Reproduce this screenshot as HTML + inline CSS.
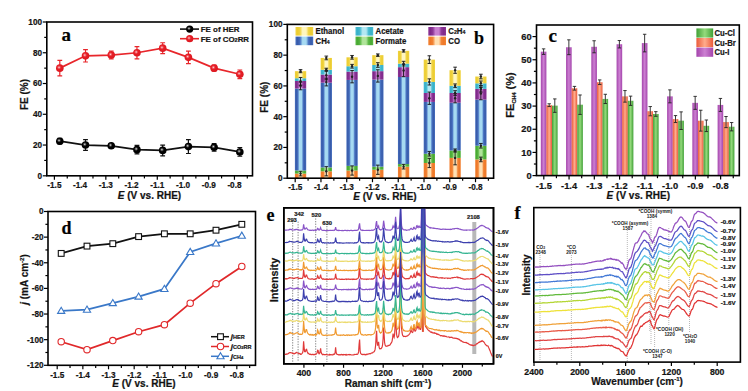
<!DOCTYPE html><html><head><meta charset="utf-8"><style>html,body{margin:0;padding:0;background:#fff;}svg{display:block;}</style></head><body><svg width="748" height="391" viewBox="0 0 748 391">
<rect width="748" height="391" fill="#fff"/>
<style>text{stroke:#222;stroke-width:0.22px;}</style>
<rect x="46.8" y="22" width="205.7" height="153.8" fill="none" stroke="#000" stroke-width="1.6"/>
<line x1="42.8" y1="175.8" x2="46.8" y2="175.8" stroke="#000" stroke-width="1.2"/>
<line x1="42.8" y1="145.04" x2="46.8" y2="145.04" stroke="#000" stroke-width="1.2"/>
<line x1="42.8" y1="114.28" x2="46.8" y2="114.28" stroke="#000" stroke-width="1.2"/>
<line x1="42.8" y1="83.52" x2="46.8" y2="83.52" stroke="#000" stroke-width="1.2"/>
<line x1="42.8" y1="52.76" x2="46.8" y2="52.76" stroke="#000" stroke-width="1.2"/>
<line x1="42.8" y1="22" x2="46.8" y2="22" stroke="#000" stroke-width="1.2"/>
<line x1="44.2" y1="160.42" x2="46.8" y2="160.42" stroke="#000" stroke-width="1.2"/>
<line x1="44.2" y1="129.66" x2="46.8" y2="129.66" stroke="#000" stroke-width="1.2"/>
<line x1="44.2" y1="98.9" x2="46.8" y2="98.9" stroke="#000" stroke-width="1.2"/>
<line x1="44.2" y1="68.14" x2="46.8" y2="68.14" stroke="#000" stroke-width="1.2"/>
<line x1="44.2" y1="37.38" x2="46.8" y2="37.38" stroke="#000" stroke-width="1.2"/>
<text x="42" y="178.7" font-family="Liberation Sans" font-weight="bold" font-size="8.2" text-anchor="end" fill="#111">0</text>
<text x="42" y="147.94" font-family="Liberation Sans" font-weight="bold" font-size="8.2" text-anchor="end" fill="#111">20</text>
<text x="42" y="117.18" font-family="Liberation Sans" font-weight="bold" font-size="8.2" text-anchor="end" fill="#111">40</text>
<text x="42" y="86.42" font-family="Liberation Sans" font-weight="bold" font-size="8.2" text-anchor="end" fill="#111">60</text>
<text x="42" y="55.66" font-family="Liberation Sans" font-weight="bold" font-size="8.2" text-anchor="end" fill="#111">80</text>
<text x="42" y="24.9" font-family="Liberation Sans" font-weight="bold" font-size="8.2" text-anchor="end" fill="#111">100</text>
<line x1="54.4" y1="175.8" x2="54.4" y2="179.8" stroke="#000" stroke-width="1.2"/>
<line x1="80.12" y1="175.8" x2="80.12" y2="179.8" stroke="#000" stroke-width="1.2"/>
<line x1="105.84" y1="175.8" x2="105.84" y2="179.8" stroke="#000" stroke-width="1.2"/>
<line x1="131.56" y1="175.8" x2="131.56" y2="179.8" stroke="#000" stroke-width="1.2"/>
<line x1="157.28" y1="175.8" x2="157.28" y2="179.8" stroke="#000" stroke-width="1.2"/>
<line x1="183" y1="175.8" x2="183" y2="179.8" stroke="#000" stroke-width="1.2"/>
<line x1="208.72" y1="175.8" x2="208.72" y2="179.8" stroke="#000" stroke-width="1.2"/>
<line x1="234.44" y1="175.8" x2="234.44" y2="179.8" stroke="#000" stroke-width="1.2"/>
<line x1="67.26" y1="175.8" x2="67.26" y2="178.4" stroke="#000" stroke-width="1.2"/>
<line x1="92.98" y1="175.8" x2="92.98" y2="178.4" stroke="#000" stroke-width="1.2"/>
<line x1="118.7" y1="175.8" x2="118.7" y2="178.4" stroke="#000" stroke-width="1.2"/>
<line x1="144.42" y1="175.8" x2="144.42" y2="178.4" stroke="#000" stroke-width="1.2"/>
<line x1="170.14" y1="175.8" x2="170.14" y2="178.4" stroke="#000" stroke-width="1.2"/>
<line x1="195.86" y1="175.8" x2="195.86" y2="178.4" stroke="#000" stroke-width="1.2"/>
<line x1="221.58" y1="175.8" x2="221.58" y2="178.4" stroke="#000" stroke-width="1.2"/>
<line x1="247.3" y1="175.8" x2="247.3" y2="178.4" stroke="#000" stroke-width="1.2"/>
<text x="54.4" y="188.2" font-family="Liberation Sans" font-weight="bold" font-size="8.2" text-anchor="middle" fill="#111">-1.5</text>
<text x="80.12" y="188.2" font-family="Liberation Sans" font-weight="bold" font-size="8.2" text-anchor="middle" fill="#111">-1.4</text>
<text x="105.84" y="188.2" font-family="Liberation Sans" font-weight="bold" font-size="8.2" text-anchor="middle" fill="#111">-1.3</text>
<text x="131.56" y="188.2" font-family="Liberation Sans" font-weight="bold" font-size="8.2" text-anchor="middle" fill="#111">-1.2</text>
<text x="157.28" y="188.2" font-family="Liberation Sans" font-weight="bold" font-size="8.2" text-anchor="middle" fill="#111">-1.1</text>
<text x="183" y="188.2" font-family="Liberation Sans" font-weight="bold" font-size="8.2" text-anchor="middle" fill="#111">-1.0</text>
<text x="208.72" y="188.2" font-family="Liberation Sans" font-weight="bold" font-size="8.2" text-anchor="middle" fill="#111">-0.9</text>
<text x="234.44" y="188.2" font-family="Liberation Sans" font-weight="bold" font-size="8.2" text-anchor="middle" fill="#111">-0.8</text>
<text transform="translate(27.5,94.5) rotate(-90)" font-family="Liberation Sans" font-weight="bold" font-size="10" text-anchor="middle" fill="#111">FE (%)</text>
<text x="149.5" y="199.3" font-family="Liberation Sans" font-weight="bold" font-size="10" text-anchor="middle" fill="#111"><tspan font-style="italic">E</tspan> (V vs. RHE)</text>
<text x="61.5" y="40.9" font-family="Liberation Serif" font-weight="bold" font-size="19" fill="#000">a</text>
<defs><radialGradient id="gb" cx="0.4" cy="0.4" r="0.6"><stop offset="0" stop-color="#eee"/><stop offset="0.22" stop-color="#555"/><stop offset="0.45" stop-color="#000"/><stop offset="1" stop-color="#000"/></radialGradient><radialGradient id="gr" cx="0.4" cy="0.4" r="0.6"><stop offset="0" stop-color="#ffdede"/><stop offset="0.22" stop-color="#f06068"/><stop offset="0.45" stop-color="#e61e26"/><stop offset="1" stop-color="#dc1820"/></radialGradient></defs>
<polyline points="59.8,141.19 85.52,145.04 111.24,145.81 136.96,149.65 162.68,150.42 188.4,146.58 214.12,147.35 239.84,151.96" fill="none" stroke="#111" stroke-width="1.7"/>
<polyline points="59.8,68.14 85.52,55.84 111.24,55.07 136.96,52.76 162.68,48.15 188.4,57.37 214.12,68.14 239.84,74.29" fill="none" stroke="#e8262b" stroke-width="1.7"/>
<path d="M59.8 138.43V143.96M57.4 138.43H62.2M57.4 143.96H62.2" stroke="#111" stroke-width="1.2" fill="none"/>
<circle cx="59.8" cy="141.19" r="3.8" fill="url(#gb)"/>
<path d="M85.52 139.66V150.42M83.12 139.66H87.92M83.12 150.42H87.92" stroke="#111" stroke-width="1.2" fill="none"/>
<circle cx="85.52" cy="145.04" r="3.8" fill="url(#gb)"/>
<path d="M111.24 143.5V148.12M108.84 143.5H113.64M108.84 148.12H113.64" stroke="#111" stroke-width="1.2" fill="none"/>
<circle cx="111.24" cy="145.81" r="3.8" fill="url(#gb)"/>
<path d="M136.96 145.35V153.96M134.56 145.35H139.36M134.56 153.96H139.36" stroke="#111" stroke-width="1.2" fill="none"/>
<circle cx="136.96" cy="149.65" r="3.8" fill="url(#gb)"/>
<path d="M162.68 145.04V155.81M160.28 145.04H165.08M160.28 155.81H165.08" stroke="#111" stroke-width="1.2" fill="none"/>
<circle cx="162.68" cy="150.42" r="3.8" fill="url(#gb)"/>
<path d="M188.4 139.66V153.5M186 139.66H190.8M186 153.5H190.8" stroke="#111" stroke-width="1.2" fill="none"/>
<circle cx="188.4" cy="146.58" r="3.8" fill="url(#gb)"/>
<path d="M214.12 143.5V151.19M211.72 143.5H216.52M211.72 151.19H216.52" stroke="#111" stroke-width="1.2" fill="none"/>
<circle cx="214.12" cy="147.35" r="3.8" fill="url(#gb)"/>
<path d="M239.84 147.65V156.27M237.44 147.65H242.24M237.44 156.27H242.24" stroke="#111" stroke-width="1.2" fill="none"/>
<circle cx="239.84" cy="151.96" r="3.8" fill="url(#gb)"/>
<path d="M59.8 60.45V75.83M57.4 60.45H62.2M57.4 75.83H62.2" stroke="#e8262b" stroke-width="1.2" fill="none"/>
<circle cx="59.8" cy="68.14" r="3.8" fill="url(#gr)"/>
<path d="M85.52 49.68V61.99M83.12 49.68H87.92M83.12 61.99H87.92" stroke="#e8262b" stroke-width="1.2" fill="none"/>
<circle cx="85.52" cy="55.84" r="3.8" fill="url(#gr)"/>
<path d="M111.24 51.22V58.91M108.84 51.22H113.64M108.84 58.91H113.64" stroke="#e8262b" stroke-width="1.2" fill="none"/>
<circle cx="111.24" cy="55.07" r="3.8" fill="url(#gr)"/>
<path d="M136.96 46.61V58.91M134.56 46.61H139.36M134.56 58.91H139.36" stroke="#e8262b" stroke-width="1.2" fill="none"/>
<circle cx="136.96" cy="52.76" r="3.8" fill="url(#gr)"/>
<path d="M162.68 42.76V53.53M160.28 42.76H165.08M160.28 53.53H165.08" stroke="#e8262b" stroke-width="1.2" fill="none"/>
<circle cx="162.68" cy="48.15" r="3.8" fill="url(#gr)"/>
<path d="M188.4 51.22V63.53M186 51.22H190.8M186 63.53H190.8" stroke="#e8262b" stroke-width="1.2" fill="none"/>
<circle cx="188.4" cy="57.37" r="3.8" fill="url(#gr)"/>
<path d="M214.12 65.06V71.22M211.72 65.06H216.52M211.72 71.22H216.52" stroke="#e8262b" stroke-width="1.2" fill="none"/>
<circle cx="214.12" cy="68.14" r="3.8" fill="url(#gr)"/>
<path d="M239.84 69.99V78.6M237.44 69.99H242.24M237.44 78.6H242.24" stroke="#e8262b" stroke-width="1.2" fill="none"/>
<circle cx="239.84" cy="74.29" r="3.8" fill="url(#gr)"/>
<line x1="180" y1="29.1" x2="199" y2="29.1" stroke="#111" stroke-width="1.6"/>
<circle cx="189.7" cy="29.1" r="3.6" fill="url(#gb)"/>
<text x="200.8" y="31.9" font-family="Liberation Sans" font-weight="bold" font-size="7.9" fill="#111">FE of HER</text>
<line x1="180" y1="38.7" x2="199" y2="38.7" stroke="#e8262b" stroke-width="1.6"/>
<circle cx="189.7" cy="38.7" r="3.6" fill="url(#gr)"/>
<text x="200.8" y="41.5" font-family="Liberation Sans" font-weight="bold" font-size="7.9" fill="#111">FE of CO<tspan font-size="5.5">2</tspan>RR</text>
<defs><linearGradient id="gEt" x1="0" x2="1" y1="0" y2="0"><stop offset="0" stop-color="#f0d444"/><stop offset="0.12" stop-color="#eccc30"/><stop offset="0.26" stop-color="#f0d444"/><stop offset="0.4" stop-color="#fff6c0"/><stop offset="0.6" stop-color="#fff6c0"/><stop offset="0.74" stop-color="#f0d444"/><stop offset="0.88" stop-color="#eccc30"/><stop offset="1" stop-color="#f0d444"/></linearGradient></defs>
<defs><linearGradient id="gAc" x1="0" x2="1" y1="0" y2="0"><stop offset="0" stop-color="#48bcd2"/><stop offset="0.12" stop-color="#38b0c8"/><stop offset="0.26" stop-color="#48bcd2"/><stop offset="0.4" stop-color="#b4e8f2"/><stop offset="0.6" stop-color="#b4e8f2"/><stop offset="0.74" stop-color="#48bcd2"/><stop offset="0.88" stop-color="#38b0c8"/><stop offset="1" stop-color="#48bcd2"/></linearGradient></defs>
<defs><linearGradient id="gC2" x1="0" x2="1" y1="0" y2="0"><stop offset="0" stop-color="#8e3898"/><stop offset="0.12" stop-color="#7e2888"/><stop offset="0.26" stop-color="#8e3898"/><stop offset="0.4" stop-color="#c87ed0"/><stop offset="0.6" stop-color="#c87ed0"/><stop offset="0.74" stop-color="#8e3898"/><stop offset="0.88" stop-color="#7e2888"/><stop offset="1" stop-color="#8e3898"/></linearGradient></defs>
<defs><linearGradient id="gCH" x1="0" x2="1" y1="0" y2="0"><stop offset="0" stop-color="#4670c0"/><stop offset="0.12" stop-color="#385aa8"/><stop offset="0.26" stop-color="#4670c0"/><stop offset="0.4" stop-color="#a6daf2"/><stop offset="0.6" stop-color="#a6daf2"/><stop offset="0.74" stop-color="#4670c0"/><stop offset="0.88" stop-color="#385aa8"/><stop offset="1" stop-color="#4670c0"/></linearGradient></defs>
<defs><linearGradient id="gFo" x1="0" x2="1" y1="0" y2="0"><stop offset="0" stop-color="#5ab844"/><stop offset="0.12" stop-color="#48a832"/><stop offset="0.26" stop-color="#5ab844"/><stop offset="0.4" stop-color="#b0e49a"/><stop offset="0.6" stop-color="#b0e49a"/><stop offset="0.74" stop-color="#5ab844"/><stop offset="0.88" stop-color="#48a832"/><stop offset="1" stop-color="#5ab844"/></linearGradient></defs>
<defs><linearGradient id="gCO" x1="0" x2="1" y1="0" y2="0"><stop offset="0" stop-color="#f28436"/><stop offset="0.12" stop-color="#ee7828"/><stop offset="0.26" stop-color="#f28436"/><stop offset="0.4" stop-color="#ffe0b4"/><stop offset="0.6" stop-color="#ffe0b4"/><stop offset="0.74" stop-color="#f28436"/><stop offset="0.88" stop-color="#ee7828"/><stop offset="1" stop-color="#f28436"/></linearGradient></defs>
<rect x="294.9" y="173.59" width="11.3" height="4.61" fill="url(#gCO)"/>
<rect x="294.9" y="170.51" width="11.3" height="3.08" fill="url(#gFo)"/>
<rect x="294.9" y="88.53" width="11.3" height="81.98" fill="url(#gCH)"/>
<rect x="294.9" y="81" width="11.3" height="7.54" fill="url(#gC2)"/>
<rect x="294.9" y="78.23" width="11.3" height="2.77" fill="url(#gAc)"/>
<rect x="294.9" y="71.16" width="11.3" height="7.07" fill="url(#gEt)"/>
<rect x="320.66" y="171.28" width="11.3" height="6.92" fill="url(#gCO)"/>
<rect x="320.66" y="167.43" width="11.3" height="3.84" fill="url(#gFo)"/>
<rect x="320.66" y="82.69" width="11.3" height="84.74" fill="url(#gCH)"/>
<rect x="320.66" y="74.54" width="11.3" height="8.15" fill="url(#gC2)"/>
<rect x="320.66" y="69.77" width="11.3" height="4.77" fill="url(#gAc)"/>
<rect x="320.66" y="57.93" width="11.3" height="11.84" fill="url(#gEt)"/>
<rect x="346.42" y="170.51" width="11.3" height="7.69" fill="url(#gCO)"/>
<rect x="346.42" y="165.9" width="11.3" height="4.61" fill="url(#gFo)"/>
<rect x="346.42" y="79.92" width="11.3" height="85.97" fill="url(#gCH)"/>
<rect x="346.42" y="71.62" width="11.3" height="8.31" fill="url(#gC2)"/>
<rect x="346.42" y="66.23" width="11.3" height="5.38" fill="url(#gAc)"/>
<rect x="346.42" y="57.31" width="11.3" height="8.92" fill="url(#gEt)"/>
<rect x="372.18" y="169.74" width="11.3" height="8.46" fill="url(#gCO)"/>
<rect x="372.18" y="166.66" width="11.3" height="3.08" fill="url(#gFo)"/>
<rect x="372.18" y="79.61" width="11.3" height="87.05" fill="url(#gCH)"/>
<rect x="372.18" y="71.16" width="11.3" height="8.46" fill="url(#gC2)"/>
<rect x="372.18" y="65" width="11.3" height="6.15" fill="url(#gAc)"/>
<rect x="372.18" y="55.16" width="11.3" height="9.84" fill="url(#gEt)"/>
<rect x="397.94" y="166.66" width="11.3" height="11.53" fill="url(#gCO)"/>
<rect x="397.94" y="164.05" width="11.3" height="2.61" fill="url(#gFo)"/>
<rect x="397.94" y="77" width="11.3" height="87.05" fill="url(#gCH)"/>
<rect x="397.94" y="67.16" width="11.3" height="9.84" fill="url(#gC2)"/>
<rect x="397.94" y="63.62" width="11.3" height="3.54" fill="url(#gAc)"/>
<rect x="397.94" y="50.85" width="11.3" height="12.77" fill="url(#gEt)"/>
<rect x="423.7" y="162.97" width="11.3" height="15.23" fill="url(#gCO)"/>
<rect x="423.7" y="153.75" width="11.3" height="9.23" fill="url(#gFo)"/>
<rect x="423.7" y="101.92" width="11.3" height="51.83" fill="url(#gCH)"/>
<rect x="423.7" y="92.99" width="11.3" height="8.92" fill="url(#gC2)"/>
<rect x="423.7" y="81.92" width="11.3" height="11.07" fill="url(#gAc)"/>
<rect x="423.7" y="59.62" width="11.3" height="22.3" fill="url(#gEt)"/>
<rect x="449.46" y="157.9" width="11.3" height="20.3" fill="url(#gCO)"/>
<rect x="449.46" y="150.52" width="11.3" height="7.38" fill="url(#gFo)"/>
<rect x="449.46" y="102.68" width="11.3" height="47.83" fill="url(#gCH)"/>
<rect x="449.46" y="92.99" width="11.3" height="9.69" fill="url(#gC2)"/>
<rect x="449.46" y="85.77" width="11.3" height="7.23" fill="url(#gAc)"/>
<rect x="449.46" y="70.23" width="11.3" height="15.53" fill="url(#gEt)"/>
<rect x="475.22" y="159.44" width="11.3" height="18.76" fill="url(#gCO)"/>
<rect x="475.22" y="145.75" width="11.3" height="13.69" fill="url(#gFo)"/>
<rect x="475.22" y="99.61" width="11.3" height="46.14" fill="url(#gCH)"/>
<rect x="475.22" y="88.84" width="11.3" height="10.77" fill="url(#gC2)"/>
<rect x="475.22" y="83.31" width="11.3" height="5.54" fill="url(#gAc)"/>
<rect x="475.22" y="76.54" width="11.3" height="6.77" fill="url(#gEt)"/>
<path d="M300.55 171.28V175.89M298.75 171.28H302.35M298.75 175.89H302.35" stroke="#111" stroke-width="0.9" fill="none"/>
<circle cx="300.55" cy="173.59" r="1.2" fill="#222"/>
<path d="M300.55 82.08V89.77M298.75 82.08H302.35M298.75 89.77H302.35" stroke="#111" stroke-width="0.9" fill="none"/>
<circle cx="300.55" cy="85.92" r="1.2" fill="#222"/>
<path d="M300.55 77.46V85.15M298.75 77.46H302.35M298.75 85.15H302.35" stroke="#111" stroke-width="0.9" fill="none"/>
<circle cx="300.55" cy="81.31" r="1.2" fill="#222"/>
<path d="M300.55 69.62V72.69M298.75 69.62H302.35M298.75 72.69H302.35" stroke="#111" stroke-width="0.9" fill="none"/>
<circle cx="300.55" cy="71.16" r="1.2" fill="#222"/>
<path d="M326.31 166.66V175.89M324.51 166.66H328.11M324.51 175.89H328.11" stroke="#111" stroke-width="0.9" fill="none"/>
<circle cx="326.31" cy="171.28" r="1.2" fill="#222"/>
<path d="M326.31 78.23V85.92M324.51 78.23H328.11M324.51 85.92H328.11" stroke="#111" stroke-width="0.9" fill="none"/>
<circle cx="326.31" cy="82.08" r="1.2" fill="#222"/>
<path d="M326.31 70.54V79.77M324.51 70.54H328.11M324.51 79.77H328.11" stroke="#111" stroke-width="0.9" fill="none"/>
<circle cx="326.31" cy="75.15" r="1.2" fill="#222"/>
<path d="M326.31 68.23V71.31M324.51 68.23H328.11M324.51 71.31H328.11" stroke="#111" stroke-width="0.9" fill="none"/>
<circle cx="326.31" cy="69.77" r="1.2" fill="#222"/>
<path d="M326.31 56.08V59.77M324.51 56.08H328.11M324.51 59.77H328.11" stroke="#111" stroke-width="0.9" fill="none"/>
<circle cx="326.31" cy="57.93" r="1.2" fill="#222"/>
<path d="M352.07 165.9V175.12M350.27 165.9H353.87M350.27 175.12H353.87" stroke="#111" stroke-width="0.9" fill="none"/>
<circle cx="352.07" cy="170.51" r="1.2" fill="#222"/>
<path d="M352.07 70.54V82.84M350.27 70.54H353.87M350.27 82.84H353.87" stroke="#111" stroke-width="0.9" fill="none"/>
<circle cx="352.07" cy="76.69" r="1.2" fill="#222"/>
<path d="M352.07 64.39V68.08M350.27 64.39H353.87M350.27 68.08H353.87" stroke="#111" stroke-width="0.9" fill="none"/>
<circle cx="352.07" cy="66.23" r="1.2" fill="#222"/>
<path d="M352.07 55.47V59.16M350.27 55.47H353.87M350.27 59.16H353.87" stroke="#111" stroke-width="0.9" fill="none"/>
<circle cx="352.07" cy="57.31" r="1.2" fill="#222"/>
<path d="M377.83 165.13V174.35M376.03 165.13H379.63M376.03 174.35H379.63" stroke="#111" stroke-width="0.9" fill="none"/>
<circle cx="377.83" cy="169.74" r="1.2" fill="#222"/>
<path d="M377.83 69.77V82.08M376.03 69.77H379.63M376.03 82.08H379.63" stroke="#111" stroke-width="0.9" fill="none"/>
<circle cx="377.83" cy="75.92" r="1.2" fill="#222"/>
<path d="M377.83 62.7V67.31M376.03 62.7H379.63M376.03 67.31H379.63" stroke="#111" stroke-width="0.9" fill="none"/>
<circle cx="377.83" cy="65" r="1.2" fill="#222"/>
<path d="M377.83 53.93V56.39M376.03 53.93H379.63M376.03 56.39H379.63" stroke="#111" stroke-width="0.9" fill="none"/>
<circle cx="377.83" cy="55.16" r="1.2" fill="#222"/>
<path d="M403.59 164.36V168.97M401.79 164.36H405.39M401.79 168.97H405.39" stroke="#111" stroke-width="0.9" fill="none"/>
<circle cx="403.59" cy="166.66" r="1.2" fill="#222"/>
<path d="M403.59 64.39V76.69M401.79 64.39H405.39M401.79 76.69H405.39" stroke="#111" stroke-width="0.9" fill="none"/>
<circle cx="403.59" cy="70.54" r="1.2" fill="#222"/>
<path d="M403.59 61.31V65.93M401.79 61.31H405.39M401.79 65.93H405.39" stroke="#111" stroke-width="0.9" fill="none"/>
<circle cx="403.59" cy="63.62" r="1.2" fill="#222"/>
<path d="M403.59 49.62V52.08M401.79 49.62H405.39M401.79 52.08H405.39" stroke="#111" stroke-width="0.9" fill="none"/>
<circle cx="403.59" cy="50.85" r="1.2" fill="#222"/>
<path d="M429.35 158.36V167.59M427.55 158.36H431.15M427.55 167.59H431.15" stroke="#111" stroke-width="0.9" fill="none"/>
<circle cx="429.35" cy="162.97" r="1.2" fill="#222"/>
<path d="M429.35 151.44V156.05M427.55 151.44H431.15M427.55 156.05H431.15" stroke="#111" stroke-width="0.9" fill="none"/>
<circle cx="429.35" cy="153.75" r="1.2" fill="#222"/>
<path d="M429.35 92.07V104.38M427.55 92.07H431.15M427.55 104.38H431.15" stroke="#111" stroke-width="0.9" fill="none"/>
<circle cx="429.35" cy="98.22" r="1.2" fill="#222"/>
<path d="M429.35 78.85V85M427.55 78.85H431.15M427.55 85H431.15" stroke="#111" stroke-width="0.9" fill="none"/>
<circle cx="429.35" cy="81.92" r="1.2" fill="#222"/>
<path d="M429.35 55.78V63.47M427.55 55.78H431.15M427.55 63.47H431.15" stroke="#111" stroke-width="0.9" fill="none"/>
<circle cx="429.35" cy="59.62" r="1.2" fill="#222"/>
<path d="M455.11 150.98V164.82M453.31 150.98H456.91M453.31 164.82H456.91" stroke="#111" stroke-width="0.9" fill="none"/>
<circle cx="455.11" cy="157.9" r="1.2" fill="#222"/>
<path d="M455.11 148.98V152.05M453.31 148.98H456.91M453.31 152.05H456.91" stroke="#111" stroke-width="0.9" fill="none"/>
<circle cx="455.11" cy="150.52" r="1.2" fill="#222"/>
<path d="M455.11 93.61V102.84M453.31 93.61H456.91M453.31 102.84H456.91" stroke="#111" stroke-width="0.9" fill="none"/>
<circle cx="455.11" cy="98.22" r="1.2" fill="#222"/>
<path d="M455.11 90.69V95.3M453.31 90.69H456.91M453.31 95.3H456.91" stroke="#111" stroke-width="0.9" fill="none"/>
<circle cx="455.11" cy="92.99" r="1.2" fill="#222"/>
<path d="M455.11 83.92V87.61M453.31 83.92H456.91M453.31 87.61H456.91" stroke="#111" stroke-width="0.9" fill="none"/>
<circle cx="455.11" cy="85.77" r="1.2" fill="#222"/>
<path d="M455.11 67.16V73.31M453.31 67.16H456.91M453.31 73.31H456.91" stroke="#111" stroke-width="0.9" fill="none"/>
<circle cx="455.11" cy="70.23" r="1.2" fill="#222"/>
<path d="M480.87 157.13V161.74M479.07 157.13H482.67M479.07 161.74H482.67" stroke="#111" stroke-width="0.9" fill="none"/>
<circle cx="480.87" cy="159.44" r="1.2" fill="#222"/>
<path d="M480.87 143.44V148.06M479.07 143.44H482.67M479.07 148.06H482.67" stroke="#111" stroke-width="0.9" fill="none"/>
<circle cx="480.87" cy="145.75" r="1.2" fill="#222"/>
<path d="M480.87 87.46V99.76M479.07 87.46H482.67M479.07 99.76H482.67" stroke="#111" stroke-width="0.9" fill="none"/>
<circle cx="480.87" cy="93.61" r="1.2" fill="#222"/>
<path d="M480.87 85.92V92.07M479.07 85.92H482.67M479.07 92.07H482.67" stroke="#111" stroke-width="0.9" fill="none"/>
<circle cx="480.87" cy="89" r="1.2" fill="#222"/>
<path d="M480.87 81V85.61M479.07 81H482.67M479.07 85.61H482.67" stroke="#111" stroke-width="0.9" fill="none"/>
<circle cx="480.87" cy="83.31" r="1.2" fill="#222"/>
<path d="M480.87 74.23V78.85M479.07 74.23H482.67M479.07 78.85H482.67" stroke="#111" stroke-width="0.9" fill="none"/>
<circle cx="480.87" cy="76.54" r="1.2" fill="#222"/>
<rect x="287.3" y="24.4" width="206.3" height="153.8" fill="none" stroke="#000" stroke-width="1.6"/>
<line x1="283.3" y1="178.2" x2="287.3" y2="178.2" stroke="#000" stroke-width="1.2"/>
<line x1="283.3" y1="147.44" x2="287.3" y2="147.44" stroke="#000" stroke-width="1.2"/>
<line x1="283.3" y1="116.68" x2="287.3" y2="116.68" stroke="#000" stroke-width="1.2"/>
<line x1="283.3" y1="85.92" x2="287.3" y2="85.92" stroke="#000" stroke-width="1.2"/>
<line x1="283.3" y1="55.16" x2="287.3" y2="55.16" stroke="#000" stroke-width="1.2"/>
<line x1="283.3" y1="24.4" x2="287.3" y2="24.4" stroke="#000" stroke-width="1.2"/>
<line x1="284.7" y1="162.82" x2="287.3" y2="162.82" stroke="#000" stroke-width="1.2"/>
<line x1="284.7" y1="132.06" x2="287.3" y2="132.06" stroke="#000" stroke-width="1.2"/>
<line x1="284.7" y1="101.3" x2="287.3" y2="101.3" stroke="#000" stroke-width="1.2"/>
<line x1="284.7" y1="70.54" x2="287.3" y2="70.54" stroke="#000" stroke-width="1.2"/>
<line x1="284.7" y1="39.78" x2="287.3" y2="39.78" stroke="#000" stroke-width="1.2"/>
<text x="282.5" y="181.1" font-family="Liberation Sans" font-weight="bold" font-size="8.2" text-anchor="end" fill="#111">0</text>
<text x="282.5" y="150.34" font-family="Liberation Sans" font-weight="bold" font-size="8.2" text-anchor="end" fill="#111">20</text>
<text x="282.5" y="119.58" font-family="Liberation Sans" font-weight="bold" font-size="8.2" text-anchor="end" fill="#111">40</text>
<text x="282.5" y="88.82" font-family="Liberation Sans" font-weight="bold" font-size="8.2" text-anchor="end" fill="#111">60</text>
<text x="282.5" y="58.06" font-family="Liberation Sans" font-weight="bold" font-size="8.2" text-anchor="end" fill="#111">80</text>
<text x="282.5" y="27.3" font-family="Liberation Sans" font-weight="bold" font-size="8.2" text-anchor="end" fill="#111">100</text>
<line x1="295.2" y1="178.2" x2="295.2" y2="182.2" stroke="#000" stroke-width="1.2"/>
<line x1="320.96" y1="178.2" x2="320.96" y2="182.2" stroke="#000" stroke-width="1.2"/>
<line x1="346.72" y1="178.2" x2="346.72" y2="182.2" stroke="#000" stroke-width="1.2"/>
<line x1="372.48" y1="178.2" x2="372.48" y2="182.2" stroke="#000" stroke-width="1.2"/>
<line x1="398.24" y1="178.2" x2="398.24" y2="182.2" stroke="#000" stroke-width="1.2"/>
<line x1="424" y1="178.2" x2="424" y2="182.2" stroke="#000" stroke-width="1.2"/>
<line x1="449.76" y1="178.2" x2="449.76" y2="182.2" stroke="#000" stroke-width="1.2"/>
<line x1="475.52" y1="178.2" x2="475.52" y2="182.2" stroke="#000" stroke-width="1.2"/>
<line x1="308.08" y1="178.2" x2="308.08" y2="180.8" stroke="#000" stroke-width="1.2"/>
<line x1="333.84" y1="178.2" x2="333.84" y2="180.8" stroke="#000" stroke-width="1.2"/>
<line x1="359.6" y1="178.2" x2="359.6" y2="180.8" stroke="#000" stroke-width="1.2"/>
<line x1="385.36" y1="178.2" x2="385.36" y2="180.8" stroke="#000" stroke-width="1.2"/>
<line x1="411.12" y1="178.2" x2="411.12" y2="180.8" stroke="#000" stroke-width="1.2"/>
<line x1="436.88" y1="178.2" x2="436.88" y2="180.8" stroke="#000" stroke-width="1.2"/>
<line x1="462.64" y1="178.2" x2="462.64" y2="180.8" stroke="#000" stroke-width="1.2"/>
<line x1="488.4" y1="178.2" x2="488.4" y2="180.8" stroke="#000" stroke-width="1.2"/>
<text x="295.2" y="190" font-family="Liberation Sans" font-weight="bold" font-size="8.2" text-anchor="middle" fill="#111">-1.5</text>
<text x="320.96" y="190" font-family="Liberation Sans" font-weight="bold" font-size="8.2" text-anchor="middle" fill="#111">-1.4</text>
<text x="346.72" y="190" font-family="Liberation Sans" font-weight="bold" font-size="8.2" text-anchor="middle" fill="#111">-1.3</text>
<text x="372.48" y="190" font-family="Liberation Sans" font-weight="bold" font-size="8.2" text-anchor="middle" fill="#111">-1.2</text>
<text x="398.24" y="190" font-family="Liberation Sans" font-weight="bold" font-size="8.2" text-anchor="middle" fill="#111">-1.1</text>
<text x="424" y="190" font-family="Liberation Sans" font-weight="bold" font-size="8.2" text-anchor="middle" fill="#111">-1.0</text>
<text x="449.76" y="190" font-family="Liberation Sans" font-weight="bold" font-size="8.2" text-anchor="middle" fill="#111">-0.9</text>
<text x="475.52" y="190" font-family="Liberation Sans" font-weight="bold" font-size="8.2" text-anchor="middle" fill="#111">-0.8</text>
<text transform="translate(268,97.2) rotate(-90)" font-family="Liberation Sans" font-weight="bold" font-size="10" text-anchor="middle" fill="#111">FE (%)</text>
<text x="385" y="199.6" font-family="Liberation Sans" font-weight="bold" font-size="10" text-anchor="middle" fill="#111"><tspan font-style="italic">E</tspan> (V vs. RHE)</text>
<text x="474" y="44.2" font-family="Liberation Serif" font-weight="bold" font-size="18" fill="#000">b</text>
<rect x="295.5" y="27" width="17.7" height="8.6" fill="url(#gEt)"/>
<text transform="translate(315.5,34.2) scale(0.94,1)" font-family="Liberation Sans" font-weight="bold" font-size="8.3" fill="#111">Ethanol</text>
<rect x="295.5" y="36.6" width="17.7" height="8.6" fill="url(#gCH)"/>
<text transform="translate(315.5,43.8) scale(0.94,1)" font-family="Liberation Sans" font-weight="bold" font-size="8.3" fill="#111">CH<tspan font-size="5.5">4</tspan></text>
<rect x="355.5" y="27" width="17.7" height="8.6" fill="url(#gAc)"/>
<text transform="translate(375.5,34.2) scale(0.94,1)" font-family="Liberation Sans" font-weight="bold" font-size="8.3" fill="#111">Acetate</text>
<rect x="355.5" y="36.6" width="17.7" height="8.6" fill="url(#gFo)"/>
<text transform="translate(375.5,43.8) scale(0.94,1)" font-family="Liberation Sans" font-weight="bold" font-size="8.3" fill="#111">Formate</text>
<rect x="428.3" y="27" width="17.7" height="8.6" fill="url(#gC2)"/>
<text transform="translate(448.3,34.2) scale(0.94,1)" font-family="Liberation Sans" font-weight="bold" font-size="8.3" fill="#111">C<tspan font-size="5.5">2</tspan>H<tspan font-size="5.5">4</tspan></text>
<rect x="428.3" y="36.6" width="17.7" height="8.6" fill="url(#gCO)"/>
<text transform="translate(448.3,43.8) scale(0.94,1)" font-family="Liberation Sans" font-weight="bold" font-size="8.3" fill="#111">CO</text>
<defs><linearGradient id="gI" x1="0" x2="1" y1="0" y2="0"><stop offset="0" stop-color="#a444ac"/><stop offset="0.5" stop-color="#cc80d2"/><stop offset="1" stop-color="#a444ac"/></linearGradient></defs>
<defs><linearGradient id="gBr" x1="0" x2="1" y1="0" y2="0"><stop offset="0" stop-color="#ea5a3a"/><stop offset="0.5" stop-color="#ffac8c"/><stop offset="1" stop-color="#ea5a3a"/></linearGradient></defs>
<defs><linearGradient id="gCl" x1="0" x2="1" y1="0" y2="0"><stop offset="0" stop-color="#40a036"/><stop offset="0.5" stop-color="#94da7c"/><stop offset="1" stop-color="#40a036"/></linearGradient></defs>
<rect x="540.8" y="51.64" width="5.6" height="123.96" fill="url(#gI)"/>
<rect x="546.4" y="105.17" width="5.6" height="70.43" fill="url(#gBr)"/>
<rect x="552" y="105.63" width="5.6" height="69.97" fill="url(#gCl)"/>
<rect x="566.06" y="47.24" width="5.6" height="128.36" fill="url(#gI)"/>
<rect x="571.66" y="88.25" width="5.6" height="87.35" fill="url(#gBr)"/>
<rect x="577.26" y="104.7" width="5.6" height="70.9" fill="url(#gCl)"/>
<rect x="591.32" y="46.78" width="5.6" height="128.82" fill="url(#gI)"/>
<rect x="596.92" y="82.23" width="5.6" height="93.37" fill="url(#gBr)"/>
<rect x="602.52" y="98.91" width="5.6" height="76.69" fill="url(#gCl)"/>
<rect x="616.58" y="44.23" width="5.6" height="131.37" fill="url(#gI)"/>
<rect x="622.18" y="96.36" width="5.6" height="79.24" fill="url(#gBr)"/>
<rect x="627.78" y="100.76" width="5.6" height="74.84" fill="url(#gCl)"/>
<rect x="641.84" y="43.07" width="5.6" height="132.53" fill="url(#gI)"/>
<rect x="647.44" y="111.19" width="5.6" height="64.41" fill="url(#gBr)"/>
<rect x="653.04" y="113.97" width="5.6" height="61.63" fill="url(#gCl)"/>
<rect x="667.1" y="96.36" width="5.6" height="79.24" fill="url(#gI)"/>
<rect x="672.7" y="119.07" width="5.6" height="56.53" fill="url(#gBr)"/>
<rect x="678.3" y="120.69" width="5.6" height="54.91" fill="url(#gCl)"/>
<rect x="692.36" y="102.85" width="5.6" height="72.75" fill="url(#gI)"/>
<rect x="697.96" y="120.69" width="5.6" height="54.91" fill="url(#gBr)"/>
<rect x="703.56" y="125.79" width="5.6" height="49.81" fill="url(#gCl)"/>
<rect x="717.62" y="104.93" width="5.6" height="70.67" fill="url(#gI)"/>
<rect x="723.22" y="122.08" width="5.6" height="53.52" fill="url(#gBr)"/>
<rect x="728.82" y="126.71" width="5.6" height="48.89" fill="url(#gCl)"/>
<path d="M543.6 48.86V54.42M541.9 48.86H545.3M541.9 54.42H545.3" stroke="#222" stroke-width="0.9" fill="none"/>
<path d="M549.2 103.78V106.56M547.5 103.78H550.9M547.5 106.56H550.9" stroke="#222" stroke-width="0.9" fill="none"/>
<path d="M554.8 98.91V112.35M553.1 98.91H556.5M553.1 112.35H556.5" stroke="#222" stroke-width="0.9" fill="none"/>
<path d="M568.86 39.83V54.66M567.16 39.83H570.56M567.16 54.66H570.56" stroke="#222" stroke-width="0.9" fill="none"/>
<path d="M574.46 86.4V90.11M572.76 86.4H576.16M572.76 90.11H576.16" stroke="#222" stroke-width="0.9" fill="none"/>
<path d="M580.06 94.97V114.43M578.36 94.97H581.76M578.36 114.43H581.76" stroke="#222" stroke-width="0.9" fill="none"/>
<path d="M594.12 40.76V52.8M592.42 40.76H595.82M592.42 52.8H595.82" stroke="#222" stroke-width="0.9" fill="none"/>
<path d="M599.72 79.91V84.54M598.02 79.91H601.42M598.02 84.54H601.42" stroke="#222" stroke-width="0.9" fill="none"/>
<path d="M605.32 94.28V103.54M603.62 94.28H607.02M603.62 103.54H607.02" stroke="#222" stroke-width="0.9" fill="none"/>
<path d="M619.38 40.52V47.94M617.68 40.52H621.08M617.68 47.94H621.08" stroke="#222" stroke-width="0.9" fill="none"/>
<path d="M624.98 90.57V102.15M623.28 90.57H626.68M623.28 102.15H626.68" stroke="#222" stroke-width="0.9" fill="none"/>
<path d="M630.58 96.13V105.4M628.88 96.13H632.28M628.88 105.4H632.28" stroke="#222" stroke-width="0.9" fill="none"/>
<path d="M644.64 34.27V51.88M642.94 34.27H646.34M642.94 51.88H646.34" stroke="#222" stroke-width="0.9" fill="none"/>
<path d="M650.24 106.56V115.82M648.54 106.56H651.94M648.54 115.82H651.94" stroke="#222" stroke-width="0.9" fill="none"/>
<path d="M655.84 111.65V116.29M654.14 111.65H657.54M654.14 116.29H657.54" stroke="#222" stroke-width="0.9" fill="none"/>
<path d="M669.9 89.87V102.85M668.2 89.87H671.6M668.2 102.85H671.6" stroke="#222" stroke-width="0.9" fill="none"/>
<path d="M675.5 115.59V122.54M673.8 115.59H677.2M673.8 122.54H677.2" stroke="#222" stroke-width="0.9" fill="none"/>
<path d="M681.1 111.88V129.49M679.4 111.88H682.8M679.4 129.49H682.8" stroke="#222" stroke-width="0.9" fill="none"/>
<path d="M695.16 96.36V109.34M693.46 96.36H696.86M693.46 109.34H696.86" stroke="#222" stroke-width="0.9" fill="none"/>
<path d="M700.76 110.26V131.12M699.06 110.26H702.46M699.06 131.12H702.46" stroke="#222" stroke-width="0.9" fill="none"/>
<path d="M706.36 119.99V131.58M704.66 119.99H708.06M704.66 131.58H708.06" stroke="#222" stroke-width="0.9" fill="none"/>
<path d="M720.42 98.45V111.42M718.72 98.45H722.12M718.72 111.42H722.12" stroke="#222" stroke-width="0.9" fill="none"/>
<path d="M726.02 116.52V127.64M724.32 116.52H727.72M724.32 127.64H727.72" stroke="#222" stroke-width="0.9" fill="none"/>
<path d="M731.62 122.54V130.88M729.92 122.54H733.32M729.92 130.88H733.32" stroke="#222" stroke-width="0.9" fill="none"/>
<rect x="536.5" y="25" width="202.8" height="150.6" fill="none" stroke="#000" stroke-width="1.6"/>
<line x1="532.5" y1="175.6" x2="536.5" y2="175.6" stroke="#000" stroke-width="1.2"/>
<line x1="532.5" y1="152.43" x2="536.5" y2="152.43" stroke="#000" stroke-width="1.2"/>
<line x1="532.5" y1="129.26" x2="536.5" y2="129.26" stroke="#000" stroke-width="1.2"/>
<line x1="532.5" y1="106.09" x2="536.5" y2="106.09" stroke="#000" stroke-width="1.2"/>
<line x1="532.5" y1="82.92" x2="536.5" y2="82.92" stroke="#000" stroke-width="1.2"/>
<line x1="532.5" y1="59.75" x2="536.5" y2="59.75" stroke="#000" stroke-width="1.2"/>
<line x1="532.5" y1="36.58" x2="536.5" y2="36.58" stroke="#000" stroke-width="1.2"/>
<line x1="533.9" y1="164.02" x2="536.5" y2="164.02" stroke="#000" stroke-width="1.2"/>
<line x1="533.9" y1="140.85" x2="536.5" y2="140.85" stroke="#000" stroke-width="1.2"/>
<line x1="533.9" y1="117.68" x2="536.5" y2="117.68" stroke="#000" stroke-width="1.2"/>
<line x1="533.9" y1="94.51" x2="536.5" y2="94.51" stroke="#000" stroke-width="1.2"/>
<line x1="533.9" y1="71.34" x2="536.5" y2="71.34" stroke="#000" stroke-width="1.2"/>
<line x1="533.9" y1="48.17" x2="536.5" y2="48.17" stroke="#000" stroke-width="1.2"/>
<text x="531.6" y="178.8" font-family="Liberation Sans" font-weight="bold" font-size="9.3" text-anchor="end" fill="#111">0</text>
<text x="531.6" y="155.63" font-family="Liberation Sans" font-weight="bold" font-size="9.3" text-anchor="end" fill="#111">10</text>
<text x="531.6" y="132.46" font-family="Liberation Sans" font-weight="bold" font-size="9.3" text-anchor="end" fill="#111">20</text>
<text x="531.6" y="109.29" font-family="Liberation Sans" font-weight="bold" font-size="9.3" text-anchor="end" fill="#111">30</text>
<text x="531.6" y="86.12" font-family="Liberation Sans" font-weight="bold" font-size="9.3" text-anchor="end" fill="#111">40</text>
<text x="531.6" y="62.95" font-family="Liberation Sans" font-weight="bold" font-size="9.3" text-anchor="end" fill="#111">50</text>
<text x="531.6" y="39.78" font-family="Liberation Sans" font-weight="bold" font-size="9.3" text-anchor="end" fill="#111">60</text>
<line x1="543.8" y1="175.6" x2="543.8" y2="179.6" stroke="#000" stroke-width="1.2"/>
<line x1="569.06" y1="175.6" x2="569.06" y2="179.6" stroke="#000" stroke-width="1.2"/>
<line x1="594.32" y1="175.6" x2="594.32" y2="179.6" stroke="#000" stroke-width="1.2"/>
<line x1="619.58" y1="175.6" x2="619.58" y2="179.6" stroke="#000" stroke-width="1.2"/>
<line x1="644.84" y1="175.6" x2="644.84" y2="179.6" stroke="#000" stroke-width="1.2"/>
<line x1="670.1" y1="175.6" x2="670.1" y2="179.6" stroke="#000" stroke-width="1.2"/>
<line x1="695.36" y1="175.6" x2="695.36" y2="179.6" stroke="#000" stroke-width="1.2"/>
<line x1="720.62" y1="175.6" x2="720.62" y2="179.6" stroke="#000" stroke-width="1.2"/>
<line x1="556.43" y1="175.6" x2="556.43" y2="178.2" stroke="#000" stroke-width="1.2"/>
<line x1="581.69" y1="175.6" x2="581.69" y2="178.2" stroke="#000" stroke-width="1.2"/>
<line x1="606.95" y1="175.6" x2="606.95" y2="178.2" stroke="#000" stroke-width="1.2"/>
<line x1="632.21" y1="175.6" x2="632.21" y2="178.2" stroke="#000" stroke-width="1.2"/>
<line x1="657.47" y1="175.6" x2="657.47" y2="178.2" stroke="#000" stroke-width="1.2"/>
<line x1="682.73" y1="175.6" x2="682.73" y2="178.2" stroke="#000" stroke-width="1.2"/>
<line x1="707.99" y1="175.6" x2="707.99" y2="178.2" stroke="#000" stroke-width="1.2"/>
<line x1="733.25" y1="175.6" x2="733.25" y2="178.2" stroke="#000" stroke-width="1.2"/>
<text x="543.8" y="188.6" font-family="Liberation Sans" font-weight="bold" font-size="9.3" text-anchor="middle" fill="#111">-1.5</text>
<text x="569.06" y="188.6" font-family="Liberation Sans" font-weight="bold" font-size="9.3" text-anchor="middle" fill="#111">-1.4</text>
<text x="594.32" y="188.6" font-family="Liberation Sans" font-weight="bold" font-size="9.3" text-anchor="middle" fill="#111">-1.3</text>
<text x="619.58" y="188.6" font-family="Liberation Sans" font-weight="bold" font-size="9.3" text-anchor="middle" fill="#111">-1.2</text>
<text x="644.84" y="188.6" font-family="Liberation Sans" font-weight="bold" font-size="9.3" text-anchor="middle" fill="#111">-1.1</text>
<text x="670.1" y="188.6" font-family="Liberation Sans" font-weight="bold" font-size="9.3" text-anchor="middle" fill="#111">-1.0</text>
<text x="695.36" y="188.6" font-family="Liberation Sans" font-weight="bold" font-size="9.3" text-anchor="middle" fill="#111">-0.9</text>
<text x="720.62" y="188.6" font-family="Liberation Sans" font-weight="bold" font-size="9.3" text-anchor="middle" fill="#111">-0.8</text>
<text transform="translate(513.8,95) rotate(-90)" font-family="Liberation Sans" font-weight="bold" font-size="11" text-anchor="middle" fill="#111">FE<tspan font-size="5.5" dy="2">CH4</tspan><tspan dy="-2"> (%)</tspan></text>
<text x="638.3" y="198.5" font-family="Liberation Sans" font-weight="bold" font-size="10" text-anchor="middle" fill="#111"><tspan font-style="italic">E</tspan> (V vs. RHE)</text>
<text x="548.5" y="42.2" font-family="Liberation Serif" font-weight="bold" font-size="19" fill="#000">c</text>
<rect x="696.4" y="28.4" width="16.8" height="9.2" fill="url(#gCl)"/>
<text transform="translate(714.4,36) scale(0.93,1)" font-family="Liberation Sans" font-weight="bold" font-size="8.3" fill="#111">Cu-Cl</text>
<rect x="696.4" y="38" width="16.8" height="9.2" fill="url(#gBr)"/>
<text transform="translate(714.4,45.6) scale(0.93,1)" font-family="Liberation Sans" font-weight="bold" font-size="8.3" fill="#111">Cu-Br</text>
<rect x="696.4" y="47.6" width="16.8" height="9.2" fill="url(#gI)"/>
<text transform="translate(714.4,55.2) scale(0.93,1)" font-family="Liberation Sans" font-weight="bold" font-size="8.3" fill="#111">Cu-I</text>
<rect x="48" y="211.5" width="207.5" height="153.8" fill="none" stroke="#000" stroke-width="1.6"/>
<line x1="44" y1="211.5" x2="48" y2="211.5" stroke="#000" stroke-width="1.2"/>
<line x1="44" y1="237.13" x2="48" y2="237.13" stroke="#000" stroke-width="1.2"/>
<line x1="44" y1="262.77" x2="48" y2="262.77" stroke="#000" stroke-width="1.2"/>
<line x1="44" y1="288.4" x2="48" y2="288.4" stroke="#000" stroke-width="1.2"/>
<line x1="44" y1="314.03" x2="48" y2="314.03" stroke="#000" stroke-width="1.2"/>
<line x1="44" y1="339.67" x2="48" y2="339.67" stroke="#000" stroke-width="1.2"/>
<line x1="44" y1="365.3" x2="48" y2="365.3" stroke="#000" stroke-width="1.2"/>
<line x1="45.4" y1="224.32" x2="48" y2="224.32" stroke="#000" stroke-width="1.2"/>
<line x1="45.4" y1="249.95" x2="48" y2="249.95" stroke="#000" stroke-width="1.2"/>
<line x1="45.4" y1="275.58" x2="48" y2="275.58" stroke="#000" stroke-width="1.2"/>
<line x1="45.4" y1="301.22" x2="48" y2="301.22" stroke="#000" stroke-width="1.2"/>
<line x1="45.4" y1="326.85" x2="48" y2="326.85" stroke="#000" stroke-width="1.2"/>
<line x1="45.4" y1="352.48" x2="48" y2="352.48" stroke="#000" stroke-width="1.2"/>
<text x="43.5" y="214.4" font-family="Liberation Sans" font-weight="bold" font-size="8.2" text-anchor="end" fill="#111">0</text>
<text x="43.5" y="240.03" font-family="Liberation Sans" font-weight="bold" font-size="8.2" text-anchor="end" fill="#111">-20</text>
<text x="43.5" y="265.67" font-family="Liberation Sans" font-weight="bold" font-size="8.2" text-anchor="end" fill="#111">-40</text>
<text x="43.5" y="291.3" font-family="Liberation Sans" font-weight="bold" font-size="8.2" text-anchor="end" fill="#111">-60</text>
<text x="43.5" y="316.93" font-family="Liberation Sans" font-weight="bold" font-size="8.2" text-anchor="end" fill="#111">-80</text>
<text x="43.5" y="342.57" font-family="Liberation Sans" font-weight="bold" font-size="8.2" text-anchor="end" fill="#111">-100</text>
<text x="43.5" y="368.2" font-family="Liberation Sans" font-weight="bold" font-size="8.2" text-anchor="end" fill="#111">-120</text>
<line x1="57.2" y1="365.3" x2="57.2" y2="369.3" stroke="#000" stroke-width="1.2"/>
<line x1="82.86" y1="365.3" x2="82.86" y2="369.3" stroke="#000" stroke-width="1.2"/>
<line x1="108.52" y1="365.3" x2="108.52" y2="369.3" stroke="#000" stroke-width="1.2"/>
<line x1="134.18" y1="365.3" x2="134.18" y2="369.3" stroke="#000" stroke-width="1.2"/>
<line x1="159.84" y1="365.3" x2="159.84" y2="369.3" stroke="#000" stroke-width="1.2"/>
<line x1="185.5" y1="365.3" x2="185.5" y2="369.3" stroke="#000" stroke-width="1.2"/>
<line x1="211.16" y1="365.3" x2="211.16" y2="369.3" stroke="#000" stroke-width="1.2"/>
<line x1="236.82" y1="365.3" x2="236.82" y2="369.3" stroke="#000" stroke-width="1.2"/>
<line x1="70.03" y1="365.3" x2="70.03" y2="367.9" stroke="#000" stroke-width="1.2"/>
<line x1="95.69" y1="365.3" x2="95.69" y2="367.9" stroke="#000" stroke-width="1.2"/>
<line x1="121.35" y1="365.3" x2="121.35" y2="367.9" stroke="#000" stroke-width="1.2"/>
<line x1="147.01" y1="365.3" x2="147.01" y2="367.9" stroke="#000" stroke-width="1.2"/>
<line x1="172.67" y1="365.3" x2="172.67" y2="367.9" stroke="#000" stroke-width="1.2"/>
<line x1="198.33" y1="365.3" x2="198.33" y2="367.9" stroke="#000" stroke-width="1.2"/>
<line x1="223.99" y1="365.3" x2="223.99" y2="367.9" stroke="#000" stroke-width="1.2"/>
<line x1="249.65" y1="365.3" x2="249.65" y2="367.9" stroke="#000" stroke-width="1.2"/>
<text x="57.2" y="377.5" font-family="Liberation Sans" font-weight="bold" font-size="8.2" text-anchor="middle" fill="#111">-1.5</text>
<text x="82.86" y="377.5" font-family="Liberation Sans" font-weight="bold" font-size="8.2" text-anchor="middle" fill="#111">-1.4</text>
<text x="108.52" y="377.5" font-family="Liberation Sans" font-weight="bold" font-size="8.2" text-anchor="middle" fill="#111">-1.3</text>
<text x="134.18" y="377.5" font-family="Liberation Sans" font-weight="bold" font-size="8.2" text-anchor="middle" fill="#111">-1.2</text>
<text x="159.84" y="377.5" font-family="Liberation Sans" font-weight="bold" font-size="8.2" text-anchor="middle" fill="#111">-1.1</text>
<text x="185.5" y="377.5" font-family="Liberation Sans" font-weight="bold" font-size="8.2" text-anchor="middle" fill="#111">-1.0</text>
<text x="211.16" y="377.5" font-family="Liberation Sans" font-weight="bold" font-size="8.2" text-anchor="middle" fill="#111">-0.9</text>
<text x="236.82" y="377.5" font-family="Liberation Sans" font-weight="bold" font-size="8.2" text-anchor="middle" fill="#111">-0.8</text>
<text transform="translate(27.5,279.5) rotate(-90)" font-family="Liberation Sans" font-weight="bold" font-size="10" text-anchor="middle" fill="#111"><tspan font-style="italic">j</tspan> (mA cm<tspan font-size="6" dy="-4">-2</tspan><tspan dy="4">)</tspan></text>
<text x="144" y="387.3" font-family="Liberation Sans" font-weight="bold" font-size="10" text-anchor="middle" fill="#111"><tspan font-style="italic">E</tspan> (V vs. RHE)</text>
<text x="61.5" y="233.7" font-family="Liberation Serif" font-weight="bold" font-size="18" fill="#000">d</text>
<polyline points="61.2,253.41 87,246.11 112.8,243.67 138.6,236.62 164.4,233.8 190.2,233.8 216,230.21 241.8,224.32" fill="none" stroke="#111" stroke-width="1.75"/>
<polyline points="61.2,341.72 87,349.66 112.8,340.56 138.6,331.72 164.4,324.67 190.2,303.14 216,283.66 241.8,266.48" fill="none" stroke="#e0282a" stroke-width="1.75"/>
<polyline points="61.2,310.83 87,309.68 112.8,303.14 138.6,296.6 164.4,288.91 190.2,252 216,243.41 241.8,235.72" fill="none" stroke="#3a78c8" stroke-width="1.75"/>
<rect x="58.3" y="250.51" width="5.8" height="5.8" fill="#fff" stroke="#111" stroke-width="1.1"/>
<circle cx="61.2" cy="341.72" r="3.2" fill="#fff" stroke="#e0282a" stroke-width="1.1"/>
<path d="M61.2 307.23L64.8 313.35L57.6 313.35Z" fill="#fff" stroke="#3a78c8" stroke-width="1.1"/>
<rect x="84.1" y="243.21" width="5.8" height="5.8" fill="#fff" stroke="#111" stroke-width="1.1"/>
<circle cx="87" cy="349.66" r="3.2" fill="#fff" stroke="#e0282a" stroke-width="1.1"/>
<path d="M87 306.08L90.6 312.2L83.4 312.2Z" fill="#fff" stroke="#3a78c8" stroke-width="1.1"/>
<rect x="109.9" y="240.77" width="5.8" height="5.8" fill="#fff" stroke="#111" stroke-width="1.1"/>
<circle cx="112.8" cy="340.56" r="3.2" fill="#fff" stroke="#e0282a" stroke-width="1.1"/>
<path d="M112.8 299.54L116.4 305.66L109.2 305.66Z" fill="#fff" stroke="#3a78c8" stroke-width="1.1"/>
<rect x="135.7" y="233.72" width="5.8" height="5.8" fill="#fff" stroke="#111" stroke-width="1.1"/>
<circle cx="138.6" cy="331.72" r="3.2" fill="#fff" stroke="#e0282a" stroke-width="1.1"/>
<path d="M138.6 293L142.2 299.12L135 299.12Z" fill="#fff" stroke="#3a78c8" stroke-width="1.1"/>
<rect x="161.5" y="230.9" width="5.8" height="5.8" fill="#fff" stroke="#111" stroke-width="1.1"/>
<circle cx="164.4" cy="324.67" r="3.2" fill="#fff" stroke="#e0282a" stroke-width="1.1"/>
<path d="M164.4 285.31L168 291.43L160.8 291.43Z" fill="#fff" stroke="#3a78c8" stroke-width="1.1"/>
<rect x="187.3" y="230.9" width="5.8" height="5.8" fill="#fff" stroke="#111" stroke-width="1.1"/>
<circle cx="190.2" cy="303.14" r="3.2" fill="#fff" stroke="#e0282a" stroke-width="1.1"/>
<path d="M190.2 248.4L193.8 254.52L186.6 254.52Z" fill="#fff" stroke="#3a78c8" stroke-width="1.1"/>
<rect x="213.1" y="227.31" width="5.8" height="5.8" fill="#fff" stroke="#111" stroke-width="1.1"/>
<circle cx="216" cy="283.66" r="3.2" fill="#fff" stroke="#e0282a" stroke-width="1.1"/>
<path d="M216 239.81L219.6 245.93L212.4 245.93Z" fill="#fff" stroke="#3a78c8" stroke-width="1.1"/>
<rect x="238.9" y="221.42" width="5.8" height="5.8" fill="#fff" stroke="#111" stroke-width="1.1"/>
<circle cx="241.8" cy="266.48" r="3.2" fill="#fff" stroke="#e0282a" stroke-width="1.1"/>
<path d="M241.8 232.12L245.4 238.24L238.2 238.24Z" fill="#fff" stroke="#3a78c8" stroke-width="1.1"/>
<line x1="211" y1="336.7" x2="229" y2="336.7" stroke="#111" stroke-width="1.5"/>
<rect x="217.6" y="333.8" width="5.8" height="5.8" fill="#fff" stroke="#111" stroke-width="1.1"/>
<text x="230.8" y="339.2" font-family="Liberation Sans" font-weight="bold" font-size="8" fill="#111"><tspan font-style="italic">j</tspan><tspan font-size="5.5">HER</tspan></text>
<line x1="211" y1="346.5" x2="229" y2="346.5" stroke="#e0282a" stroke-width="1.5"/>
<circle cx="220.5" cy="346.5" r="3.2" fill="#fff" stroke="#e0282a" stroke-width="1.1"/>
<text x="230.8" y="349" font-family="Liberation Sans" font-weight="bold" font-size="8" fill="#111"><tspan font-style="italic">j</tspan><tspan font-size="5.5">CO<tspan font-size="4">2</tspan>RR</tspan></text>
<line x1="211" y1="356.3" x2="229" y2="356.3" stroke="#3a78c8" stroke-width="1.5"/>
<path d="M220.5 352.7L224.1 358.82L216.9 358.82Z" fill="#fff" stroke="#3a78c8" stroke-width="1.1"/>
<text x="230.8" y="358.8" font-family="Liberation Sans" font-weight="bold" font-size="8" fill="#111"><tspan font-style="italic">j</tspan><tspan font-size="5.5">CH<tspan font-size="4">4</tspan></tspan></text>
<rect x="283.8" y="207.8" width="209.7" height="156" fill="none" stroke="#000" stroke-width="1.6"/>
<line x1="303.92" y1="363.8" x2="303.92" y2="367.8" stroke="#000" stroke-width="1.2"/>
<line x1="343.56" y1="363.8" x2="343.56" y2="367.8" stroke="#000" stroke-width="1.2"/>
<line x1="383.2" y1="363.8" x2="383.2" y2="367.8" stroke="#000" stroke-width="1.2"/>
<line x1="422.84" y1="363.8" x2="422.84" y2="367.8" stroke="#000" stroke-width="1.2"/>
<line x1="462.48" y1="363.8" x2="462.48" y2="367.8" stroke="#000" stroke-width="1.2"/>
<line x1="323.74" y1="363.8" x2="323.74" y2="366.4" stroke="#000" stroke-width="1.2"/>
<line x1="363.38" y1="363.8" x2="363.38" y2="366.4" stroke="#000" stroke-width="1.2"/>
<line x1="403.02" y1="363.8" x2="403.02" y2="366.4" stroke="#000" stroke-width="1.2"/>
<line x1="442.66" y1="363.8" x2="442.66" y2="366.4" stroke="#000" stroke-width="1.2"/>
<line x1="482.3" y1="363.8" x2="482.3" y2="366.4" stroke="#000" stroke-width="1.2"/>
<text x="303.92" y="376" font-family="Liberation Sans" font-weight="bold" font-size="8.7" text-anchor="middle" fill="#111">400</text>
<text x="343.56" y="376" font-family="Liberation Sans" font-weight="bold" font-size="8.7" text-anchor="middle" fill="#111">800</text>
<text x="383.2" y="376" font-family="Liberation Sans" font-weight="bold" font-size="8.7" text-anchor="middle" fill="#111">1200</text>
<text x="422.84" y="376" font-family="Liberation Sans" font-weight="bold" font-size="8.7" text-anchor="middle" fill="#111">1600</text>
<text x="462.48" y="376" font-family="Liberation Sans" font-weight="bold" font-size="8.7" text-anchor="middle" fill="#111">2000</text>
<text transform="translate(277.8,280) rotate(-90)" font-family="Liberation Sans" font-weight="bold" font-size="10.8" text-anchor="middle" fill="#111">Intensity</text>
<text x="388" y="387" font-family="Liberation Sans" font-weight="bold" font-size="10" text-anchor="middle" fill="#111">Raman shift (cm<tspan font-size="6" dy="-4">-1</tspan><tspan dy="4">)</tspan></text>
<text x="266.5" y="220.5" font-family="Liberation Serif" font-weight="bold" font-size="18" fill="#000">e</text>
<rect x="472.3" y="222" width="4" height="132" fill="#b8b8b8"/>
<line x1="292.7" y1="222.6" x2="292.7" y2="362" stroke="#777" stroke-width="0.9" stroke-dasharray="1.3,1.3"/>
<line x1="298.1" y1="221.6" x2="298.1" y2="362" stroke="#777" stroke-width="0.9" stroke-dasharray="1.3,1.3"/>
<line x1="315.7" y1="218.4" x2="315.7" y2="362" stroke="#777" stroke-width="0.9" stroke-dasharray="1.3,1.3"/>
<line x1="326.9" y1="226" x2="326.9" y2="362" stroke="#777" stroke-width="0.9" stroke-dasharray="1.3,1.3"/>
<text x="292" y="222.2" font-family="Liberation Sans" font-weight="bold" font-size="5.8" text-anchor="middle" fill="#222">293</text>
<text x="299.2" y="216.1" font-family="Liberation Sans" font-weight="bold" font-size="5.8" text-anchor="middle" fill="#222">342</text>
<text x="316.4" y="217.1" font-family="Liberation Sans" font-weight="bold" font-size="5.8" text-anchor="middle" fill="#222">520</text>
<text x="327.2" y="224.6" font-family="Liberation Sans" font-weight="bold" font-size="5.8" text-anchor="middle" fill="#222">630</text>
<text x="473.4" y="219.4" font-family="Liberation Sans" font-weight="bold" font-size="5.8" text-anchor="middle" fill="#222">2108</text>
<defs><clipPath id="ce"><rect x="284.4" y="207.9" width="208.4" height="155"/></clipPath><clipPath id="cf"><rect x="534.5" y="208.3" width="205.2" height="153"/></clipPath></defs>
<path d="M284.1,354.3 284.6,354.6 285.1,354.1 285.6,354.3 286.1,354.3 286.6,354.0 287.1,354.2 287.6,354.0 288.1,353.6 288.6,353.4 289.1,352.8 289.6,352.7 290.1,352.5 290.6,352.6 291.1,352.9 291.6,352.8 292.1,352.9 292.6,353.5 293.1,353.3 293.6,353.7 294.1,353.4 294.6,353.7 295.1,353.3 295.6,353.2 296.1,352.6 296.6,352.4 297.1,352.8 297.6,353.0 298.1,353.1 298.6,353.5 299.1,353.8 299.6,353.5 300.1,353.6 300.6,354.3 301.1,354.3 301.6,353.8 302.1,353.3 302.6,352.7 303.1,350.6 303.6,341.3 304.1,347.3 304.6,351.6 305.1,351.8 305.6,351.4 306.1,349.4 306.6,349.2 307.1,351.4 307.6,352.5 308.1,353.6 308.6,353.5 309.1,353.9 309.6,354.3 310.1,354.3 310.6,354.1 311.1,354.6 311.6,354.7 312.1,354.4 312.6,354.3 313.1,354.8 313.6,354.4 314.1,354.6 314.6,354.4 315.1,354.5 315.6,354.1 316.1,354.2 316.6,353.6 317.1,352.7 317.6,350.3 318.1,350.5 318.6,353.0 319.1,353.8 319.6,353.2 320.1,351.6 320.6,348.4 321.1,352.3 321.6,353.7 322.1,353.9 322.6,354.7 323.1,354.4 323.6,354.3 324.1,354.7 324.6,354.5 325.1,354.6 325.6,354.5 326.1,354.7 326.6,354.4 327.1,354.8 327.6,354.9 328.1,355.0 328.6,354.9 329.1,355.0 329.6,354.4 330.1,354.9 330.6,354.5 331.1,354.5 331.6,354.7 332.1,355.0 332.6,354.8 333.1,354.3 333.6,354.6 334.1,354.2 334.6,354.2 335.1,352.7 335.6,347.3 336.1,352.1 336.6,354.0 337.1,354.2 337.6,354.5 338.1,354.6 338.6,354.8 339.1,354.7 339.6,354.8 340.1,354.7 340.6,354.8 341.1,354.6 341.6,354.4 342.1,354.8 342.6,354.7 343.1,355.0 343.6,354.5 344.1,354.7 344.6,354.7 345.1,354.7 345.6,355.0 346.1,354.5 346.6,355.1 347.1,354.9 347.6,354.7 348.1,354.5 348.6,354.6 349.1,354.5 349.6,354.8 350.1,354.7 350.6,354.7 351.1,354.9 351.6,355.0 352.1,354.8 352.6,355.0 353.1,355.0 353.6,354.9 354.1,354.4 354.6,354.6 355.1,354.4 355.6,354.5 356.1,354.5 356.6,354.2 357.1,354.4 357.6,354.2 358.1,353.5 358.6,351.9 359.1,344.2 359.6,339.5 360.1,350.5 360.6,353.3 361.1,353.9 361.6,354.4 362.1,354.2 362.6,354.6 363.1,354.6 363.6,354.4 364.1,354.4 364.6,354.3 365.1,354.9 365.6,354.5 366.1,354.7 366.6,354.2 367.1,354.5 367.6,354.1 368.1,354.2 368.6,353.9 369.1,353.8 369.6,353.6 370.1,353.5 370.6,353.7 371.1,353.3 371.6,353.0 372.1,352.8 372.6,352.8 373.1,352.3 373.6,351.9 374.1,351.7 374.6,350.9 375.1,349.4 375.6,345.7 376.1,337.1 376.6,330.8 377.1,342.1 377.6,345.7 378.1,343.5 378.6,341.8 379.1,347.2 379.6,348.7 380.1,348.9 380.6,348.7 381.1,348.6 381.6,348.0 382.1,347.0 382.6,344.6 383.1,338.8 383.6,327.5 384.1,334.7 384.6,342.5 385.1,345.1 385.6,345.9 386.1,346.4 386.6,346.2 387.1,346.2 387.6,346.0 388.1,345.5 388.6,345.6 389.1,345.4 389.6,345.2 390.1,344.8 390.6,343.9 391.1,343.1 391.6,342.4 392.1,341.1 392.6,337.9 393.1,333.5 393.6,336.1 394.1,337.4 394.6,334.7 395.1,326.2 395.6,313.1 396.1,326.0 396.6,334.4 397.1,337.0 397.6,337.5 398.1,336.9 398.6,336.3 399.1,333.3 399.6,327.1 400.1,308.5 400.6,288.3 401.1,314.5 401.6,328.4 402.1,333.0 402.6,335.3 403.1,335.8 403.6,336.5 404.1,336.3 404.6,336.3 405.1,336.3 405.6,336.6 406.1,336.5 406.6,336.1 407.1,336.0 407.6,335.9 408.1,335.2 408.6,334.9 409.1,334.4 409.6,333.8 410.1,333.0 410.6,331.1 411.1,329.9 411.6,331.8 412.1,332.3 412.6,332.5 413.1,331.1 413.6,328.4 414.1,326.9 414.6,330.0 415.1,331.1 415.6,330.8 416.1,329.4 416.6,324.8 417.1,323.6 417.6,327.5 418.1,328.4 418.6,325.9 419.1,325.1 419.6,328.1 420.1,329.4 420.6,329.4 421.1,327.3 421.6,308.0 422.1,198.5 422.6,-68.6 423.1,-268.1 423.6,-114.0 424.1,166.4 424.6,298.1 425.1,324.4 425.6,326.7 426.1,327.1 426.6,327.9 427.1,328.5 427.6,329.3 428.1,329.8 428.6,330.4 429.1,330.9 429.6,330.8 430.1,331.6 430.6,332.1 431.1,332.0 431.6,332.5 432.1,332.3 432.6,332.8 433.1,332.8 433.6,332.9 434.1,333.2 434.6,332.8 435.1,333.1 435.6,333.3 436.1,333.3 436.6,334.1 437.1,333.8 437.6,334.4 438.1,334.3 438.6,334.4 439.1,335.0 439.6,335.0 440.1,335.4 440.6,335.8 441.1,335.7 441.6,335.7 442.1,335.9 442.6,335.9 443.1,336.2 443.6,335.9 444.1,335.9 444.6,336.1 445.1,336.5 445.6,336.3 446.1,336.4 446.6,336.8 447.1,337.0 447.6,337.0 448.1,337.0 448.6,336.9 449.1,337.0 449.6,337.6 450.1,337.4 450.6,337.3 451.1,337.1 451.6,337.4 452.1,337.4 452.6,337.9 453.1,338.0 453.6,338.1 454.1,338.4 454.6,338.1 455.1,338.2 455.6,338.3 456.1,338.3 456.6,338.3 457.1,338.8 457.6,338.6 458.1,338.8 458.6,339.3 459.1,339.6 459.6,339.5 460.1,340.4 460.6,340.8 461.1,340.6 461.6,341.0 462.1,341.6 462.6,341.9 463.1,341.9 463.6,342.2 464.1,342.4 464.6,342.5 465.1,342.3 465.6,342.5 466.1,342.8 466.6,342.5 467.1,343.0 467.6,343.4 468.1,343.4 468.6,344.0 469.1,344.3 469.6,344.4 470.1,344.9 470.6,344.9 471.1,345.3 471.6,345.0 472.1,345.3 472.6,345.2 473.1,345.7 473.6,345.7 474.1,345.3 474.6,345.1 475.1,345.1 475.6,345.0 476.1,344.4 476.6,343.7 477.1,343.5 477.6,343.6 478.1,342.9 478.6,342.4 479.1,342.4 479.6,342.2 480.1,341.5 480.6,341.7 481.1,341.2 481.6,341.4 482.1,340.7 482.6,341.2 483.1,341.3 483.6,341.7 484.1,342.3 484.6,343.0 485.1,344.0 485.6,344.7 486.1,344.9 486.6,345.8 487.1,345.9 487.6,345.8 488.1,346.1 488.6,347.4 489.1,348.4 489.6,349.9 490.1,350.7 490.6,352.5 491.1,353.6 491.6,354.8 492.1,355.9 492.6,355.9 493.1,356.5 493.6,356.6 494.1,356.2" fill="none" stroke="#e03a3a" stroke-width="1.2" clip-path="url(#ce)"/>
<path d="M284.1,334.6 284.6,334.9 285.1,334.6 285.6,334.9 286.1,334.6 286.6,334.6 287.1,334.3 287.6,334.4 288.1,334.0 288.6,333.7 289.1,333.6 289.6,332.8 290.1,332.5 290.6,333.0 291.1,332.9 291.6,333.3 292.1,333.6 292.6,333.7 293.1,333.8 293.6,334.1 294.1,334.0 294.6,333.9 295.1,333.4 295.6,333.2 296.1,333.0 296.6,332.9 297.1,332.6 297.6,332.8 298.1,333.1 298.6,333.9 299.1,334.0 299.6,334.3 300.1,334.3 300.6,334.1 301.1,334.3 301.6,334.3 302.1,334.2 302.6,333.5 303.1,330.7 303.6,321.1 304.1,327.1 304.6,332.1 305.1,332.5 305.6,331.6 306.1,329.7 306.6,329.7 307.1,331.5 307.6,333.0 308.1,333.7 308.6,334.2 309.1,334.5 309.6,334.9 310.1,334.4 310.6,334.9 311.1,334.6 311.6,335.0 312.1,335.2 312.6,334.6 313.1,334.9 313.6,335.2 314.1,334.6 314.6,334.6 315.1,335.1 315.6,334.5 316.1,334.9 316.6,334.6 317.1,333.6 317.6,330.0 318.1,331.0 318.6,333.4 319.1,333.8 319.6,333.8 320.1,332.0 320.6,328.6 321.1,332.4 321.6,333.9 322.1,334.8 322.6,335.1 323.1,335.1 323.6,335.3 324.1,335.3 324.6,335.3 325.1,335.3 325.6,335.2 326.1,334.9 326.6,335.0 327.1,335.4 327.6,335.4 328.1,335.2 328.6,335.1 329.1,335.1 329.6,335.1 330.1,335.0 330.6,335.0 331.1,335.3 331.6,335.2 332.1,334.7 332.6,335.0 333.1,334.7 333.6,334.6 334.1,334.5 334.6,334.2 335.1,332.6 335.6,327.5 336.1,332.5 336.6,334.3 337.1,334.9 337.6,335.1 338.1,335.2 338.6,335.2 339.1,335.4 339.6,335.3 340.1,335.0 340.6,335.4 341.1,335.0 341.6,335.0 342.1,335.3 342.6,335.1 343.1,335.1 343.6,334.8 344.1,335.1 344.6,335.4 345.1,335.4 345.6,335.3 346.1,335.4 346.6,334.9 347.1,334.9 347.6,335.4 348.1,335.0 348.6,334.9 349.1,335.3 349.6,335.1 350.1,335.3 350.6,335.2 351.1,334.9 351.6,335.3 352.1,335.1 352.6,335.0 353.1,334.8 353.6,334.8 354.1,334.8 354.6,335.1 355.1,335.1 355.6,334.7 356.1,334.7 356.6,334.6 357.1,334.6 357.6,334.1 358.1,334.0 358.6,332.1 359.1,323.7 359.6,319.3 360.1,330.7 360.6,333.4 361.1,334.2 361.6,334.7 362.1,334.5 362.6,334.8 363.1,335.2 363.6,335.1 364.1,335.0 364.6,334.8 365.1,334.9 365.6,334.7 366.1,335.1 366.6,335.3 367.1,335.0 367.6,334.7 368.1,334.9 368.6,334.7 369.1,334.6 369.6,334.6 370.1,334.8 370.6,335.0 371.1,334.6 371.6,334.8 372.1,334.5 372.6,334.5 373.1,334.3 373.6,333.9 374.1,333.4 374.6,332.5 375.1,331.2 375.6,327.9 376.1,319.0 376.6,312.9 377.1,324.4 377.6,328.4 378.1,326.8 378.6,324.9 379.1,330.1 379.6,331.9 380.1,332.5 380.6,333.1 381.1,332.5 381.6,332.4 382.1,331.6 382.6,329.5 383.1,323.9 383.6,312.2 384.1,319.2 384.6,327.8 385.1,330.8 385.6,331.9 386.1,332.7 386.6,333.0 387.1,333.1 387.6,333.0 388.1,332.6 388.6,333.1 389.1,332.9 389.6,332.4 390.1,332.7 390.6,332.2 391.1,331.6 391.6,331.0 392.1,329.8 392.6,326.7 393.1,322.7 393.6,325.3 394.1,326.4 394.6,324.5 395.1,315.7 395.6,302.3 396.1,316.5 396.6,325.3 397.1,327.9 397.6,329.1 398.1,328.4 398.6,328.1 399.1,325.3 399.6,319.0 400.1,300.2 400.6,278.6 401.1,306.4 401.6,320.8 402.1,326.2 402.6,328.8 403.1,329.3 403.6,330.5 404.1,330.4 404.6,330.6 405.1,331.1 405.6,331.2 406.1,331.2 406.6,331.0 407.1,331.0 407.6,331.3 408.1,331.2 408.6,331.1 409.1,330.9 409.6,330.4 410.1,329.2 410.6,327.6 411.1,326.5 411.6,328.4 412.1,328.9 412.6,329.6 413.1,328.3 413.6,325.5 414.1,324.1 414.6,327.9 415.1,328.8 415.6,328.1 416.1,326.9 416.6,322.3 417.1,321.1 417.6,325.4 418.1,325.8 418.6,323.4 419.1,322.9 419.6,326.2 420.1,327.6 420.6,327.4 421.1,325.9 421.6,306.2 422.1,196.9 422.6,-70.5 423.1,-269.7 423.6,-115.5 424.1,164.7 424.6,296.5 425.1,322.5 425.6,325.4 426.1,325.6 426.6,326.4 427.1,327.0 427.6,327.0 428.1,327.6 428.6,328.0 429.1,328.2 429.6,328.6 430.1,328.5 430.6,328.5 431.1,328.7 431.6,328.8 432.1,329.0 432.6,328.9 433.1,329.3 433.6,329.5 434.1,329.6 434.6,329.8 435.1,329.7 435.6,329.9 436.1,329.9 436.6,329.6 437.1,330.0 437.6,330.1 438.1,330.4 438.6,330.0 439.1,330.5 439.6,330.1 440.1,330.7 440.6,330.9 441.1,330.4 441.6,330.7 442.1,330.5 442.6,330.6 443.1,330.6 443.6,330.9 444.1,330.7 444.6,331.0 445.1,330.6 445.6,330.6 446.1,330.8 446.6,331.2 447.1,331.2 447.6,331.1 448.1,331.3 448.6,330.8 449.1,330.9 449.6,331.2 450.1,331.3 450.6,331.1 451.1,330.8 451.6,331.1 452.1,330.8 452.6,330.9 453.1,331.1 453.6,330.9 454.1,330.8 454.6,330.6 455.1,330.7 455.6,330.8 456.1,330.8 456.6,330.3 457.1,330.4 457.6,330.7 458.1,330.6 458.6,331.0 459.1,331.2 459.6,331.5 460.1,331.4 460.6,332.0 461.1,331.6 461.6,332.3 462.1,332.0 462.6,332.4 463.1,332.4 463.6,332.8 464.1,332.8 464.6,332.5 465.1,332.7 465.6,332.7 466.1,332.8 466.6,332.7 467.1,332.5 467.6,332.5 468.1,332.6 468.6,332.8 469.1,332.9 469.6,332.7 470.1,332.8 470.6,333.1 471.1,333.0 471.6,333.4 472.1,333.0 472.6,333.1 473.1,333.3 473.6,332.8 474.1,332.8 474.6,332.8 475.1,332.4 475.6,332.3 476.1,332.0 476.6,332.0 477.1,331.2 477.6,330.9 478.1,330.6 478.6,330.2 479.1,329.7 479.6,329.4 480.1,329.1 480.6,328.7 481.1,328.9 481.6,328.4 482.1,328.9 482.6,328.4 483.1,328.7 483.6,329.1 484.1,329.6 484.6,330.1 485.1,330.4 485.6,330.7 486.1,331.4 486.6,331.2 487.1,331.2 487.6,331.5 488.1,331.7 488.6,332.6 489.1,333.2 489.6,334.2 490.1,334.4 490.6,335.2 491.1,336.4 491.6,337.2 492.1,337.5 492.6,337.7 493.1,338.2 493.6,338.2 494.1,337.8" fill="none" stroke="#f09a30" stroke-width="1.2" clip-path="url(#ce)"/>
<path d="M284.1,322.2 284.6,322.1 285.1,322.0 285.6,322.2 286.1,321.9 286.6,321.5 287.1,321.6 287.6,321.5 288.1,321.2 288.6,321.2 289.1,321.0 289.6,320.5 290.1,320.7 290.6,320.3 291.1,320.5 291.6,320.9 292.1,321.1 292.6,321.5 293.1,321.5 293.6,321.2 294.1,321.2 294.6,321.2 295.1,321.4 295.6,320.9 296.1,320.5 296.6,320.4 297.1,320.5 297.6,320.8 298.1,321.0 298.6,321.4 299.1,321.7 299.6,321.2 300.1,321.7 300.6,321.7 301.1,321.7 301.6,321.3 302.1,321.1 302.6,320.8 303.1,319.0 303.6,312.2 304.1,316.5 304.6,319.7 305.1,320.1 305.6,319.8 306.1,318.3 306.6,318.1 307.1,319.5 307.6,320.4 308.1,321.1 308.6,321.6 309.1,321.8 309.6,321.7 310.1,321.8 310.6,322.1 311.1,322.1 311.6,322.0 312.1,322.1 312.6,322.0 313.1,321.9 313.6,322.2 314.1,322.1 314.6,322.3 315.1,321.9 315.6,321.9 316.1,321.8 316.6,321.8 317.1,321.2 317.6,318.8 318.1,319.5 318.6,320.9 319.1,321.4 319.6,320.9 320.1,319.5 320.6,317.4 321.1,320.4 321.6,321.3 322.1,321.9 322.6,321.8 323.1,322.1 323.6,322.3 324.1,321.9 324.6,322.0 325.1,322.0 325.6,322.1 326.1,321.9 326.6,322.0 327.1,322.5 327.6,322.5 328.1,322.5 328.6,322.1 329.1,322.2 329.6,322.1 330.1,322.5 330.6,322.4 331.1,322.0 331.6,322.1 332.1,322.4 332.6,322.4 333.1,322.0 333.6,321.9 334.1,322.2 334.6,321.4 335.1,320.7 335.6,316.7 336.1,320.1 336.6,321.4 337.1,321.7 337.6,322.4 338.1,322.3 338.6,322.4 339.1,322.5 339.6,322.1 340.1,322.4 340.6,322.3 341.1,322.1 341.6,322.1 342.1,322.2 342.6,322.1 343.1,322.2 343.6,322.4 344.1,322.4 344.6,322.0 345.1,322.4 345.6,322.0 346.1,322.5 346.6,322.4 347.1,322.1 347.6,322.4 348.1,321.9 348.6,322.2 349.1,322.0 349.6,322.1 350.1,322.0 350.6,322.5 351.1,322.3 351.6,322.4 352.1,322.3 352.6,322.5 353.1,322.4 353.6,322.2 354.1,321.9 354.6,322.1 355.1,322.1 355.6,321.9 356.1,322.0 356.6,322.0 357.1,321.9 357.6,321.7 358.1,321.5 358.6,320.1 359.1,313.8 359.6,310.7 360.1,318.9 360.6,321.3 361.1,321.6 361.6,321.6 362.1,322.3 362.6,321.8 363.1,322.2 363.6,322.1 364.1,322.1 364.6,322.1 365.1,322.3 365.6,321.9 366.1,322.3 366.6,322.5 367.1,322.4 367.6,321.8 368.1,322.3 368.6,322.2 369.1,322.1 369.6,322.1 370.1,322.2 370.6,321.9 371.1,322.0 371.6,322.2 372.1,321.8 372.6,321.7 373.1,321.6 373.6,321.4 374.1,321.6 374.6,321.1 375.1,319.6 375.6,317.6 376.1,310.3 376.6,306.1 377.1,314.5 377.6,317.5 378.1,316.6 378.6,315.0 379.1,319.3 379.6,320.3 380.1,320.7 380.6,321.4 381.1,321.1 381.6,320.9 382.1,320.4 382.6,318.4 383.1,314.5 383.6,306.0 384.1,311.3 384.6,317.6 385.1,320.1 385.6,320.7 386.1,321.0 386.6,321.2 387.1,321.2 387.6,321.6 388.1,321.5 388.6,321.4 389.1,321.5 389.6,321.1 390.1,321.4 390.6,321.2 391.1,321.0 391.6,320.2 392.1,319.3 392.6,317.0 393.1,314.1 393.6,316.2 394.1,317.2 394.6,315.9 395.1,309.6 395.6,299.9 396.1,309.7 396.6,316.6 397.1,318.4 397.6,319.3 398.1,319.4 398.6,318.3 399.1,316.5 399.6,312.0 400.1,298.2 400.6,282.8 401.1,302.8 401.6,313.5 402.1,317.3 402.6,319.0 403.1,320.0 403.6,320.2 404.1,320.5 404.6,320.8 405.1,321.2 405.6,321.4 406.1,321.1 406.6,321.1 407.1,321.0 407.6,321.0 408.1,321.3 408.6,321.4 409.1,320.9 409.6,320.7 410.1,319.9 410.6,318.9 411.1,318.1 411.6,319.3 412.1,320.4 412.6,320.4 413.1,319.5 413.6,317.3 414.1,316.3 414.6,319.1 415.1,319.4 415.6,319.7 416.1,318.1 416.6,315.1 417.1,313.9 417.6,317.1 418.1,317.9 418.6,315.9 419.1,315.2 419.6,317.5 420.1,318.1 420.6,318.6 421.1,316.4 421.6,297.3 422.1,187.9 422.6,-79.9 423.1,-279.3 423.6,-125.0 424.1,155.3 424.6,287.4 425.1,313.3 425.6,315.7 426.1,316.5 426.6,317.0 427.1,317.2 427.6,317.4 428.1,318.2 428.6,318.5 429.1,318.4 429.6,318.8 430.1,319.0 430.6,319.1 431.1,318.9 431.6,319.2 432.1,319.5 432.6,319.5 433.1,319.3 433.6,319.4 434.1,319.6 434.6,319.8 435.1,319.5 435.6,320.0 436.1,319.9 436.6,320.1 437.1,320.2 437.6,320.3 438.1,320.4 438.6,320.1 439.1,320.6 439.6,320.4 440.1,320.7 440.6,320.8 441.1,320.6 441.6,320.7 442.1,320.4 442.6,320.7 443.1,320.4 443.6,320.3 444.1,320.6 444.6,320.7 445.1,320.5 445.6,320.5 446.1,320.4 446.6,320.9 447.1,320.9 447.6,320.8 448.1,320.8 448.6,321.0 449.1,321.1 449.6,320.9 450.1,320.6 450.6,320.9 451.1,320.9 451.6,320.4 452.1,320.9 452.6,320.6 453.1,320.6 453.6,320.4 454.1,319.9 454.6,320.2 455.1,320.1 455.6,320.1 456.1,320.0 456.6,320.2 457.1,320.0 457.6,319.8 458.1,319.9 458.6,320.3 459.1,320.6 459.6,320.8 460.1,320.7 460.6,321.0 461.1,320.9 461.6,321.3 462.1,321.4 462.6,321.6 463.1,321.6 463.6,321.6 464.1,321.5 464.6,321.4 465.1,321.7 465.6,321.4 466.1,321.8 466.6,321.5 467.1,321.6 467.6,321.4 468.1,321.6 468.6,321.4 469.1,321.4 469.6,321.8 470.1,321.5 470.6,321.4 471.1,321.5 471.6,321.6 472.1,321.8 472.6,321.4 473.1,321.7 473.6,321.4 474.1,321.8 474.6,321.2 475.1,321.0 475.6,320.6 476.1,320.6 476.6,320.3 477.1,320.0 477.6,319.4 478.1,319.1 478.6,318.4 479.1,318.5 479.6,318.0 480.1,317.8 480.6,317.7 481.1,317.5 481.6,317.0 482.1,317.2 482.6,317.3 483.1,317.2 483.6,317.6 484.1,318.0 484.6,318.0 485.1,318.7 485.6,318.9 486.1,319.0 486.6,319.5 487.1,319.7 487.6,319.9 488.1,320.1 488.6,320.4 489.1,321.5 489.6,321.8 490.1,322.7 490.6,323.6 491.1,324.6 491.6,325.6 492.1,326.1 492.6,325.9 493.1,326.6 493.6,326.5 494.1,326.2" fill="none" stroke="#ecdb70" stroke-width="1.2" clip-path="url(#ce)"/>
<path d="M284.1,315.1 284.6,314.7 285.1,314.6 285.6,314.8 286.1,314.8 286.6,314.8 287.1,314.8 287.6,314.6 288.1,314.4 288.6,313.9 289.1,314.0 289.6,313.8 290.1,313.3 290.6,313.3 291.1,313.9 291.6,314.0 292.1,313.7 292.6,314.2 293.1,314.2 293.6,314.2 294.1,314.2 294.6,314.5 295.1,314.0 295.6,313.8 296.1,313.8 296.6,313.7 297.1,313.5 297.6,313.4 298.1,313.7 298.6,314.3 299.1,314.1 299.6,314.4 300.1,314.2 300.6,314.2 301.1,314.5 301.6,314.2 302.1,314.1 302.6,314.1 303.1,312.4 303.6,305.9 304.1,310.2 304.6,313.0 305.1,313.1 305.6,312.7 306.1,311.4 306.6,311.6 307.1,312.6 307.6,313.6 308.1,314.5 308.6,314.3 309.1,314.5 309.6,314.5 310.1,315.0 310.6,314.8 311.1,315.1 311.6,314.8 312.1,314.8 312.6,314.7 313.1,315.1 313.6,315.1 314.1,315.2 314.6,314.7 315.1,314.8 315.6,315.1 316.1,314.6 316.6,314.6 317.1,314.0 317.6,311.7 318.1,312.3 318.6,314.0 319.1,314.4 319.6,314.1 320.1,312.9 320.6,310.8 321.1,313.4 321.6,314.3 322.1,314.4 322.6,314.8 323.1,315.0 323.6,315.2 324.1,314.7 324.6,315.1 325.1,315.1 325.6,314.9 326.1,314.8 326.6,315.3 327.1,315.3 327.6,315.2 328.1,314.7 328.6,315.0 329.1,315.3 329.6,314.9 330.1,315.0 330.6,315.3 331.1,315.3 331.6,315.1 332.1,314.7 332.6,315.0 333.1,314.7 333.6,315.0 334.1,314.9 334.6,314.8 335.1,313.4 335.6,310.2 336.1,312.9 336.6,314.4 337.1,315.1 337.6,314.8 338.1,315.0 338.6,314.9 339.1,315.0 339.6,315.3 340.1,315.0 340.6,315.0 341.1,315.3 341.6,314.8 342.1,314.9 342.6,315.2 343.1,315.3 343.6,315.1 344.1,315.0 344.6,315.0 345.1,315.3 345.6,315.0 346.1,315.0 346.6,315.2 347.1,315.1 347.6,315.0 348.1,314.9 348.6,315.3 349.1,315.3 349.6,314.9 350.1,314.8 350.6,315.0 351.1,314.8 351.6,315.1 352.1,315.2 352.6,314.9 353.1,315.2 353.6,314.8 354.1,314.9 354.6,315.3 355.1,315.1 355.6,314.8 356.1,315.2 356.6,315.0 357.1,315.0 357.6,314.5 358.1,313.9 358.6,312.8 359.1,307.5 359.6,304.9 360.1,312.1 360.6,313.7 361.1,314.3 361.6,314.9 362.1,314.9 362.6,314.6 363.1,314.8 363.6,315.0 364.1,315.1 364.6,315.2 365.1,314.8 365.6,314.9 366.1,315.2 366.6,315.2 367.1,314.7 367.6,314.7 368.1,315.2 368.6,315.1 369.1,314.7 369.6,314.9 370.1,314.7 370.6,314.9 371.1,314.9 371.6,314.5 372.1,314.9 372.6,314.4 373.1,314.4 373.6,314.6 374.1,313.9 374.6,313.5 375.1,313.1 375.6,310.7 376.1,304.7 376.6,301.1 377.1,308.2 377.6,310.7 378.1,309.6 378.6,308.6 379.1,312.4 379.6,313.4 380.1,313.7 380.6,314.1 381.1,313.8 381.6,313.8 382.1,313.0 382.6,312.0 383.1,308.2 383.6,300.7 384.1,305.7 384.6,311.0 385.1,312.7 385.6,313.6 386.1,313.7 386.6,314.0 387.1,314.5 387.6,314.4 388.1,314.4 388.6,314.7 389.1,314.1 389.6,314.2 390.1,314.3 390.6,314.0 391.1,313.8 391.6,313.3 392.1,312.3 392.6,310.5 393.1,307.9 393.6,309.6 394.1,310.8 394.6,309.6 395.1,303.4 395.6,295.0 396.1,304.4 396.6,309.9 397.1,311.8 397.6,312.5 398.1,312.1 398.6,311.6 399.1,310.1 399.6,305.7 400.1,293.5 400.6,280.1 401.1,297.7 401.6,307.5 402.1,310.9 402.6,312.4 403.1,313.1 403.6,313.6 404.1,314.0 404.6,313.6 405.1,314.0 405.6,314.2 406.1,314.1 406.6,313.9 407.1,314.4 407.6,313.9 408.1,314.2 408.6,314.3 409.1,313.6 409.6,313.7 410.1,312.8 410.6,312.1 411.1,311.6 411.6,312.3 412.1,313.3 412.6,312.9 413.1,312.6 413.6,310.4 414.1,309.9 414.6,311.9 415.1,312.8 415.6,312.6 416.1,311.5 416.6,308.6 417.1,307.5 417.6,310.6 418.1,310.9 418.6,309.3 419.1,308.9 419.6,310.8 420.1,311.3 420.6,310.9 421.1,309.2 421.6,290.1 422.1,180.5 422.6,-87.1 423.1,-286.7 423.6,-132.1 424.1,148.5 424.6,279.9 425.1,306.0 425.6,308.8 426.1,309.3 426.6,309.4 427.1,310.2 427.6,310.6 428.1,310.9 428.6,311.2 429.1,311.4 429.6,311.8 430.1,312.0 430.6,311.8 431.1,312.3 431.6,311.9 432.1,311.9 432.6,312.5 433.1,312.2 433.6,312.2 434.1,312.6 434.6,312.2 435.1,312.6 435.6,312.9 436.1,312.9 436.6,312.9 437.1,313.0 437.6,312.8 438.1,312.9 438.6,312.9 439.1,313.1 439.6,313.3 440.1,313.5 440.6,313.1 441.1,313.5 441.6,313.1 442.1,313.7 442.6,313.6 443.1,313.2 443.6,313.3 444.1,313.7 444.6,313.3 445.1,313.3 445.6,313.4 446.1,313.4 446.6,313.7 447.1,313.6 447.6,313.4 448.1,313.5 448.6,313.9 449.1,313.9 449.6,313.8 450.1,313.9 450.6,313.7 451.1,313.8 451.6,313.3 452.1,313.5 452.6,313.0 453.1,313.0 453.6,313.2 454.1,313.2 454.6,312.7 455.1,312.9 455.6,312.7 456.1,312.6 456.6,312.7 457.1,312.7 457.6,312.7 458.1,312.9 458.6,313.2 459.1,313.0 459.6,313.2 460.1,313.7 460.6,313.7 461.1,314.0 461.6,314.0 462.1,314.2 462.6,314.4 463.1,314.6 463.6,314.3 464.1,314.6 464.6,314.8 465.1,314.5 465.6,314.2 466.1,314.5 466.6,314.2 467.1,314.4 467.6,314.3 468.1,314.6 468.6,314.7 469.1,314.3 469.6,314.6 470.1,314.3 470.6,314.7 471.1,314.2 471.6,314.4 472.1,314.1 472.6,314.2 473.1,314.2 473.6,314.1 474.1,314.5 474.6,314.0 475.1,314.0 475.6,313.3 476.1,313.1 476.6,313.0 477.1,312.5 477.6,312.4 478.1,312.0 478.6,311.6 479.1,311.3 479.6,310.7 480.1,310.3 480.6,310.2 481.1,310.4 481.6,309.8 482.1,310.0 482.6,310.0 483.1,310.2 483.6,310.5 484.1,310.4 484.6,311.0 485.1,311.2 485.6,312.1 486.1,311.9 486.6,312.2 487.1,312.2 487.6,312.4 488.1,312.5 488.6,313.2 489.1,313.4 489.6,313.8 490.1,314.8 490.6,315.4 491.1,315.7 491.6,316.1 492.1,316.6 492.6,317.2 493.1,317.4 493.6,317.1 494.1,317.1" fill="none" stroke="#36b592" stroke-width="1.2" clip-path="url(#ce)"/>
<path d="M284.1,289.3 284.6,289.1 285.1,289.6 285.6,289.0 286.1,289.0 286.6,289.4 287.1,288.9 287.6,288.7 288.1,288.9 288.6,288.3 289.1,288.4 289.6,288.1 290.1,287.9 290.6,287.9 291.1,288.0 291.6,288.4 292.1,288.5 292.6,288.8 293.1,288.9 293.6,288.8 294.1,289.0 294.6,288.8 295.1,288.4 295.6,288.6 296.1,288.3 296.6,288.3 297.1,287.9 297.6,288.4 298.1,288.6 298.6,288.5 299.1,288.8 299.6,288.9 300.1,288.9 300.6,289.0 301.1,289.0 301.6,289.1 302.1,289.0 302.6,288.5 303.1,286.9 303.6,280.5 304.1,284.2 304.6,287.5 305.1,287.9 305.6,287.2 306.1,286.1 306.6,285.6 307.1,286.9 307.6,288.0 308.1,288.4 308.6,288.9 309.1,289.1 309.6,289.3 310.1,289.2 310.6,289.5 311.1,289.4 311.6,289.5 312.1,289.3 312.6,289.2 313.1,289.3 313.6,289.6 314.1,289.4 314.6,289.3 315.1,289.4 315.6,289.6 316.1,289.5 316.6,289.0 317.1,288.3 317.6,286.3 318.1,286.7 318.6,288.4 319.1,288.6 319.6,288.7 320.1,287.1 320.6,284.9 321.1,287.9 321.6,288.9 322.1,289.3 322.6,289.2 323.1,289.3 323.6,289.7 324.1,289.3 324.6,289.6 325.1,289.3 325.6,289.6 326.1,289.7 326.6,289.6 327.1,289.6 327.6,289.6 328.1,289.5 328.6,289.7 329.1,289.7 329.6,289.8 330.1,289.3 330.6,289.5 331.1,289.6 331.6,289.7 332.1,289.5 332.6,289.8 333.1,289.6 333.6,289.3 334.1,289.3 334.6,288.9 335.1,287.8 335.6,284.5 336.1,287.5 336.6,288.8 337.1,289.1 337.6,289.4 338.1,289.3 338.6,289.7 339.1,289.7 339.6,289.5 340.1,289.5 340.6,289.5 341.1,289.6 341.6,289.8 342.1,289.6 342.6,289.7 343.1,289.5 343.6,289.7 344.1,289.4 344.6,289.5 345.1,289.6 345.6,289.5 346.1,289.3 346.6,289.6 347.1,289.8 347.6,289.4 348.1,289.7 348.6,289.3 349.1,289.6 349.6,289.6 350.1,289.4 350.6,289.8 351.1,289.3 351.6,289.7 352.1,289.4 352.6,289.3 353.1,289.3 353.6,289.6 354.1,289.2 354.6,289.5 355.1,289.6 355.6,289.5 356.1,289.6 356.6,289.3 357.1,289.3 357.6,289.0 358.1,288.4 358.6,287.4 359.1,282.3 359.6,278.9 360.1,286.9 360.6,288.4 361.1,288.9 361.6,289.2 362.1,289.2 362.6,289.6 363.1,289.5 363.6,289.6 364.1,289.6 364.6,289.7 365.1,289.6 365.6,289.3 366.1,289.2 366.6,289.4 367.1,289.3 367.6,289.7 368.1,289.5 368.6,289.3 369.1,289.2 369.6,289.7 370.1,289.1 370.6,289.1 371.1,289.6 371.6,289.4 372.1,289.0 372.6,289.3 373.1,289.3 373.6,288.9 374.1,288.6 374.6,288.1 375.1,287.5 375.6,285.2 376.1,279.2 376.6,274.9 377.1,282.5 377.6,285.2 378.1,284.4 378.6,283.4 379.1,286.7 379.6,288.1 380.1,288.3 380.6,288.5 381.1,288.8 381.6,288.5 382.1,287.6 382.6,286.6 383.1,282.7 383.6,274.9 384.1,280.1 384.6,285.7 385.1,287.5 385.6,288.5 386.1,288.7 386.6,288.9 387.1,289.2 387.6,289.3 388.1,288.9 388.6,289.0 389.1,289.0 389.6,289.0 390.1,288.7 390.6,288.8 391.1,288.7 391.6,288.1 392.1,287.3 392.6,285.1 393.1,282.6 393.6,284.3 394.1,285.6 394.6,283.8 395.1,277.8 395.6,269.3 396.1,278.5 396.6,284.2 397.1,286.4 397.6,287.0 398.1,286.8 398.6,286.5 399.1,284.8 399.6,280.4 400.1,268.2 400.6,253.7 401.1,271.9 401.6,282.0 402.1,285.5 402.6,287.2 403.1,287.9 403.6,288.5 404.1,288.7 404.6,288.9 405.1,288.9 405.6,288.9 406.1,288.8 406.6,289.3 407.1,289.2 407.6,289.0 408.1,288.8 408.6,288.9 409.1,288.8 409.6,288.3 410.1,288.1 410.6,287.0 411.1,286.2 411.6,287.3 412.1,288.2 412.6,287.9 413.1,287.4 413.6,285.3 414.1,284.8 414.6,287.2 415.1,287.8 415.6,287.6 416.1,286.5 416.6,283.2 417.1,282.5 417.6,285.1 418.1,286.0 418.6,283.8 419.1,283.8 419.6,285.4 420.1,286.4 420.6,286.1 421.1,284.6 421.6,265.0 422.1,155.5 422.6,-112.0 423.1,-311.4 423.6,-156.8 424.1,123.4 424.6,254.8 425.1,281.0 425.6,283.7 426.1,284.3 426.6,284.6 427.1,284.9 427.6,285.4 428.1,285.7 428.6,286.3 429.1,286.4 429.6,286.7 430.1,286.9 430.6,286.6 431.1,286.8 431.6,287.2 432.1,286.9 432.6,287.4 433.1,287.1 433.6,287.3 434.1,287.4 434.6,287.2 435.1,287.3 435.6,287.4 436.1,287.5 436.6,287.6 437.1,287.6 437.6,287.7 438.1,288.0 438.6,287.9 439.1,288.1 439.6,288.3 440.1,288.4 440.6,288.0 441.1,288.3 441.6,288.3 442.1,288.5 442.6,288.3 443.1,288.1 443.6,288.2 444.1,288.3 444.6,288.3 445.1,288.7 445.6,288.7 446.1,288.6 446.6,288.4 447.1,288.3 447.6,288.3 448.1,288.4 448.6,288.4 449.1,288.7 449.6,288.8 450.1,288.4 450.6,288.6 451.1,288.4 451.6,288.1 452.1,288.5 452.6,288.0 453.1,288.1 453.6,287.9 454.1,287.9 454.6,287.6 455.1,287.6 455.6,287.4 456.1,287.5 456.6,287.4 457.1,287.4 457.6,287.7 458.1,287.7 458.6,287.8 459.1,288.2 459.6,288.4 460.1,288.4 460.6,288.5 461.1,288.9 461.6,288.7 462.1,289.0 462.6,289.0 463.1,288.9 463.6,289.0 464.1,289.3 464.6,289.3 465.1,289.5 465.6,289.5 466.1,289.2 466.6,289.5 467.1,289.1 467.6,289.4 468.1,289.4 468.6,289.1 469.1,289.4 469.6,289.0 470.1,289.4 470.6,289.1 471.1,289.1 471.6,289.2 472.1,289.2 472.6,288.9 473.1,289.2 473.6,289.2 474.1,289.0 474.6,288.8 475.1,288.6 475.6,288.3 476.1,288.0 476.6,287.8 477.1,287.3 477.6,286.9 478.1,286.4 478.6,286.3 479.1,286.1 479.6,285.6 480.1,285.1 480.6,285.0 481.1,284.9 481.6,284.6 482.1,284.8 482.6,284.7 483.1,284.5 483.6,285.0 484.1,285.3 484.6,285.9 485.1,286.3 485.6,286.2 486.1,287.0 486.6,286.8 487.1,287.3 487.6,287.1 488.1,287.3 488.6,287.8 489.1,288.1 489.6,288.3 490.1,289.1 490.6,289.5 491.1,290.4 491.6,290.3 492.1,290.9 492.6,291.1 493.1,291.2 493.6,291.3 494.1,291.3" fill="none" stroke="#8a55c8" stroke-width="1.2" clip-path="url(#ce)"/>
<path d="M284.1,278.9 284.6,279.1 285.1,278.8 285.6,278.7 286.1,279.0 286.6,278.7 287.1,278.8 287.6,278.7 288.1,278.5 288.6,278.1 289.1,278.1 289.6,277.7 290.1,277.7 290.6,277.8 291.1,277.8 291.6,278.0 292.1,278.2 292.6,278.1 293.1,278.2 293.6,278.6 294.1,278.2 294.6,278.3 295.1,278.0 295.6,277.9 296.1,277.9 296.6,277.8 297.1,277.5 297.6,277.5 298.1,278.0 298.6,278.5 299.1,278.3 299.6,278.4 300.1,278.4 300.6,278.4 301.1,278.4 301.6,278.5 302.1,278.5 302.6,277.9 303.1,276.3 303.6,269.6 304.1,273.8 304.6,276.8 305.1,277.3 305.6,276.6 306.1,275.2 306.6,275.2 307.1,276.5 307.6,277.6 308.1,278.5 308.6,278.7 309.1,278.9 309.6,279.0 310.1,279.2 310.6,279.2 311.1,279.1 311.6,278.9 312.1,278.9 312.6,278.9 313.1,279.1 313.6,279.4 314.1,279.3 314.6,279.3 315.1,278.9 315.6,279.1 316.1,278.8 316.6,278.7 317.1,278.0 317.6,275.7 318.1,276.4 318.6,278.3 319.1,278.4 319.6,278.3 320.1,276.6 320.6,274.6 321.1,277.4 321.6,278.2 322.1,278.9 322.6,279.2 323.1,278.9 323.6,278.9 324.1,279.2 324.6,279.4 325.1,279.0 325.6,279.3 326.1,279.3 326.6,279.5 327.1,279.0 327.6,279.4 328.1,279.4 328.6,279.3 329.1,279.1 329.6,279.0 330.1,279.4 330.6,279.2 331.1,279.3 331.6,279.0 332.1,279.2 332.6,279.1 333.1,279.0 333.6,279.1 334.1,279.0 334.6,278.9 335.1,277.7 335.6,273.7 336.1,277.1 336.6,278.6 337.1,279.2 337.6,279.0 338.1,279.0 338.6,279.0 339.1,279.1 339.6,279.1 340.1,279.3 340.6,279.3 341.1,279.4 341.6,279.2 342.1,279.3 342.6,279.1 343.1,279.4 343.6,279.4 344.1,279.5 344.6,279.4 345.1,279.1 345.6,279.1 346.1,279.0 346.6,279.5 347.1,279.2 347.6,279.2 348.1,279.3 348.6,279.0 349.1,279.2 349.6,279.3 350.1,279.1 350.6,279.3 351.1,279.3 351.6,279.2 352.1,279.2 352.6,279.5 353.1,279.0 353.6,279.3 354.1,279.2 354.6,279.4 355.1,279.1 355.6,279.4 356.1,279.3 356.6,279.2 357.1,278.7 357.6,278.6 358.1,278.2 358.6,277.2 359.1,271.4 359.6,268.0 360.1,276.1 360.6,278.1 361.1,278.9 361.6,278.9 362.1,278.8 362.6,278.9 363.1,279.0 363.6,279.2 364.1,279.1 364.6,279.1 365.1,279.2 365.6,279.0 366.1,279.1 366.6,279.4 367.1,279.0 367.6,279.1 368.1,279.4 368.6,279.1 369.1,278.9 369.6,279.0 370.1,279.0 370.6,279.1 371.1,279.1 371.6,278.7 372.1,279.1 372.6,278.9 373.1,279.0 373.6,278.6 374.1,278.3 374.6,277.8 375.1,276.7 375.6,274.8 376.1,268.4 376.6,264.3 377.1,272.2 377.6,274.7 378.1,273.8 378.6,272.6 379.1,276.2 379.6,277.8 380.1,278.1 380.6,278.3 381.1,278.3 381.6,278.0 382.1,277.2 382.6,276.2 383.1,272.3 383.6,263.8 384.1,269.0 384.6,275.0 385.1,277.1 385.6,277.9 386.1,278.4 386.6,278.5 387.1,278.7 387.6,278.7 388.1,278.8 388.6,278.7 389.1,279.0 389.6,278.4 390.1,278.8 390.6,278.5 391.1,278.3 391.6,278.0 392.1,276.6 392.6,274.7 393.1,272.0 393.6,273.8 394.1,275.0 394.6,273.3 395.1,266.9 395.6,257.9 396.1,268.0 396.6,273.8 397.1,275.9 397.6,276.4 398.1,276.7 398.6,276.1 399.1,274.3 399.6,269.4 400.1,256.9 400.6,242.1 401.1,261.0 401.6,271.6 402.1,275.2 402.6,276.4 403.1,277.6 403.6,277.8 404.1,278.0 404.6,278.4 405.1,278.6 405.6,278.8 406.1,278.8 406.6,278.7 407.1,278.7 407.6,278.7 408.1,278.8 408.6,278.4 409.1,278.5 409.6,278.2 410.1,277.6 410.6,276.1 411.1,275.7 411.6,276.8 412.1,277.5 412.6,277.7 413.1,277.0 413.6,275.3 414.1,274.2 414.6,276.5 415.1,277.3 415.6,277.3 416.1,275.8 416.6,272.8 417.1,271.9 417.6,275.1 418.1,275.2 418.6,273.3 419.1,273.3 419.6,275.3 420.1,276.0 420.6,276.0 421.1,274.0 421.6,254.7 422.1,145.1 422.6,-122.3 423.1,-321.7 423.6,-167.5 424.1,113.2 424.6,244.6 425.1,270.7 425.6,273.5 426.1,273.9 426.6,274.3 427.1,274.9 427.6,275.4 428.1,275.5 428.6,275.6 429.1,276.0 429.6,276.0 430.1,276.4 430.6,276.8 431.1,276.9 431.6,276.8 432.1,276.7 432.6,276.8 433.1,276.7 433.6,277.0 434.1,276.9 434.6,277.1 435.1,277.4 435.6,277.2 436.1,277.4 436.6,277.2 437.1,277.3 437.6,277.7 438.1,277.8 438.6,277.8 439.1,278.0 439.6,278.0 440.1,277.6 440.6,277.7 441.1,278.0 441.6,277.8 442.1,278.2 442.6,277.7 443.1,278.0 443.6,278.0 444.1,278.2 444.6,278.3 445.1,278.1 445.6,278.0 446.1,278.0 446.6,278.0 447.1,278.0 447.6,278.4 448.1,278.1 448.6,278.4 449.1,278.1 449.6,278.2 450.1,278.5 450.6,278.2 451.1,278.0 451.6,277.9 452.1,277.7 452.6,277.9 453.1,277.7 453.6,277.6 454.1,277.5 454.6,277.3 455.1,277.5 455.6,277.5 456.1,277.2 456.6,277.1 457.1,277.0 457.6,277.6 458.1,277.2 458.6,277.7 459.1,277.8 459.6,277.7 460.1,277.7 460.6,278.3 461.1,278.4 461.6,278.3 462.1,278.4 462.6,278.8 463.1,279.0 463.6,278.8 464.1,279.1 464.6,279.0 465.1,279.2 465.6,279.1 466.1,279.0 466.6,278.9 467.1,278.8 467.6,278.9 468.1,279.0 468.6,278.9 469.1,279.0 469.6,279.0 470.1,279.0 470.6,278.6 471.1,278.7 471.6,278.6 472.1,278.7 472.6,278.9 473.1,278.7 473.6,278.7 474.1,278.5 474.6,278.5 475.1,278.2 475.6,278.2 476.1,277.5 476.6,277.3 477.1,277.0 477.6,276.8 478.1,276.2 478.6,276.0 479.1,275.7 479.6,275.1 480.1,274.8 480.6,274.5 481.1,274.2 481.6,274.4 482.1,274.2 482.6,274.5 483.1,274.4 483.6,274.5 484.1,275.1 484.6,275.7 485.1,275.7 485.6,276.2 486.1,276.6 486.6,276.5 487.1,276.8 487.6,276.8 488.1,277.0 488.6,277.5 489.1,277.9 489.6,278.6 490.1,279.3 490.6,279.8 491.1,280.2 491.6,281.0 492.1,281.4 492.6,281.6 493.1,281.7 493.6,281.8 494.1,281.6" fill="none" stroke="#e03a3a" stroke-width="1.2" clip-path="url(#ce)"/>
<path d="M284.1,270.1 284.6,270.1 285.1,270.1 285.6,270.3 286.1,270.2 286.6,270.0 287.1,269.8 287.6,270.1 288.1,269.9 288.6,269.3 289.1,269.5 289.6,269.0 290.1,269.1 290.6,268.9 291.1,269.0 291.6,269.3 292.1,269.5 292.6,269.7 293.1,269.6 293.6,269.7 294.1,269.8 294.6,269.7 295.1,269.5 295.6,269.5 296.1,269.4 296.6,269.0 297.1,269.3 297.6,269.1 298.1,269.2 298.6,269.4 299.1,269.8 299.6,269.9 300.1,269.7 300.6,270.0 301.1,269.7 301.6,270.0 302.1,269.6 302.6,269.5 303.1,267.8 303.6,261.8 304.1,265.6 304.6,268.3 305.1,268.5 305.6,267.9 306.1,267.2 306.6,267.0 307.1,268.4 307.6,269.2 308.1,269.8 308.6,270.1 309.1,270.0 309.6,270.3 310.1,270.4 310.6,270.5 311.1,270.1 311.6,270.4 312.1,270.5 312.6,270.3 313.1,270.2 313.6,270.3 314.1,270.3 314.6,270.3 315.1,270.2 315.6,270.3 316.1,270.0 316.6,269.9 317.1,269.2 317.6,267.2 318.1,267.8 318.6,269.4 319.1,269.7 319.6,269.4 320.1,268.3 320.6,266.4 321.1,268.5 321.6,269.9 322.1,270.1 322.6,270.3 323.1,270.5 323.6,270.3 324.1,270.3 324.6,270.2 325.1,270.4 325.6,270.5 326.1,270.4 326.6,270.2 327.1,270.4 327.6,270.3 328.1,270.7 328.6,270.3 329.1,270.6 329.6,270.6 330.1,270.5 330.6,270.6 331.1,270.6 331.6,270.6 332.1,270.5 332.6,270.5 333.1,270.2 333.6,270.5 334.1,270.4 334.6,270.2 335.1,269.0 335.6,265.8 336.1,268.7 336.6,270.0 337.1,270.3 337.6,270.3 338.1,270.6 338.6,270.2 339.1,270.4 339.6,270.5 340.1,270.4 340.6,270.2 341.1,270.5 341.6,270.5 342.1,270.6 342.6,270.5 343.1,270.3 343.6,270.4 344.1,270.6 344.6,270.3 345.1,270.6 345.6,270.5 346.1,270.3 346.6,270.3 347.1,270.5 347.6,270.7 348.1,270.4 348.6,270.5 349.1,270.7 349.6,270.5 350.1,270.3 350.6,270.7 351.1,270.6 351.6,270.6 352.1,270.3 352.6,270.5 353.1,270.3 353.6,270.3 354.1,270.6 354.6,270.4 355.1,270.6 355.6,270.2 356.1,270.3 356.6,270.3 357.1,270.0 357.6,269.8 358.1,269.8 358.6,268.6 359.1,263.5 359.6,260.6 360.1,267.8 360.6,269.4 361.1,269.7 361.6,270.0 362.1,270.0 362.6,270.2 363.1,270.5 363.6,270.3 364.1,270.5 364.6,270.3 365.1,270.6 365.6,270.2 366.1,270.5 366.6,270.2 367.1,270.5 367.6,270.5 368.1,270.5 368.6,270.2 369.1,270.2 369.6,270.2 370.1,270.3 370.6,270.5 371.1,270.4 371.6,270.5 372.1,270.0 372.6,270.3 373.1,269.9 373.6,270.1 374.1,269.8 374.6,269.2 375.1,268.6 375.6,266.6 376.1,260.4 376.6,257.1 377.1,264.3 377.6,266.5 378.1,265.2 378.6,264.5 379.1,268.2 379.6,269.1 380.1,269.4 380.6,269.7 381.1,269.6 381.6,269.2 382.1,268.7 382.6,267.4 383.1,263.8 383.6,256.8 384.1,261.2 384.6,266.9 385.1,268.5 385.6,269.2 386.1,269.4 386.6,269.8 387.1,269.9 387.6,269.8 388.1,270.0 388.6,270.2 389.1,270.0 389.6,270.0 390.1,269.8 390.6,269.6 391.1,269.7 391.6,269.2 392.1,268.1 392.6,266.2 393.1,263.7 393.6,265.6 394.1,266.3 394.6,265.0 395.1,259.5 395.6,251.6 396.1,260.2 396.6,265.9 397.1,267.7 397.6,268.3 398.1,268.2 398.6,267.4 399.1,265.7 399.6,261.9 400.1,250.1 400.6,237.0 401.1,254.0 401.6,263.5 402.1,266.7 402.6,267.9 403.1,268.9 403.6,269.2 404.1,269.6 404.6,269.9 405.1,270.0 405.6,270.0 406.1,270.2 406.6,269.8 407.1,270.1 407.6,270.1 408.1,269.8 408.6,270.1 409.1,269.6 409.6,269.5 410.1,269.1 410.6,267.8 411.1,267.1 411.6,268.6 412.1,269.1 412.6,269.2 413.1,268.4 413.6,266.8 414.1,265.8 414.6,268.0 415.1,268.4 415.6,268.7 416.1,267.6 416.6,264.8 417.1,264.0 417.6,266.7 418.1,266.8 418.6,265.1 419.1,264.7 419.6,266.8 420.1,267.1 420.6,266.9 421.1,265.5 421.6,246.1 422.1,136.7 422.6,-131.2 423.1,-330.6 423.6,-176.1 424.1,104.2 424.6,236.1 425.1,262.0 425.6,264.4 426.1,265.1 426.6,265.5 427.1,265.7 427.6,266.5 428.1,266.7 428.6,266.9 429.1,267.1 429.6,267.3 430.1,267.4 430.6,267.7 431.1,268.0 431.6,268.0 432.1,267.9 432.6,268.3 433.1,268.3 433.6,268.4 434.1,268.1 434.6,268.5 435.1,268.6 435.6,268.4 436.1,268.4 436.6,268.6 437.1,268.5 437.6,268.6 438.1,268.9 438.6,269.1 439.1,268.8 439.6,268.9 440.1,268.8 440.6,269.0 441.1,269.4 441.6,269.3 442.1,269.3 442.6,269.1 443.1,269.3 443.6,269.4 444.1,269.4 444.6,269.4 445.1,269.3 445.6,269.2 446.1,269.2 446.6,269.6 447.1,269.4 447.6,269.2 448.1,269.5 448.6,269.6 449.1,269.4 449.6,269.3 450.1,269.7 450.6,269.6 451.1,269.4 451.6,269.3 452.1,269.4 452.6,269.3 453.1,269.0 453.6,268.6 454.1,268.7 454.6,268.8 455.1,268.3 455.6,268.6 456.1,268.7 456.6,268.7 457.1,268.7 457.6,268.3 458.1,268.6 458.6,268.5 459.1,268.9 459.6,269.3 460.1,269.3 460.6,269.4 461.1,269.7 461.6,269.9 462.1,269.7 462.6,269.8 463.1,269.8 463.6,270.3 464.1,270.1 464.6,270.3 465.1,270.0 465.6,270.0 466.1,270.4 466.6,270.3 467.1,270.0 467.6,269.9 468.1,269.9 468.6,270.3 469.1,270.0 469.6,269.9 470.1,270.0 470.6,270.0 471.1,269.9 471.6,270.2 472.1,270.0 472.6,269.8 473.1,270.0 473.6,270.0 474.1,270.0 474.6,269.5 475.1,269.4 475.6,269.0 476.1,268.7 476.6,268.5 477.1,268.0 477.6,267.7 478.1,267.4 478.6,267.2 479.1,266.7 479.6,266.3 480.1,266.3 480.6,265.8 481.1,265.7 481.6,265.6 482.1,265.5 482.6,265.3 483.1,265.9 483.6,266.1 484.1,266.2 484.6,266.8 485.1,266.8 485.6,267.1 486.1,267.7 486.6,267.9 487.1,267.9 487.6,267.9 488.1,268.2 488.6,268.6 489.1,269.4 489.6,270.0 490.1,270.6 490.6,271.3 491.1,272.1 491.6,272.7 492.1,273.0 492.6,273.3 493.1,273.5 493.6,273.6 494.1,273.6" fill="none" stroke="#f09a30" stroke-width="1.2" clip-path="url(#ce)"/>
<path d="M284.1,260.9 284.6,261.1 285.1,261.0 285.6,260.9 286.1,261.1 286.6,261.1 287.1,260.8 287.6,261.0 288.1,260.7 288.6,260.3 289.1,260.2 289.6,260.4 290.1,260.3 290.6,260.2 291.1,260.0 291.6,260.6 292.1,260.6 292.6,260.8 293.1,260.8 293.6,260.7 294.1,260.8 294.6,260.7 295.1,260.4 295.6,260.3 296.1,260.3 296.6,260.0 297.1,260.1 297.6,260.1 298.1,260.5 298.6,260.6 299.1,260.6 299.6,260.6 300.1,260.8 300.6,260.9 301.1,261.0 301.6,260.9 302.1,260.8 302.6,260.1 303.1,259.0 303.6,254.2 304.1,257.4 304.6,259.5 305.1,259.9 305.6,259.4 306.1,258.7 306.6,258.5 307.1,259.5 307.6,260.4 308.1,260.4 308.6,261.0 309.1,260.8 309.6,260.9 310.1,261.3 310.6,261.1 311.1,260.9 311.6,260.9 312.1,261.1 312.6,261.0 313.1,261.1 313.6,261.3 314.1,261.1 314.6,261.1 315.1,261.2 315.6,261.0 316.1,261.1 316.6,260.7 317.1,260.6 317.6,258.9 318.1,259.5 318.6,260.4 319.1,260.5 319.6,260.5 320.1,259.5 320.6,257.8 321.1,260.0 321.6,260.8 322.1,260.9 322.6,261.0 323.1,261.2 323.6,261.2 324.1,261.3 324.6,261.2 325.1,261.1 325.6,261.3 326.1,261.2 326.6,261.1 327.1,261.2 327.6,261.0 328.1,261.3 328.6,261.1 329.1,261.4 329.6,261.3 330.1,261.1 330.6,261.5 331.1,261.2 331.6,261.1 332.1,261.0 332.6,261.1 333.1,261.3 333.6,261.2 334.1,261.0 334.6,261.1 335.1,260.3 335.6,257.2 336.1,259.8 336.6,261.0 337.1,261.1 337.6,261.2 338.1,261.0 338.6,261.3 339.1,261.1 339.6,261.1 340.1,261.3 340.6,261.4 341.1,261.2 341.6,261.3 342.1,261.2 342.6,261.3 343.1,261.1 343.6,261.3 344.1,261.4 344.6,261.1 345.1,261.1 345.6,261.2 346.1,261.2 346.6,261.1 347.1,261.1 347.6,261.5 348.1,261.3 348.6,261.5 349.1,261.3 349.6,261.4 350.1,261.3 350.6,261.2 351.1,261.1 351.6,261.4 352.1,261.5 352.6,261.0 353.1,261.1 353.6,261.2 354.1,261.4 354.6,261.4 355.1,261.0 355.6,261.2 356.1,261.0 356.6,261.0 357.1,260.9 357.6,260.7 358.1,260.7 358.6,259.8 359.1,255.6 359.6,253.2 360.1,259.0 360.6,260.3 361.1,260.8 361.6,261.0 362.1,261.2 362.6,261.0 363.1,261.1 363.6,261.2 364.1,261.1 364.6,261.0 365.1,261.0 365.6,261.4 366.1,261.3 366.6,261.1 367.1,261.1 367.6,261.3 368.1,261.0 368.6,261.2 369.1,261.0 369.6,261.4 370.1,261.3 370.6,261.4 371.1,261.0 371.6,261.1 372.1,260.8 372.6,260.9 373.1,261.0 373.6,260.9 374.1,260.7 374.6,260.4 375.1,259.8 375.6,257.9 376.1,253.4 376.6,250.5 377.1,256.0 377.6,258.3 378.1,257.3 378.6,256.6 379.1,259.3 379.6,260.1 380.1,260.6 380.6,260.6 381.1,260.7 381.6,260.2 382.1,260.0 382.6,258.7 383.1,256.1 383.6,250.2 384.1,254.0 384.6,258.1 385.1,259.6 385.6,260.2 386.1,260.8 386.6,260.9 387.1,260.7 387.6,260.9 388.1,260.7 388.6,260.8 389.1,260.7 389.6,260.7 390.1,260.6 390.6,260.6 391.1,260.3 391.6,260.2 392.1,259.6 392.6,258.1 393.1,256.1 393.6,257.1 394.1,258.0 394.6,257.2 395.1,252.8 395.6,246.1 396.1,253.0 396.6,257.5 397.1,259.1 397.6,259.4 398.1,259.1 398.6,258.7 399.1,257.4 399.6,254.5 400.1,244.9 400.6,234.6 401.1,248.2 401.6,255.4 402.1,258.4 402.6,259.5 403.1,260.1 403.6,260.1 404.1,260.4 404.6,260.6 405.1,260.6 405.6,260.8 406.1,260.6 406.6,260.7 407.1,261.0 407.6,261.0 408.1,260.8 408.6,260.8 409.1,260.5 409.6,260.4 410.1,259.9 410.6,259.0 411.1,258.8 411.6,259.5 412.1,259.8 412.6,260.0 413.1,259.5 413.6,258.3 414.1,257.7 414.6,259.2 415.1,259.7 415.6,259.5 416.1,258.8 416.6,256.4 417.1,255.9 417.6,258.1 418.1,258.3 418.6,256.8 419.1,256.5 419.6,258.0 420.1,258.2 420.6,258.1 421.1,256.2 421.6,236.7 422.1,127.1 422.6,-140.2 423.1,-339.5 423.6,-185.2 424.1,94.8 424.6,226.6 425.1,252.5 425.6,255.4 426.1,255.9 426.6,256.5 427.1,256.7 427.6,257.2 428.1,257.5 428.6,258.0 429.1,258.3 429.6,258.3 430.1,258.2 430.6,258.5 431.1,258.7 431.6,259.0 432.1,258.9 432.6,259.0 433.1,258.9 433.6,259.1 434.1,258.9 434.6,259.2 435.1,259.1 435.6,259.5 436.1,259.5 436.6,259.3 437.1,259.3 437.6,259.6 438.1,259.7 438.6,259.5 439.1,259.7 439.6,260.0 440.1,259.6 440.6,259.9 441.1,260.0 441.6,260.0 442.1,260.1 442.6,260.0 443.1,260.1 443.6,260.1 444.1,259.9 444.6,260.2 445.1,259.9 445.6,260.0 446.1,259.9 446.6,260.3 447.1,260.0 447.6,260.1 448.1,260.4 448.6,260.0 449.1,260.2 449.6,260.4 450.1,260.4 450.6,260.0 451.1,260.0 451.6,260.2 452.1,259.8 452.6,260.1 453.1,259.7 453.6,259.6 454.1,259.4 454.6,259.3 455.1,259.3 455.6,259.2 456.1,259.3 456.6,259.1 457.1,259.3 457.6,259.2 458.1,259.3 458.6,259.6 459.1,259.5 459.6,259.7 460.1,260.2 460.6,260.1 461.1,260.3 461.6,260.4 462.1,260.8 462.6,260.6 463.1,260.9 463.6,260.8 464.1,261.1 464.6,261.2 465.1,261.0 465.6,260.9 466.1,260.8 466.6,260.9 467.1,260.8 467.6,261.1 468.1,261.1 468.6,260.9 469.1,260.8 469.6,260.7 470.1,261.0 470.6,260.8 471.1,260.9 471.6,260.8 472.1,261.0 472.6,260.9 473.1,260.7 473.6,260.8 474.1,260.4 474.6,260.5 475.1,260.3 475.6,260.2 476.1,259.7 476.6,259.4 477.1,259.1 477.6,258.4 478.1,258.3 478.6,257.8 479.1,257.5 479.6,257.1 480.1,257.1 480.6,256.5 481.1,256.5 481.6,256.5 482.1,256.3 482.6,256.5 483.1,256.5 483.6,256.9 484.1,257.3 484.6,257.4 485.1,257.6 485.6,258.0 486.1,258.2 486.6,258.5 487.1,258.7 487.6,258.8 488.1,258.9 488.6,259.7 489.1,260.0 489.6,260.6 490.1,261.5 490.6,261.8 491.1,262.5 491.6,263.2 492.1,263.4 492.6,263.8 493.1,263.8 493.6,263.9 494.1,263.7" fill="none" stroke="#ecdb70" stroke-width="1.2" clip-path="url(#ce)"/>
<path d="M284.1,253.6 284.6,253.3 285.1,253.5 285.6,253.2 286.1,253.2 286.6,253.3 287.1,253.1 287.6,253.0 288.1,253.1 288.6,252.7 289.1,252.5 289.6,252.4 290.1,252.1 290.6,252.2 291.1,252.5 291.6,252.7 292.1,252.9 292.6,252.7 293.1,252.8 293.6,252.9 294.1,253.0 294.6,252.9 295.1,252.9 295.6,252.7 296.1,252.7 296.6,252.3 297.1,252.3 297.6,252.4 298.1,252.7 298.6,253.0 299.1,253.0 299.6,253.0 300.1,253.1 300.6,253.0 301.1,253.2 301.6,253.1 302.1,252.8 302.6,252.7 303.1,251.5 303.6,246.2 304.1,249.4 304.6,251.8 305.1,252.0 305.6,251.6 306.1,250.6 306.6,250.4 307.1,251.5 307.6,252.3 308.1,252.9 308.6,252.9 309.1,253.2 309.6,253.2 310.1,253.2 310.6,253.3 311.1,253.5 311.6,253.3 312.1,253.4 312.6,253.3 313.1,253.4 313.6,253.4 314.1,253.2 314.6,253.4 315.1,253.5 315.6,253.2 316.1,253.1 316.6,253.3 317.1,252.8 317.6,250.8 318.1,251.2 318.6,252.7 319.1,253.1 319.6,252.7 320.1,251.6 320.6,250.1 321.1,252.1 321.6,252.9 322.1,253.4 322.6,253.4 323.1,253.6 323.6,253.5 324.1,253.6 324.6,253.7 325.1,253.6 325.6,253.7 326.1,253.7 326.6,253.7 327.1,253.6 327.6,253.6 328.1,253.4 328.6,253.6 329.1,253.7 329.6,253.7 330.1,253.6 330.6,253.4 331.1,253.7 331.6,253.6 332.1,253.4 332.6,253.4 333.1,253.5 333.6,253.3 334.1,253.3 334.6,253.3 335.1,252.5 335.6,249.6 336.1,251.9 336.6,253.1 337.1,253.2 337.6,253.2 338.1,253.3 338.6,253.5 339.1,253.8 339.6,253.6 340.1,253.7 340.6,253.5 341.1,253.5 341.6,253.4 342.1,253.5 342.6,253.4 343.1,253.5 343.6,253.6 344.1,253.4 344.6,253.7 345.1,253.4 345.6,253.5 346.1,253.4 346.6,253.8 347.1,253.7 347.6,253.4 348.1,253.7 348.6,253.6 349.1,253.5 349.6,253.6 350.1,253.4 350.6,253.3 351.1,253.6 351.6,253.7 352.1,253.4 352.6,253.6 353.1,253.6 353.6,253.7 354.1,253.7 354.6,253.5 355.1,253.6 355.6,253.4 356.1,253.3 356.6,253.4 357.1,253.1 357.6,253.4 358.1,252.7 358.6,251.7 359.1,247.4 359.6,245.3 360.1,251.3 360.6,252.6 361.1,253.1 361.6,253.3 362.1,253.5 362.6,253.2 363.1,253.3 363.6,253.4 364.1,253.3 364.6,253.5 365.1,253.7 365.6,253.4 366.1,253.7 366.6,253.4 367.1,253.4 367.6,253.6 368.1,253.6 368.6,253.7 369.1,253.6 369.6,253.2 370.1,253.6 370.6,253.3 371.1,253.6 371.6,253.4 372.1,253.3 372.6,253.3 373.1,253.0 373.6,253.2 374.1,252.9 374.6,252.7 375.1,252.0 375.6,250.0 376.1,245.2 376.6,242.1 377.1,248.0 377.6,250.4 378.1,249.5 378.6,248.4 379.1,251.2 379.6,252.6 380.1,252.7 380.6,252.6 381.1,252.6 381.6,252.4 382.1,252.1 382.6,250.9 383.1,248.3 383.6,241.9 384.1,245.7 384.6,250.4 385.1,251.9 385.6,252.6 386.1,252.9 386.6,252.9 387.1,252.9 387.6,253.3 388.1,253.2 388.6,253.0 389.1,253.0 389.6,253.0 390.1,253.0 390.6,252.8 391.1,252.6 391.6,252.4 392.1,251.8 392.6,250.2 393.1,247.8 393.6,249.2 394.1,250.0 394.6,249.2 395.1,244.3 395.6,237.3 396.1,245.0 396.6,249.7 397.1,251.2 397.6,251.6 398.1,251.4 398.6,250.8 399.1,249.5 399.6,246.2 400.1,236.1 400.6,224.9 401.1,239.7 401.6,247.4 402.1,250.3 402.6,251.7 403.1,252.2 403.6,252.7 404.1,252.8 404.6,252.8 405.1,253.2 405.6,253.1 406.1,253.1 406.6,253.2 407.1,253.3 407.6,253.1 408.1,253.2 408.6,253.2 409.1,253.0 409.6,252.6 410.1,252.4 410.6,251.1 411.1,251.1 411.6,251.8 412.1,252.3 412.6,252.1 413.1,251.7 413.6,250.2 414.1,249.8 414.6,251.5 415.1,251.8 415.6,251.8 416.1,250.9 416.6,248.3 417.1,247.8 417.6,250.1 418.1,250.1 418.6,248.9 419.1,248.4 419.6,250.2 420.1,250.6 420.6,250.3 421.1,248.7 421.6,229.1 422.1,119.5 422.6,-147.6 423.1,-347.4 423.6,-192.9 424.1,87.2 424.6,218.8 425.1,244.8 425.6,247.5 426.1,248.2 426.6,248.5 427.1,249.0 427.6,249.5 428.1,249.9 428.6,250.1 429.1,250.2 429.6,250.7 430.1,250.8 430.6,251.0 431.1,251.1 431.6,251.1 432.1,251.4 432.6,251.2 433.1,251.3 433.6,251.2 434.1,251.5 434.6,251.3 435.1,251.3 435.6,251.7 436.1,251.7 436.6,251.5 437.1,251.8 437.6,251.9 438.1,252.1 438.6,251.8 439.1,252.1 439.6,251.9 440.1,252.1 440.6,252.3 441.1,252.0 441.6,252.1 442.1,252.2 442.6,252.3 443.1,252.2 443.6,252.1 444.1,252.5 444.6,252.5 445.1,252.3 445.6,252.4 446.1,252.2 446.6,252.3 447.1,252.5 447.6,252.7 448.1,252.5 448.6,252.5 449.1,252.5 449.6,252.4 450.1,252.5 450.6,252.3 451.1,252.4 451.6,252.5 452.1,252.1 452.6,252.3 453.1,251.9 453.6,251.8 454.1,252.0 454.6,251.9 455.1,251.6 455.6,251.6 456.1,251.6 456.6,251.5 457.1,251.7 457.6,251.8 458.1,251.7 458.6,251.7 459.1,251.8 459.6,252.3 460.1,252.2 460.6,252.5 461.1,252.4 461.6,252.8 462.1,253.1 462.6,253.1 463.1,253.1 463.6,253.4 464.1,253.1 464.6,253.4 465.1,253.2 465.6,253.4 466.1,253.3 466.6,253.2 467.1,253.4 467.6,253.3 468.1,253.1 468.6,253.2 469.1,253.2 469.6,253.1 470.1,253.1 470.6,253.0 471.1,253.1 471.6,252.9 472.1,252.9 472.6,252.9 473.1,252.9 473.6,253.0 474.1,252.9 474.6,252.8 475.1,252.7 475.6,252.1 476.1,252.0 476.6,251.7 477.1,251.3 477.6,250.8 478.1,250.4 478.6,250.4 479.1,249.7 479.6,249.3 480.1,249.0 480.6,248.8 481.1,248.8 481.6,248.5 482.1,248.6 482.6,248.5 483.1,248.5 483.6,249.1 484.1,249.5 484.6,249.6 485.1,249.9 485.6,250.3 486.1,250.8 486.6,251.0 487.1,251.3 487.6,251.0 488.1,251.5 488.6,251.9 489.1,252.4 489.6,252.6 490.1,253.4 490.6,253.8 491.1,254.7 491.6,255.0 492.1,255.3 492.6,255.5 493.1,255.8 493.6,255.7 494.1,255.6" fill="none" stroke="#36b592" stroke-width="1.2" clip-path="url(#ce)"/>
<path d="M284.1,230.5 284.6,230.4 285.1,230.2 285.6,230.2 286.1,230.1 286.6,230.2 287.1,230.0 287.6,230.0 288.1,230.1 288.6,229.8 289.1,229.8 289.6,229.3 290.1,229.2 290.6,229.5 291.1,229.6 291.6,229.5 292.1,229.9 292.6,230.0 293.1,230.0 293.6,230.0 294.1,229.9 294.6,229.7 295.1,229.9 295.6,229.5 296.1,229.6 296.6,229.3 297.1,229.3 297.6,229.7 298.1,229.6 298.6,230.0 299.1,230.1 299.6,230.1 300.1,230.0 300.6,230.1 301.1,230.2 301.6,229.9 302.1,229.8 302.6,229.7 303.1,228.6 303.6,224.3 304.1,226.9 304.6,229.1 305.1,229.2 305.6,228.6 306.1,228.0 306.6,227.9 307.1,228.7 307.6,229.5 308.1,229.9 308.6,230.0 309.1,230.2 309.6,230.3 310.1,230.1 310.6,230.4 311.1,230.4 311.6,230.3 312.1,230.2 312.6,230.2 313.1,230.3 313.6,230.5 314.1,230.2 314.6,230.2 315.1,230.3 315.6,230.2 316.1,230.3 316.6,230.1 317.1,229.6 317.6,228.4 318.1,228.6 318.6,229.6 319.1,230.1 319.6,229.7 320.1,228.9 320.6,227.6 321.1,229.4 321.6,229.9 322.1,230.3 322.6,230.4 323.1,230.3 323.6,230.3 324.1,230.3 324.6,230.4 325.1,230.5 325.6,230.6 326.1,230.6 326.6,230.6 327.1,230.4 327.6,230.4 328.1,230.6 328.6,230.5 329.1,230.3 329.6,230.5 330.1,230.4 330.6,230.4 331.1,230.4 331.6,230.5 332.1,230.4 332.6,230.3 333.1,230.5 333.6,230.3 334.1,230.1 334.6,230.3 335.1,229.5 335.6,227.1 336.1,229.4 336.6,230.2 337.1,230.2 337.6,230.5 338.1,230.6 338.6,230.2 339.1,230.5 339.6,230.4 340.1,230.5 340.6,230.5 341.1,230.5 341.6,230.6 342.1,230.4 342.6,230.6 343.1,230.6 343.6,230.6 344.1,230.5 344.6,230.3 345.1,230.4 345.6,230.3 346.1,230.5 346.6,230.6 347.1,230.4 347.6,230.6 348.1,230.3 348.6,230.5 349.1,230.6 349.6,230.6 350.1,230.5 350.6,230.3 351.1,230.3 351.6,230.4 352.1,230.6 352.6,230.6 353.1,230.6 353.6,230.5 354.1,230.4 354.6,230.4 355.1,230.3 355.6,230.3 356.1,230.4 356.6,230.3 357.1,230.3 357.6,230.0 358.1,230.0 358.6,228.8 359.1,225.6 359.6,223.3 360.1,228.6 360.6,229.6 361.1,230.2 361.6,230.1 362.1,230.5 362.6,230.2 363.1,230.3 363.6,230.4 364.1,230.5 364.6,230.5 365.1,230.4 365.6,230.5 366.1,230.5 366.6,230.3 367.1,230.4 367.6,230.5 368.1,230.3 368.6,230.3 369.1,230.5 369.6,230.3 370.1,230.3 370.6,230.5 371.1,230.4 371.6,230.2 372.1,230.2 372.6,230.3 373.1,230.2 373.6,230.1 374.1,229.8 374.6,229.5 375.1,229.2 375.6,227.7 376.1,223.4 376.6,221.0 377.1,226.0 377.6,227.8 378.1,227.0 378.6,226.1 379.1,228.8 379.6,229.4 380.1,229.6 380.6,230.0 381.1,229.7 381.6,229.6 382.1,229.4 382.6,228.2 383.1,225.8 383.6,220.7 384.1,223.8 384.6,227.9 385.1,228.9 385.6,229.5 386.1,230.0 386.6,229.8 387.1,230.0 387.6,229.9 388.1,230.2 388.6,230.0 389.1,230.0 389.6,230.1 390.1,230.2 390.6,230.1 391.1,229.8 391.6,229.5 392.1,229.1 392.6,227.5 393.1,225.9 393.6,226.9 394.1,227.6 394.6,226.8 395.1,222.9 395.6,216.8 396.1,223.0 396.6,227.0 397.1,228.5 397.6,228.7 398.1,228.5 398.6,228.2 399.1,227.1 399.6,224.5 400.1,215.9 400.6,206.6 401.1,218.6 401.6,225.6 402.1,227.9 402.6,228.6 403.1,229.5 403.6,229.7 404.1,229.9 404.6,229.8 405.1,229.9 405.6,229.9 406.1,230.2 406.6,230.3 407.1,230.2 407.6,230.0 408.1,230.0 408.6,229.8 409.1,229.8 409.6,229.9 410.1,229.4 410.6,228.6 411.1,228.3 411.6,228.9 412.1,229.4 412.6,229.3 413.1,229.2 413.6,227.5 414.1,227.3 414.6,228.5 415.1,228.9 415.6,229.1 416.1,228.2 416.6,225.9 417.1,225.6 417.6,227.4 418.1,227.6 418.6,226.3 419.1,226.1 419.6,227.3 420.1,227.5 420.6,227.4 421.1,225.6 421.6,205.9 422.1,96.4 422.6,-170.8 423.1,-370.3 423.6,-216.0 424.1,64.1 424.6,196.0 425.1,221.8 425.6,224.7 426.1,225.1 426.6,225.6 427.1,225.9 427.6,226.4 428.1,226.6 428.6,227.0 429.1,227.3 429.6,227.7 430.1,227.5 430.6,228.0 431.1,227.9 431.6,227.8 432.1,228.0 432.6,228.2 433.1,228.0 433.6,228.3 434.1,228.2 434.6,228.3 435.1,228.3 435.6,228.5 436.1,228.6 436.6,228.7 437.1,228.5 437.6,228.6 438.1,228.9 438.6,228.8 439.1,228.9 439.6,229.1 440.1,229.1 440.6,229.3 441.1,229.3 441.6,229.4 442.1,229.4 442.6,229.2 443.1,229.1 443.6,229.1 444.1,229.4 444.6,229.1 445.1,229.4 445.6,229.2 446.1,229.3 446.6,229.4 447.1,229.3 447.6,229.3 448.1,229.3 448.6,229.4 449.1,229.3 449.6,229.4 450.1,229.5 450.6,229.2 451.1,229.4 451.6,229.4 452.1,229.0 452.6,228.9 453.1,228.9 453.6,228.8 454.1,228.7 454.6,228.8 455.1,228.5 455.6,228.5 456.1,228.3 456.6,228.5 457.1,228.6 457.6,228.4 458.1,228.6 458.6,228.6 459.1,229.1 459.6,229.0 460.1,229.0 460.6,229.5 461.1,229.7 461.6,229.7 462.1,229.8 462.6,229.9 463.1,230.0 463.6,230.2 464.1,230.1 464.6,230.0 465.1,230.2 465.6,230.2 466.1,230.0 466.6,230.3 467.1,230.1 467.6,230.0 468.1,230.0 468.6,230.0 469.1,230.0 469.6,230.1 470.1,229.9 470.6,230.2 471.1,230.0 471.6,230.0 472.1,229.9 472.6,230.1 473.1,230.1 473.6,230.0 474.1,229.8 474.6,229.7 475.1,229.3 475.6,229.2 476.1,229.0 476.6,228.5 477.1,228.3 477.6,228.0 478.1,227.5 478.6,227.3 479.1,226.7 479.6,226.3 480.1,226.1 480.6,225.7 481.1,225.8 481.6,225.4 482.1,225.4 482.6,225.6 483.1,225.7 483.6,226.0 484.1,226.3 484.6,226.6 485.1,227.0 485.6,227.4 486.1,227.6 486.6,227.8 487.1,228.1 487.6,228.0 488.1,228.1 488.6,228.7 489.1,228.8 489.6,229.5 490.1,229.8 490.6,230.3 491.1,230.9 491.6,231.2 492.1,231.3 492.6,231.6 493.1,231.6 493.6,231.7 494.1,231.5" fill="none" stroke="#8a55c8" stroke-width="1.2" clip-path="url(#ce)"/>
<path d="M284.1,301.4 284.6,301.2 285.1,300.9 285.6,301.1 286.1,301.1 286.6,301.1 287.1,301.0 287.6,300.4 288.1,300.3 288.6,300.3 289.1,299.8 289.6,299.4 290.1,299.2 290.6,299.5 291.1,299.7 291.6,300.0 292.1,300.0 292.6,300.0 293.1,300.3 293.6,300.7 294.1,300.5 294.6,300.6 295.1,300.4 295.6,300.0 296.1,299.9 296.6,299.6 297.1,299.6 297.6,299.7 298.1,299.7 298.6,300.4 299.1,300.4 299.6,300.7 300.1,300.9 300.6,300.9 301.1,300.6 301.6,300.5 302.1,300.3 302.6,299.6 303.1,297.6 303.6,289.1 304.1,294.6 304.6,298.5 305.1,298.9 305.6,298.0 306.1,296.3 306.6,296.2 307.1,297.9 307.6,299.5 308.1,300.2 308.6,300.5 309.1,300.9 309.6,300.9 310.1,301.0 310.6,301.2 311.1,301.4 311.6,301.4 312.1,301.3 312.6,301.3 313.1,301.4 313.6,301.4 314.1,301.2 314.6,301.2 315.1,301.1 315.6,301.0 316.1,301.4 316.6,300.9 317.1,299.8 317.6,297.1 318.1,297.8 318.6,300.2 319.1,300.5 319.6,300.0 320.1,298.3 320.6,295.1 321.1,298.7 321.6,300.3 322.1,300.8 322.6,301.0 323.1,301.1 323.6,301.1 324.1,301.5 324.6,301.5 325.1,301.5 325.6,301.3 326.1,301.2 326.6,301.4 327.1,301.5 327.6,301.7 328.1,301.7 328.6,301.8 329.1,301.7 329.6,301.8 330.1,301.6 330.6,301.6 331.1,301.2 331.6,301.7 332.1,301.7 332.6,301.2 333.1,301.2 333.6,301.3 334.1,301.2 334.6,300.9 335.1,299.4 335.6,294.6 336.1,299.1 336.6,300.4 337.1,300.9 337.6,301.1 338.1,301.6 338.6,301.4 339.1,301.7 339.6,301.4 340.1,301.8 340.6,301.5 341.1,301.7 341.6,301.3 342.1,301.3 342.6,301.6 343.1,301.3 343.6,301.4 344.1,301.7 344.6,301.3 345.1,301.3 345.6,301.7 346.1,301.4 346.6,301.6 347.1,301.8 347.6,301.6 348.1,301.7 348.6,301.4 349.1,301.4 349.6,301.7 350.1,301.6 350.6,301.8 351.1,301.6 351.6,301.5 352.1,301.3 352.6,301.2 353.1,301.4 353.6,301.5 354.1,301.3 354.6,301.4 355.1,301.2 355.6,301.5 356.1,301.1 356.6,301.4 357.1,301.2 357.6,301.0 358.1,300.3 358.6,298.5 359.1,291.0 359.6,287.2 360.1,297.5 360.6,300.2 361.1,300.5 361.6,300.9 362.1,300.9 362.6,301.0 363.1,301.3 363.6,301.5 364.1,301.3 364.6,301.4 365.1,301.5 365.6,301.6 366.1,301.2 366.6,301.4 367.1,301.6 367.6,301.6 368.1,301.6 368.6,301.6 369.1,301.2 369.6,301.3 370.1,301.4 370.6,301.4 371.1,301.3 371.6,301.2 372.1,301.0 372.6,301.2 373.1,300.9 373.6,300.4 374.1,300.2 374.6,299.7 375.1,298.5 375.6,295.5 376.1,287.1 376.6,281.7 377.1,292.2 377.6,296.0 378.1,294.3 378.6,292.3 379.1,297.4 379.6,299.6 380.1,299.9 380.6,300.2 381.1,300.0 381.6,299.6 382.1,299.0 382.6,297.0 383.1,292.0 383.6,281.1 384.1,288.2 384.6,295.8 385.1,298.4 385.6,299.6 386.1,300.0 386.6,300.1 387.1,300.4 387.6,300.3 388.1,300.7 388.6,300.4 389.1,300.2 389.6,300.1 390.1,300.1 390.6,300.1 391.1,299.6 391.6,299.1 392.1,298.0 392.6,294.9 393.1,291.6 393.6,294.1 394.1,295.4 394.6,293.0 395.1,285.4 395.6,273.4 396.1,285.8 396.6,293.7 397.1,296.6 397.6,297.4 398.1,297.1 398.6,296.6 399.1,294.4 399.6,288.4 400.1,271.1 400.6,251.9 401.1,276.9 401.6,290.7 402.1,295.1 402.6,297.2 403.1,298.2 403.6,299.3 404.1,299.2 404.6,299.5 405.1,300.0 405.6,300.0 406.1,300.2 406.6,300.1 407.1,299.9 407.6,300.3 408.1,299.9 408.6,299.7 409.1,299.9 409.6,299.5 410.1,298.3 410.6,296.6 411.1,296.2 411.6,297.5 412.1,298.5 412.6,298.9 413.1,297.7 413.6,295.3 414.1,294.2 414.6,296.9 415.1,298.4 415.6,297.7 416.1,296.6 416.6,292.1 417.1,291.1 417.6,295.1 418.1,296.0 418.6,293.4 419.1,293.1 419.6,295.9 420.1,297.1 420.6,296.8 421.1,295.5 421.6,275.8 422.1,166.5 422.6,-101.1 423.1,-300.5 423.6,-145.9 424.1,134.0 424.6,265.8 425.1,291.7 425.6,294.4 426.1,295.1 426.6,295.6 427.1,295.9 427.6,296.3 428.1,296.7 428.6,297.3 429.1,297.5 429.6,297.7 430.1,298.0 430.6,298.1 431.1,298.1 431.6,298.4 432.1,298.4 432.6,298.3 433.1,298.2 433.6,298.5 434.1,298.3 434.6,298.8 435.1,298.8 435.6,298.8 436.1,298.6 436.6,299.0 437.1,298.7 437.6,299.1 438.1,298.9 438.6,299.1 439.1,299.4 439.6,299.0 440.1,299.0 440.6,299.1 441.1,299.5 441.6,299.4 442.1,299.6 442.6,299.3 443.1,299.6 443.6,299.5 444.1,299.5 444.6,299.3 445.1,299.6 445.6,299.7 446.1,299.4 446.6,299.9 447.1,300.0 447.6,299.8 448.1,300.0 448.6,299.5 449.1,299.8 449.6,299.6 450.1,300.0 450.6,299.8 451.1,299.5 451.6,299.9 452.1,299.4 452.6,299.2 453.1,299.2 453.6,299.5 454.1,299.2 454.6,299.1 455.1,299.0 455.6,298.8 456.1,299.0 456.6,299.1 457.1,298.7 457.6,299.0 458.1,299.0 458.6,299.2 459.1,299.3 459.6,299.7 460.1,299.9 460.6,300.1 461.1,300.1 461.6,300.4 462.1,300.1 462.6,300.7 463.1,300.4 463.6,300.6 464.1,300.9 464.6,300.9 465.1,300.6 465.6,300.4 466.1,300.8 466.6,300.9 467.1,300.9 467.6,300.5 468.1,300.9 468.6,301.0 469.1,300.6 469.6,300.6 470.1,300.9 470.6,300.7 471.1,301.0 471.6,300.7 472.1,300.9 472.6,300.6 473.1,300.7 473.6,300.6 474.1,300.3 474.6,300.4 475.1,300.3 475.6,300.1 476.1,299.6 476.6,299.2 477.1,298.7 477.6,298.6 478.1,298.2 478.6,297.8 479.1,297.3 479.6,297.2 480.1,297.0 480.6,296.4 481.1,296.6 481.6,296.4 482.1,296.2 482.6,296.2 483.1,296.5 483.6,296.5 484.1,297.2 484.6,297.4 485.1,297.5 485.6,298.3 486.1,298.7 486.6,298.5 487.1,298.6 487.6,299.1 488.1,299.3 488.6,299.8 489.1,300.1 489.6,301.0 490.1,301.3 490.6,302.3 491.1,302.8 491.6,303.3 492.1,304.1 492.6,304.5 493.1,304.5 493.6,304.4 494.1,304.1" fill="none" stroke="#3d40ae" stroke-width="1.2" clip-path="url(#ce)"/>
<path d="M284.1,242.7 284.6,242.9 285.1,242.5 285.6,242.5 286.1,242.6 286.6,242.4 287.1,242.5 287.6,242.4 288.1,242.2 288.6,241.8 289.1,241.8 289.6,241.2 290.1,241.5 290.6,241.5 291.1,241.6 291.6,241.6 292.1,241.9 292.6,242.0 293.1,242.2 293.6,242.1 294.1,242.2 294.6,242.2 295.1,242.0 295.6,241.9 296.1,241.7 296.6,241.3 297.1,241.3 297.6,241.4 298.1,241.6 298.6,242.0 299.1,242.2 299.6,242.3 300.1,242.4 300.6,242.3 301.1,242.6 301.6,242.3 302.1,242.1 302.6,241.7 303.1,240.2 303.6,233.3 304.1,237.8 304.6,240.6 305.1,241.1 305.6,240.6 306.1,239.3 306.6,239.2 307.1,240.5 307.6,241.4 308.1,241.9 308.6,242.4 309.1,242.4 309.6,242.6 310.1,242.7 310.6,242.6 311.1,242.8 311.6,242.6 312.1,242.7 312.6,242.7 313.1,243.0 313.6,243.0 314.1,243.0 314.6,242.9 315.1,242.6 315.6,242.6 316.1,242.5 316.6,242.6 317.1,241.6 317.6,239.4 318.1,240.0 318.6,241.7 319.1,242.3 319.6,242.0 320.1,240.5 320.6,238.1 321.1,240.8 321.6,242.2 322.1,242.4 322.6,242.9 323.1,242.6 323.6,242.7 324.1,242.9 324.6,243.1 325.1,242.9 325.6,242.8 326.1,243.0 326.6,243.1 327.1,243.0 327.6,242.8 328.1,243.1 328.6,242.7 329.1,243.0 329.6,243.1 330.1,243.1 330.6,242.7 331.1,242.8 331.6,243.0 332.1,243.1 332.6,242.8 333.1,242.7 333.6,243.0 334.1,242.6 334.6,242.2 335.1,241.3 335.6,237.5 336.1,240.8 336.6,242.4 337.1,242.8 337.6,242.7 338.1,242.8 338.6,242.9 339.1,243.0 339.6,242.7 340.1,243.0 340.6,242.9 341.1,242.8 341.6,243.0 342.1,243.1 342.6,243.1 343.1,243.1 343.6,243.1 344.1,243.1 344.6,243.0 345.1,243.0 345.6,243.0 346.1,242.9 346.6,242.9 347.1,242.9 347.6,243.0 348.1,242.9 348.6,242.9 349.1,243.1 349.6,242.9 350.1,243.0 350.6,242.9 351.1,242.8 351.6,243.0 352.1,243.0 352.6,242.9 353.1,243.0 353.6,243.1 354.1,243.1 354.6,242.7 355.1,242.8 355.6,242.9 356.1,242.7 356.6,242.8 357.1,242.5 357.6,242.2 358.1,241.9 358.6,240.7 359.1,234.9 359.6,231.7 360.1,240.1 360.6,241.8 361.1,242.4 361.6,242.7 362.1,242.6 362.6,242.9 363.1,242.7 363.6,242.7 364.1,243.0 364.6,242.8 365.1,243.0 365.6,242.8 366.1,242.8 366.6,242.7 367.1,242.7 367.6,242.9 368.1,242.7 368.6,243.0 369.1,242.7 369.6,242.8 370.1,242.9 370.6,242.9 371.1,242.9 371.6,242.6 372.1,242.8 372.6,242.7 373.1,242.6 373.6,242.5 374.1,242.0 374.6,241.6 375.1,240.6 375.6,238.2 376.1,231.9 376.6,228.1 377.1,235.9 377.6,238.6 378.1,237.3 378.6,236.1 379.1,240.1 379.6,241.5 380.1,241.8 380.6,241.8 381.1,242.0 381.6,241.5 382.1,240.9 382.6,239.7 383.1,235.8 383.6,227.8 384.1,233.0 384.6,238.9 385.1,240.7 385.6,241.5 386.1,241.8 386.6,242.2 387.1,242.1 387.6,242.4 388.1,242.6 388.6,242.6 389.1,242.5 389.6,242.3 390.1,242.1 390.6,242.2 391.1,242.0 391.6,241.4 392.1,240.6 392.6,238.3 393.1,235.7 393.6,237.3 394.1,238.4 394.6,237.0 395.1,230.7 395.6,221.9 396.1,231.7 396.6,237.7 397.1,239.4 397.6,240.3 398.1,240.3 398.6,239.7 399.1,238.0 399.6,233.4 400.1,220.2 400.6,205.4 401.1,224.6 401.6,235.0 402.1,238.9 402.6,240.2 403.1,241.3 403.6,241.6 404.1,242.1 404.6,241.9 405.1,242.4 405.6,242.3 406.1,242.3 406.6,242.4 407.1,242.4 407.6,242.5 408.1,242.3 408.6,242.1 409.1,242.1 409.6,241.7 410.1,241.1 410.6,240.2 411.1,239.4 411.6,240.8 412.1,241.3 412.6,241.4 413.1,240.6 413.6,238.9 414.1,237.7 414.6,240.4 415.1,241.1 415.6,241.0 416.1,239.9 416.6,236.2 417.1,235.4 417.6,238.5 418.1,239.2 418.6,237.1 419.1,236.7 419.6,238.9 420.1,239.7 420.6,239.3 421.1,237.8 421.6,218.4 422.1,109.1 422.6,-158.5 423.1,-358.2 423.6,-203.6 424.1,76.7 424.6,208.2 425.1,234.4 425.6,236.8 426.1,237.7 426.6,237.9 427.1,238.3 427.6,239.1 428.1,239.1 428.6,239.6 429.1,239.7 429.6,239.9 430.1,240.3 430.6,240.1 431.1,240.5 431.6,240.6 432.1,240.6 432.6,240.8 433.1,240.8 433.6,240.6 434.1,240.9 434.6,240.8 435.1,240.7 435.6,241.0 436.1,240.9 436.6,240.9 437.1,241.3 437.6,241.4 438.1,241.2 438.6,241.2 439.1,241.3 439.6,241.4 440.1,241.5 440.6,241.4 441.1,241.5 441.6,241.6 442.1,241.5 442.6,241.9 443.1,241.6 443.6,241.7 444.1,242.0 444.6,241.9 445.1,241.7 445.6,241.8 446.1,241.8 446.6,241.9 447.1,241.9 447.6,241.7 448.1,241.7 448.6,241.9 449.1,241.8 449.6,242.1 450.1,242.1 450.6,241.9 451.1,241.7 451.6,241.9 452.1,241.8 452.6,241.6 453.1,241.5 453.6,241.5 454.1,241.4 454.6,241.2 455.1,241.0 455.6,241.2 456.1,240.8 456.6,241.1 457.1,241.1 457.6,241.0 458.1,241.4 458.6,241.3 459.1,241.5 459.6,241.7 460.1,241.5 460.6,242.0 461.1,241.9 461.6,242.0 462.1,242.4 462.6,242.3 463.1,242.6 463.6,242.5 464.1,242.6 464.6,242.7 465.1,242.5 465.6,242.6 466.1,242.7 466.6,242.6 467.1,242.7 467.6,242.7 468.1,242.4 468.6,242.4 469.1,242.7 469.6,242.4 470.1,242.4 470.6,242.7 471.1,242.7 471.6,242.5 472.1,242.3 472.6,242.3 473.1,242.6 473.6,242.5 474.1,242.2 474.6,242.3 475.1,242.1 475.6,241.7 476.1,241.3 476.6,240.9 477.1,240.5 477.6,240.5 478.1,240.1 478.6,239.8 479.1,239.2 479.6,239.0 480.1,238.5 480.6,238.3 481.1,238.2 481.6,238.0 482.1,238.1 482.6,237.8 483.1,238.0 483.6,238.3 484.1,238.6 484.6,239.2 485.1,239.7 485.6,239.9 486.1,240.1 486.6,240.5 487.1,240.3 487.6,240.4 488.1,240.7 488.6,241.2 489.1,241.9 489.6,242.2 490.1,243.1 490.6,243.6 491.1,244.1 491.6,244.7 492.1,245.3 492.6,245.3 493.1,245.6 493.6,245.5 494.1,245.5" fill="none" stroke="#3d40ae" stroke-width="1.2" clip-path="url(#ce)"/>
<defs><linearGradient id="gcol" x1="0" x2="0" y1="0" y2="1"><stop offset="0" stop-color="#4048b0"/><stop offset="0.35" stop-color="#4a60b8"/><stop offset="0.55" stop-color="#e8c860"/><stop offset="0.8" stop-color="#f09a30"/><stop offset="1" stop-color="#e04a30"/></linearGradient></defs>
<rect x="421.9" y="207.9" width="2" height="124" fill="url(#gcol)" clip-path="url(#ce)"/>
<rect x="283.8" y="207.8" width="209.7" height="156" fill="none" stroke="#000" stroke-width="1.6"/>
<text x="495.8" y="233.5" font-family="Liberation Sans" font-weight="bold" font-size="5.4" fill="#111">-1.6V</text>
<text x="495.8" y="247.4" font-family="Liberation Sans" font-weight="bold" font-size="5.4" fill="#111">-1.5V</text>
<text x="495.8" y="257.59999999999997" font-family="Liberation Sans" font-weight="bold" font-size="5.4" fill="#111">-1.4V</text>
<text x="495.8" y="265.79999999999995" font-family="Liberation Sans" font-weight="bold" font-size="5.4" fill="#111">-1.3V</text>
<text x="495.8" y="275.4" font-family="Liberation Sans" font-weight="bold" font-size="5.4" fill="#111">-1.2V</text>
<text x="495.8" y="283.5" font-family="Liberation Sans" font-weight="bold" font-size="5.4" fill="#111">-1.1V</text>
<text x="495.8" y="293.09999999999997" font-family="Liberation Sans" font-weight="bold" font-size="5.4" fill="#111">-1.0V</text>
<text x="495.8" y="306.2" font-family="Liberation Sans" font-weight="bold" font-size="5.4" fill="#111">-0.9V</text>
<text x="495.8" y="319.0" font-family="Liberation Sans" font-weight="bold" font-size="5.4" fill="#111">-0.8V</text>
<text x="495.8" y="328.2" font-family="Liberation Sans" font-weight="bold" font-size="5.4" fill="#111">-0.7V</text>
<text x="495.8" y="339.9" font-family="Liberation Sans" font-weight="bold" font-size="5.4" fill="#111">-0.6V</text>
<text x="495.8" y="358.2" font-family="Liberation Sans" font-weight="bold" font-size="5.4" fill="#111">0V</text>
<rect x="533.8" y="207.6" width="206.6" height="154.5" fill="none" stroke="#000" stroke-width="1.6"/>
<line x1="534" y1="362.1" x2="534" y2="366.1" stroke="#000" stroke-width="1.2"/>
<line x1="579.8" y1="362.1" x2="579.8" y2="366.1" stroke="#000" stroke-width="1.2"/>
<line x1="625.6" y1="362.1" x2="625.6" y2="366.1" stroke="#000" stroke-width="1.2"/>
<line x1="671.4" y1="362.1" x2="671.4" y2="366.1" stroke="#000" stroke-width="1.2"/>
<line x1="717.2" y1="362.1" x2="717.2" y2="366.1" stroke="#000" stroke-width="1.2"/>
<line x1="556.9" y1="362.1" x2="556.9" y2="364.7" stroke="#000" stroke-width="1.2"/>
<line x1="602.7" y1="362.1" x2="602.7" y2="364.7" stroke="#000" stroke-width="1.2"/>
<line x1="648.5" y1="362.1" x2="648.5" y2="364.7" stroke="#000" stroke-width="1.2"/>
<line x1="694.3" y1="362.1" x2="694.3" y2="364.7" stroke="#000" stroke-width="1.2"/>
<text x="534" y="374.5" font-family="Liberation Sans" font-weight="bold" font-size="8.7" text-anchor="middle" fill="#111">2400</text>
<text x="579.8" y="374.5" font-family="Liberation Sans" font-weight="bold" font-size="8.7" text-anchor="middle" fill="#111">2000</text>
<text x="625.6" y="374.5" font-family="Liberation Sans" font-weight="bold" font-size="8.7" text-anchor="middle" fill="#111">1600</text>
<text x="671.4" y="374.5" font-family="Liberation Sans" font-weight="bold" font-size="8.7" text-anchor="middle" fill="#111">1200</text>
<text x="717.2" y="374.5" font-family="Liberation Sans" font-weight="bold" font-size="8.7" text-anchor="middle" fill="#111">800</text>
<text transform="translate(530,275) rotate(-90)" font-family="Liberation Sans" font-weight="bold" font-size="10" text-anchor="middle" fill="#111">Intensity</text>
<text x="637" y="384.5" font-family="Liberation Sans" font-weight="bold" font-size="10" text-anchor="middle" fill="#111">Wavenumber (cm<tspan font-size="6" dy="-4">-1</tspan><tspan dy="4">)</tspan></text>
<text x="514.5" y="219" font-family="Liberation Serif" font-weight="bold" font-size="18" fill="#000">f</text>
<line x1="540" y1="255" x2="540" y2="361" stroke="#888" stroke-width="0.6" stroke-dasharray="1,1"/>
<line x1="571.4" y1="255" x2="571.4" y2="361" stroke="#888" stroke-width="0.6" stroke-dasharray="1,1"/>
<line x1="627.3" y1="230" x2="627.3" y2="361" stroke="#888" stroke-width="0.6" stroke-dasharray="1,1"/>
<line x1="651" y1="219" x2="651" y2="345" stroke="#888" stroke-width="0.6" stroke-dasharray="1,1"/>
<line x1="649.8" y1="232" x2="649.8" y2="332" stroke="#888" stroke-width="0.6" stroke-dasharray="1,1"/>
<line x1="654.6" y1="240" x2="654.6" y2="347" stroke="#888" stroke-width="0.6" stroke-dasharray="1,1"/>
<line x1="668.8" y1="228" x2="668.8" y2="326" stroke="#888" stroke-width="0.6" stroke-dasharray="1,1"/>
<line x1="689.5" y1="225" x2="689.5" y2="333" stroke="#888" stroke-width="0.6" stroke-dasharray="1,1"/>
<text x="540.7" y="248.6" font-family="Liberation Sans" font-weight="bold" font-size="4.7" text-anchor="middle" fill="#222" style="stroke:none">CO<tspan font-size="3.5">2</tspan></text>
<text x="540.7" y="254.3" font-family="Liberation Sans" font-weight="bold" font-size="4.7" text-anchor="middle" fill="#222" style="stroke:none">2348</text>
<text x="571.4" y="248.6" font-family="Liberation Sans" font-weight="bold" font-size="4.7" text-anchor="middle" fill="#222" style="stroke:none">*CO</text>
<text x="571.4" y="254.3" font-family="Liberation Sans" font-weight="bold" font-size="4.7" text-anchor="middle" fill="#222" style="stroke:none">2073</text>
<text x="630.1" y="224.8" font-family="Liberation Sans" font-weight="bold" font-size="4.7" text-anchor="middle" fill="#222" style="stroke:none">*COOH (asymm)</text>
<text x="627.8" y="229.9" font-family="Liberation Sans" font-weight="bold" font-size="4.7" text-anchor="middle" fill="#222" style="stroke:none">1587</text>
<text x="655.4" y="213.3" font-family="Liberation Sans" font-weight="bold" font-size="4.7" text-anchor="middle" fill="#222" style="stroke:none">*COOH (symm)</text>
<text x="651.9" y="218.4" font-family="Liberation Sans" font-weight="bold" font-size="4.7" text-anchor="middle" fill="#222" style="stroke:none">1384</text>
<text x="657.4" y="352.8" font-family="Liberation Sans" font-weight="bold" font-size="4.7" text-anchor="middle" fill="#222" style="stroke:none">*COOH (C-O)</text>
<text x="657.4" y="357.8" font-family="Liberation Sans" font-weight="bold" font-size="4.7" text-anchor="middle" fill="#222" style="stroke:none">1347</text>
<text x="669.6" y="330.6" font-family="Liberation Sans" font-weight="bold" font-size="4.7" text-anchor="middle" fill="#222" style="stroke:none">*COOH (OH)</text>
<text x="669.6" y="335.7" font-family="Liberation Sans" font-weight="bold" font-size="4.7" text-anchor="middle" fill="#222" style="stroke:none">1220</text>
<text x="690.0" y="338" font-family="Liberation Sans" font-weight="bold" font-size="4.7" text-anchor="middle" fill="#222" style="stroke:none">*CH<tspan font-size="3.5">2</tspan>O</text>
<text x="690.0" y="342.8" font-family="Liberation Sans" font-weight="bold" font-size="4.7" text-anchor="middle" fill="#222" style="stroke:none">1040</text>
<path d="M534.0,267.2 534.5,267.2 535.0,267.1 535.5,267.0 536.0,267.1 536.5,267.0 537.0,267.1 537.5,266.9 538.0,267.0 538.5,267.0 539.0,266.8 539.5,266.8 540.0,266.8 540.5,266.7 541.0,266.8 541.5,266.6 542.0,266.7 542.5,266.6 543.0,266.6 543.5,266.5 544.0,266.7 544.5,266.6 545.0,266.7 545.5,266.6 546.0,266.5 546.5,266.5 547.0,266.4 547.5,266.4 548.0,266.6 548.5,266.6 549.0,266.5 549.5,266.4 550.0,266.4 550.5,266.3 551.0,266.2 551.5,266.3 552.0,266.2 552.5,266.0 553.0,266.1 553.5,266.1 554.0,266.0 554.5,265.9 555.0,265.9 555.5,265.8 556.0,265.8 556.5,265.8 557.0,265.6 557.5,265.8 558.0,265.7 558.5,265.7 559.0,265.5 559.5,265.7 560.0,265.6 560.5,265.5 561.0,265.7 561.5,265.6 562.0,265.5 562.5,265.5 563.0,265.4 563.5,265.6 564.0,265.4 564.5,265.5 565.0,265.3 565.5,265.3 566.0,265.2 566.5,265.1 567.0,265.1 567.5,265.0 568.0,265.0 568.5,264.9 569.0,264.9 569.5,264.8 570.0,264.8 570.5,264.8 571.0,264.7 571.5,264.7 572.0,264.6 572.5,264.6 573.0,264.4 573.5,264.4 574.0,264.3 574.5,264.4 575.0,264.3 575.5,264.2 576.0,264.2 576.5,264.1 577.0,264.1 577.5,264.2 578.0,264.2 578.5,264.1 579.0,264.1 579.5,264.0 580.0,264.1 580.5,264.1 581.0,264.1 581.5,264.1 582.0,264.1 582.5,263.9 583.0,263.9 583.5,264.0 584.0,263.8 584.5,263.8 585.0,263.6 585.5,263.6 586.0,263.5 586.5,263.4 587.0,263.3 587.5,263.2 588.0,263.0 588.5,262.9 589.0,262.9 589.5,262.7 590.0,262.5 590.5,262.5 591.0,262.5 591.5,262.3 592.0,262.2 592.5,262.1 593.0,261.9 593.5,261.8 594.0,261.8 594.5,261.7 595.0,261.7 595.5,261.4 596.0,261.3 596.5,261.4 597.0,261.2 597.5,261.1 598.0,261.2 598.5,261.2 599.0,261.1 599.5,261.1 600.0,261.1 600.5,260.7 601.0,261.1 601.5,261.2 602.0,261.1 602.5,260.7 603.0,260.5 603.5,260.7 604.0,260.1 604.5,259.8 605.0,260.2 605.5,259.7 606.0,259.5 606.5,259.3 607.0,259.0 607.5,259.4 608.0,259.0 608.5,259.2 609.0,258.8 609.5,258.8 610.0,258.8 610.5,258.4 611.0,259.0 611.5,258.6 612.0,259.2 612.5,259.1 613.0,259.4 613.5,259.5 614.0,259.2 614.5,259.3 615.0,259.7 615.5,260.0 616.0,259.5 616.5,260.1 617.0,259.8 617.5,260.0 618.0,260.0 618.5,260.0 619.0,260.8 619.5,261.1 620.0,261.4 620.5,261.8 621.0,262.8 621.5,263.2 622.0,262.8 622.5,263.1 623.0,264.1 623.5,264.8 624.0,266.3 624.5,267.4 625.0,268.2 625.5,268.5 626.0,269.3 626.5,268.6 627.0,267.5 627.5,265.8 628.0,264.0 628.5,261.9 629.0,260.6 629.5,259.4 630.0,259.4 630.5,258.8 631.0,258.1 631.5,256.7 632.0,254.8 632.5,252.7 633.0,250.9 633.5,249.1 634.0,247.1 634.5,245.7 635.0,243.9 635.5,243.4 636.0,242.8 636.5,242.8 637.0,242.8 637.5,242.2 638.0,241.3 638.5,240.8 639.0,239.3 639.5,238.4 640.0,237.2 640.5,236.5 641.0,235.6 641.5,234.6 642.0,233.2 642.5,232.7 643.0,232.1 643.5,231.1 644.0,231.4 644.5,231.1 645.0,231.4 645.5,231.3 646.0,232.1 646.5,232.6 647.0,233.3 647.5,233.9 648.0,234.0 648.5,234.4 649.0,235.7 649.5,237.2 650.0,238.3 650.5,239.2 651.0,239.9 651.5,240.2 652.0,241.6 652.5,242.8 653.0,241.9 653.5,240.6 654.0,239.3 654.5,237.7 655.0,236.9 655.5,236.9 656.0,236.0 656.5,234.6 657.0,233.2 657.5,231.5 658.0,229.6 658.5,228.6 659.0,227.7 659.5,227.4 660.0,227.5 660.5,227.6 661.0,228.0 661.5,228.3 662.0,228.5 662.5,228.9 663.0,229.2 663.5,229.4 664.0,229.8 664.5,229.9 665.0,230.0 665.5,229.9 666.0,230.1 666.5,230.3 667.0,230.4 667.5,230.8 668.0,231.0 668.5,231.2 669.0,231.4 669.5,231.7 670.0,231.9 670.5,231.8 671.0,232.0 671.5,231.8 672.0,231.0 672.5,230.0 673.0,228.9 673.5,227.3 674.0,226.0 674.5,225.0 675.0,223.9 675.5,223.2 676.0,222.8 676.5,222.8 677.0,222.2 677.5,221.6 678.0,220.7 678.5,219.8 679.0,218.9 679.5,218.1 680.0,217.5 680.5,217.0 681.0,216.9 681.5,217.2 682.0,217.5 682.5,218.2 683.0,218.8 683.5,219.6 684.0,220.2 684.5,220.7 685.0,220.9 685.5,221.2 686.0,221.8 686.5,223.0 687.0,224.2 687.5,225.3 688.0,226.5 688.5,227.2 689.0,227.4 689.5,226.8 690.0,225.8 690.5,224.2 691.0,222.5 691.5,221.4 692.0,221.0 692.5,220.4 693.0,219.2 693.5,217.3 694.0,215.6 694.5,214.4 695.0,213.9 695.5,213.6 696.0,213.3 696.5,212.7 697.0,211.9 697.5,211.5 698.0,211.4 698.5,211.3 699.0,211.6 699.5,211.7 700.0,211.8 700.5,212.0 701.0,212.2 701.5,212.2 702.0,212.4 702.5,212.4 703.0,212.7 703.5,212.9 704.0,213.3 704.5,213.6 705.0,214.0 705.5,214.6 706.0,215.1 706.5,215.5 707.0,215.9 707.5,216.3 708.0,216.6 708.5,216.8 709.0,216.8 709.5,216.9 710.0,217.1 710.5,217.4 711.0,217.7 711.5,218.1 712.0,218.7 712.5,219.2 713.0,219.6 713.5,220.1 714.0,220.6 714.5,221.2 715.0,221.7 715.5,222.0 716.0,222.4 716.5,222.7 717.0,222.9 717.5,223.0" fill="none" stroke="#9450c0" stroke-width="1.25" clip-path="url(#cf)"/>
<path d="M534.0,275.1 534.5,275.1 535.0,275.0 535.5,275.1 536.0,275.0 536.5,275.0 537.0,275.1 537.5,274.9 538.0,275.1 538.5,274.9 539.0,274.9 539.5,274.7 540.0,274.9 540.5,274.7 541.0,274.7 541.5,274.8 542.0,274.7 542.5,274.8 543.0,274.6 543.5,274.6 544.0,274.5 544.5,274.5 545.0,274.5 545.5,274.6 546.0,274.5 546.5,274.6 547.0,274.5 547.5,274.6 548.0,274.4 548.5,274.5 549.0,274.5 549.5,274.5 550.0,274.3 550.5,274.4 551.0,274.2 551.5,274.3 552.0,274.3 552.5,274.2 553.0,274.2 553.5,274.0 554.0,274.1 554.5,273.9 555.0,273.8 555.5,273.8 556.0,273.9 556.5,273.8 557.0,273.7 557.5,273.7 558.0,273.8 558.5,273.6 559.0,273.6 559.5,273.7 560.0,273.6 560.5,273.7 561.0,273.5 561.5,273.7 562.0,273.5 562.5,273.5 563.0,273.5 563.5,273.4 564.0,273.5 564.5,273.5 565.0,273.4 565.5,273.4 566.0,273.2 566.5,273.2 567.0,273.2 567.5,273.2 568.0,273.0 568.5,273.2 569.0,273.1 569.5,273.0 570.0,273.0 570.5,272.8 571.0,272.8 571.5,272.8 572.0,272.6 572.5,272.5 573.0,272.6 573.5,272.5 574.0,272.5 574.5,272.5 575.0,272.4 575.5,272.3 576.0,272.4 576.5,272.2 577.0,272.3 577.5,272.3 578.0,272.1 578.5,272.1 579.0,272.2 579.5,272.2 580.0,272.2 580.5,272.3 581.0,272.2 581.5,272.2 582.0,272.0 582.5,272.0 583.0,272.1 583.5,272.0 584.0,271.9 584.5,271.8 585.0,271.7 585.5,271.7 586.0,271.4 586.5,271.6 587.0,271.4 587.5,271.4 588.0,271.1 588.5,271.1 589.0,271.0 589.5,270.8 590.0,270.9 590.5,270.7 591.0,270.6 591.5,270.3 592.0,270.4 592.5,270.2 593.0,270.1 593.5,270.0 594.0,270.0 594.5,269.8 595.0,269.8 595.5,269.8 596.0,269.6 596.5,269.5 597.0,269.5 597.5,269.4 598.0,269.3 598.5,269.4 599.0,269.3 599.5,269.4 600.0,269.2 600.5,269.1 601.0,269.4 601.5,269.4 602.0,268.9 602.5,269.2 603.0,269.1 603.5,268.9 604.0,268.6 604.5,268.2 605.0,268.2 605.5,267.8 606.0,268.3 606.5,268.1 607.0,267.4 607.5,267.9 608.0,267.3 608.5,267.7 609.0,267.5 609.5,267.2 610.0,267.3 610.5,267.4 611.0,267.3 611.5,267.5 612.0,267.7 612.5,267.3 613.0,267.6 613.5,268.2 614.0,268.1 614.5,268.1 615.0,267.9 615.5,268.6 616.0,268.4 616.5,268.6 617.0,268.5 617.5,268.5 618.0,269.1 618.5,268.7 619.0,269.4 619.5,269.4 620.0,270.4 620.5,270.9 621.0,271.3 621.5,271.6 622.0,271.6 622.5,271.7 623.0,272.7 623.5,273.9 624.0,274.6 624.5,275.8 625.0,276.5 625.5,277.3 626.0,277.8 626.5,277.4 627.0,276.0 627.5,274.6 628.0,272.9 628.5,271.0 629.0,269.2 629.5,267.9 630.0,268.0 630.5,267.3 631.0,266.8 631.5,265.3 632.0,263.9 632.5,261.8 633.0,259.7 633.5,258.2 634.0,256.4 634.5,254.8 635.0,253.3 635.5,252.8 636.0,252.2 636.5,251.8 637.0,251.6 637.5,250.9 638.0,250.1 638.5,249.3 639.0,248.6 639.5,247.2 640.0,246.3 640.5,245.3 641.0,244.4 641.5,243.5 642.0,243.1 642.5,242.2 643.0,241.6 643.5,240.5 644.0,240.3 644.5,240.2 645.0,240.4 645.5,240.5 646.0,241.0 646.5,242.1 647.0,242.3 647.5,242.4 648.0,242.6 648.5,243.0 649.0,244.2 649.5,245.2 650.0,246.4 650.5,247.5 651.0,248.1 651.5,249.2 652.0,249.9 652.5,251.1 653.0,250.4 653.5,249.3 654.0,248.1 654.5,246.4 655.0,246.2 655.5,245.6 656.0,244.5 656.5,242.8 657.0,241.9 657.5,240.4 658.0,238.7 658.5,237.5 659.0,236.8 659.5,236.5 660.0,236.4 660.5,236.4 661.0,236.7 661.5,236.9 662.0,237.2 662.5,237.5 663.0,237.9 663.5,238.2 664.0,238.5 664.5,238.7 665.0,238.7 665.5,238.6 666.0,238.8 666.5,239.0 667.0,239.3 667.5,239.3 668.0,239.6 668.5,239.8 669.0,239.9 669.5,240.2 670.0,240.1 670.5,240.2 671.0,240.1 671.5,239.7 672.0,239.1 672.5,238.1 673.0,237.0 673.5,235.7 674.0,234.4 674.5,233.3 675.0,232.4 675.5,231.7 676.0,231.5 676.5,231.2 677.0,230.9 677.5,230.1 678.0,229.4 678.5,228.7 679.0,227.9 679.5,227.2 680.0,226.7 680.5,226.3 681.0,226.2 681.5,226.4 682.0,226.8 682.5,227.5 683.0,228.2 683.5,228.9 684.0,229.5 684.5,230.0 685.0,230.1 685.5,230.4 686.0,231.2 686.5,232.3 687.0,233.2 687.5,234.4 688.0,235.4 688.5,236.3 689.0,236.4 689.5,235.9 690.0,234.6 690.5,233.2 691.0,231.5 691.5,230.4 692.0,229.9 692.5,229.4 693.0,228.2 693.5,226.6 694.0,224.8 694.5,223.5 695.0,223.0 695.5,222.8 696.0,222.4 696.5,221.8 697.0,221.3 697.5,220.6 698.0,220.5 698.5,220.5 699.0,220.8 699.5,220.7 700.0,221.0 700.5,221.2 701.0,221.2 701.5,221.4 702.0,221.5 702.5,221.6 703.0,221.6 703.5,222.0 704.0,222.3 704.5,222.6 705.0,223.1 705.5,223.6 706.0,224.0 706.5,224.5 707.0,224.8 707.5,225.2 708.0,225.6 708.5,225.7 709.0,225.8 709.5,225.8 710.0,226.0 710.5,226.3 711.0,226.6 711.5,227.0 712.0,227.4 712.5,227.9 713.0,228.4 713.5,228.8 714.0,229.3 714.5,230.0 715.0,230.3 715.5,230.8 716.0,231.0 716.5,231.2 717.0,231.5 717.5,231.6" fill="none" stroke="#5f4fc6" stroke-width="1.25" clip-path="url(#cf)"/>
<path d="M534.0,282.6 534.5,282.5 535.0,282.6 535.5,282.6 536.0,282.6 536.5,282.5 537.0,282.6 537.5,282.6 538.0,282.3 538.5,282.4 539.0,282.4 539.5,282.2 540.0,282.3 540.5,282.3 541.0,282.2 541.5,282.2 542.0,282.2 542.5,282.1 543.0,282.2 543.5,282.1 544.0,282.1 544.5,282.0 545.0,282.0 545.5,282.1 546.0,282.0 546.5,282.1 547.0,282.1 547.5,282.0 548.0,282.0 548.5,281.9 549.0,281.8 549.5,281.8 550.0,281.9 550.5,281.8 551.0,281.7 551.5,281.6 552.0,281.7 552.5,281.7 553.0,281.5 553.5,281.4 554.0,281.4 554.5,281.5 555.0,281.3 555.5,281.4 556.0,281.3 556.5,281.2 557.0,281.3 557.5,281.0 558.0,281.1 558.5,281.0 559.0,281.0 559.5,281.2 560.0,281.0 560.5,281.2 561.0,281.0 561.5,281.1 562.0,281.0 562.5,280.9 563.0,280.9 563.5,280.9 564.0,280.9 564.5,280.8 565.0,280.9 565.5,280.7 566.0,280.8 566.5,280.7 567.0,280.8 567.5,280.7 568.0,280.5 568.5,280.6 569.0,280.5 569.5,280.4 570.0,280.4 570.5,280.4 571.0,280.3 571.5,280.3 572.0,280.2 572.5,280.1 573.0,280.0 573.5,280.0 574.0,280.1 574.5,279.8 575.0,279.9 575.5,279.9 576.0,279.8 576.5,279.7 577.0,279.7 577.5,279.8 578.0,279.8 578.5,279.7 579.0,279.8 579.5,279.7 580.0,279.5 580.5,279.6 581.0,279.7 581.5,279.7 582.0,279.6 582.5,279.4 583.0,279.5 583.5,279.5 584.0,279.3 584.5,279.2 585.0,279.1 585.5,279.1 586.0,279.1 586.5,279.0 587.0,278.8 587.5,278.7 588.0,278.6 588.5,278.5 589.0,278.4 589.5,278.4 590.0,278.3 590.5,278.3 591.0,278.2 591.5,278.1 592.0,277.9 592.5,277.8 593.0,277.6 593.5,277.6 594.0,277.6 594.5,277.4 595.0,277.3 595.5,277.2 596.0,277.2 596.5,277.2 597.0,277.1 597.5,277.0 598.0,277.0 598.5,276.9 599.0,277.0 599.5,277.0 600.0,276.8 600.5,276.8 601.0,277.1 601.5,276.6 602.0,277.0 602.5,276.9 603.0,276.6 603.5,276.5 604.0,276.2 604.5,275.9 605.0,275.9 605.5,275.5 606.0,275.4 606.5,275.7 607.0,275.3 607.5,275.1 608.0,275.5 608.5,275.3 609.0,275.1 609.5,275.1 610.0,274.7 610.5,275.4 611.0,275.0 611.5,275.0 612.0,275.1 612.5,275.6 613.0,275.6 613.5,275.7 614.0,275.8 614.5,276.4 615.0,276.5 615.5,276.3 616.0,276.1 616.5,276.9 617.0,276.5 617.5,276.9 618.0,276.4 618.5,277.0 619.0,277.2 619.5,277.9 620.0,278.0 620.5,278.9 621.0,279.6 621.5,279.5 622.0,279.4 622.5,280.3 623.0,280.8 623.5,281.2 624.0,282.5 624.5,283.5 625.0,284.6 625.5,285.5 626.0,285.6 626.5,285.1 627.0,284.0 627.5,282.7 628.0,280.4 628.5,278.9 629.0,277.5 629.5,276.4 630.0,275.9 630.5,275.9 631.0,274.6 631.5,273.2 632.0,272.1 632.5,270.3 633.0,268.2 633.5,266.4 634.0,264.3 634.5,262.7 635.0,261.3 635.5,260.5 636.0,260.2 636.5,260.0 637.0,259.5 637.5,259.0 638.0,257.9 638.5,257.0 639.0,256.4 639.5,255.2 640.0,254.4 640.5,253.2 641.0,252.0 641.5,251.5 642.0,250.7 642.5,250.0 643.0,249.3 643.5,248.9 644.0,248.0 644.5,248.0 645.0,247.9 645.5,248.1 646.0,249.0 646.5,249.0 647.0,249.5 647.5,249.9 648.0,249.9 648.5,250.1 649.0,251.0 649.5,252.5 650.0,253.5 650.5,254.9 651.0,255.1 651.5,256.0 652.0,257.1 652.5,257.9 653.0,258.0 653.5,257.2 654.0,255.7 654.5,254.2 655.0,253.6 655.5,252.6 656.0,251.9 656.5,250.0 657.0,248.9 657.5,247.8 658.0,245.9 658.5,244.8 659.0,244.0 659.5,243.7 660.0,243.6 660.5,243.7 661.0,243.9 661.5,244.2 662.0,244.5 662.5,244.7 663.0,245.2 663.5,245.3 664.0,245.6 664.5,245.6 665.0,245.8 665.5,245.8 666.0,246.0 666.5,246.2 667.0,246.3 667.5,246.5 668.0,246.7 668.5,246.9 669.0,246.8 669.5,246.9 670.0,247.0 670.5,246.8 671.0,246.5 671.5,246.2 672.0,245.4 672.5,244.5 673.0,243.5 673.5,242.4 674.0,241.1 674.5,240.1 675.0,239.1 675.5,238.5 676.0,238.0 676.5,237.9 677.0,237.3 677.5,236.8 678.0,236.2 678.5,235.5 679.0,235.0 679.5,234.4 680.0,233.9 680.5,233.6 681.0,233.5 681.5,233.8 682.0,234.4 682.5,234.9 683.0,235.5 683.5,236.0 684.0,236.7 684.5,237.2 685.0,237.3 685.5,237.9 686.0,238.5 686.5,239.6 687.0,240.7 687.5,241.7 688.0,242.7 688.5,243.5 689.0,243.8 689.5,243.2 690.0,241.9 690.5,240.3 691.0,238.8 691.5,237.6 692.0,237.2 692.5,236.5 693.0,235.3 693.5,233.5 694.0,232.0 694.5,230.5 695.0,230.2 695.5,229.8 696.0,229.5 696.5,228.9 697.0,228.2 697.5,227.7 698.0,227.5 698.5,227.5 699.0,227.7 699.5,227.7 700.0,227.9 700.5,228.1 701.0,228.3 701.5,228.4 702.0,228.5 702.5,228.6 703.0,228.6 703.5,228.9 704.0,229.2 704.5,229.6 705.0,230.1 705.5,230.6 706.0,230.8 706.5,231.3 707.0,231.8 707.5,232.0 708.0,232.3 708.5,232.6 709.0,232.6 709.5,232.7 710.0,232.8 710.5,233.0 711.0,233.4 711.5,233.6 712.0,234.2 712.5,234.6 713.0,235.2 713.5,235.7 714.0,236.2 714.5,236.5 715.0,237.0 715.5,237.4 716.0,237.7 716.5,238.1 717.0,238.1 717.5,238.2" fill="none" stroke="#4379d6" stroke-width="1.25" clip-path="url(#cf)"/>
<path d="M534.0,289.8 534.5,289.9 535.0,289.8 535.5,289.8 536.0,289.9 536.5,289.7 537.0,289.9 537.5,289.8 538.0,289.6 538.5,289.6 539.0,289.7 539.5,289.7 540.0,289.6 540.5,289.6 541.0,289.6 541.5,289.6 542.0,289.5 542.5,289.4 543.0,289.5 543.5,289.4 544.0,289.4 544.5,289.5 545.0,289.4 545.5,289.4 546.0,289.4 546.5,289.4 547.0,289.3 547.5,289.4 548.0,289.4 548.5,289.1 549.0,289.1 549.5,289.2 550.0,289.1 550.5,289.2 551.0,288.9 551.5,288.9 552.0,289.0 552.5,288.9 553.0,288.8 553.5,288.7 554.0,288.7 554.5,288.8 555.0,288.7 555.5,288.6 556.0,288.5 556.5,288.5 557.0,288.5 557.5,288.5 558.0,288.5 558.5,288.4 559.0,288.4 559.5,288.5 560.0,288.4 560.5,288.3 561.0,288.5 561.5,288.3 562.0,288.4 562.5,288.3 563.0,288.3 563.5,288.3 564.0,288.2 564.5,288.2 565.0,288.1 565.5,288.1 566.0,288.0 566.5,287.9 567.0,288.0 567.5,288.0 568.0,287.9 568.5,287.8 569.0,287.7 569.5,287.8 570.0,287.7 570.5,287.7 571.0,287.7 571.5,287.5 572.0,287.6 572.5,287.4 573.0,287.4 573.5,287.2 574.0,287.3 574.5,287.3 575.0,287.1 575.5,287.1 576.0,287.1 576.5,287.2 577.0,287.0 577.5,287.0 578.0,286.9 578.5,287.0 579.0,287.0 579.5,287.0 580.0,287.1 580.5,287.0 581.0,287.1 581.5,287.0 582.0,286.8 582.5,286.9 583.0,286.7 583.5,286.9 584.0,286.7 584.5,286.6 585.0,286.5 585.5,286.5 586.0,286.4 586.5,286.3 587.0,286.1 587.5,286.1 588.0,286.1 588.5,286.0 589.0,285.8 589.5,285.7 590.0,285.8 590.5,285.5 591.0,285.4 591.5,285.3 592.0,285.3 592.5,285.1 593.0,285.0 593.5,285.1 594.0,284.8 594.5,284.8 595.0,284.7 595.5,284.8 596.0,284.7 596.5,284.5 597.0,284.4 597.5,284.4 598.0,284.5 598.5,284.4 599.0,284.4 599.5,284.4 600.0,284.4 600.5,284.3 601.0,284.2 601.5,284.2 602.0,283.9 602.5,284.0 603.0,284.2 603.5,283.7 604.0,283.6 604.5,283.8 605.0,283.7 605.5,283.1 606.0,283.4 606.5,283.2 607.0,283.4 607.5,282.6 608.0,282.7 608.5,283.0 609.0,282.9 609.5,283.0 610.0,282.6 610.5,283.1 611.0,282.7 611.5,283.2 612.0,282.7 612.5,283.2 613.0,283.2 613.5,283.5 614.0,283.9 614.5,283.5 615.0,284.1 615.5,284.2 616.0,284.5 616.5,284.7 617.0,284.4 617.5,284.3 618.0,284.4 618.5,284.8 619.0,284.9 619.5,285.4 620.0,285.8 620.5,286.4 621.0,287.3 621.5,287.6 622.0,287.6 622.5,287.9 623.0,288.2 623.5,289.8 624.0,290.2 624.5,291.3 625.0,292.3 625.5,293.1 626.0,293.6 626.5,292.7 627.0,291.8 627.5,290.3 628.0,288.2 628.5,287.0 629.0,285.2 629.5,284.6 630.0,284.2 630.5,283.8 631.0,282.7 631.5,281.2 632.0,279.6 632.5,277.7 633.0,276.4 633.5,274.4 634.0,272.5 634.5,270.6 635.0,269.3 635.5,269.0 636.0,268.6 636.5,268.4 637.0,268.1 637.5,267.0 638.0,266.3 638.5,265.2 639.0,264.3 639.5,263.0 640.0,262.1 640.5,261.3 641.0,260.1 641.5,259.2 642.0,259.0 642.5,258.1 643.0,257.3 643.5,256.5 644.0,256.4 644.5,255.7 645.0,256.0 645.5,256.0 646.0,256.8 646.5,256.8 647.0,257.3 647.5,257.6 648.0,257.8 648.5,258.0 649.0,258.6 649.5,259.2 650.0,260.6 650.5,261.7 651.0,262.5 651.5,263.0 652.0,264.4 652.5,264.9 653.0,264.8 653.5,264.9 654.0,263.8 654.5,262.2 655.0,261.6 655.5,260.4 656.0,258.7 656.5,257.9 657.0,256.5 657.5,255.4 658.0,253.4 658.5,252.3 659.0,251.3 659.5,251.0 660.0,251.0 660.5,251.0 661.0,251.2 661.5,251.5 662.0,251.9 662.5,252.2 663.0,252.4 663.5,252.8 664.0,252.8 664.5,253.0 665.0,253.0 665.5,253.3 666.0,253.4 666.5,253.6 667.0,253.7 667.5,253.8 668.0,254.1 668.5,254.3 669.0,254.2 669.5,254.1 670.0,253.8 670.5,253.7 671.0,253.3 671.5,252.7 672.0,252.1 672.5,251.1 673.0,250.3 673.5,249.3 674.0,248.1 674.5,247.0 675.0,246.2 675.5,245.6 676.0,245.2 676.5,244.9 677.0,244.3 677.5,243.8 678.0,243.3 678.5,242.9 679.0,242.2 679.5,241.9 680.0,241.5 680.5,241.4 681.0,241.4 681.5,241.6 682.0,242.0 682.5,242.6 683.0,243.1 683.5,243.8 684.0,244.2 684.5,244.9 685.0,245.1 685.5,245.7 686.0,246.3 686.5,247.2 687.0,248.4 687.5,249.5 688.0,250.5 688.5,250.9 689.0,251.3 689.5,250.9 690.0,249.5 690.5,248.0 691.0,246.3 691.5,245.2 692.0,244.7 692.5,244.2 693.0,242.8 693.5,241.0 694.0,239.4 694.5,238.2 695.0,237.6 695.5,237.4 696.0,236.9 696.5,236.3 697.0,235.6 697.5,235.2 698.0,234.9 698.5,235.0 699.0,235.1 699.5,235.3 700.0,235.6 700.5,235.5 701.0,235.8 701.5,236.0 702.0,236.0 702.5,235.9 703.0,236.1 703.5,236.4 704.0,236.6 704.5,237.0 705.0,237.5 705.5,238.0 706.0,238.4 706.5,238.7 707.0,239.1 707.5,239.3 708.0,239.7 708.5,239.7 709.0,239.9 709.5,240.0 710.0,240.1 710.5,240.3 711.0,240.6 711.5,241.0 712.0,241.6 712.5,241.8 713.0,242.4 713.5,242.9 714.0,243.3 714.5,243.8 715.0,244.2 715.5,244.5 716.0,244.8 716.5,245.1 717.0,245.2 717.5,245.4" fill="none" stroke="#58c4e6" stroke-width="1.25" clip-path="url(#cf)"/>
<path d="M534.0,296.0 534.5,296.0 535.0,296.1 535.5,296.0 536.0,295.9 536.5,295.9 537.0,296.0 537.5,295.9 538.0,295.9 538.5,295.9 539.0,295.8 539.5,295.7 540.0,295.7 540.5,295.6 541.0,295.7 541.5,295.6 542.0,295.6 542.5,295.5 543.0,295.6 543.5,295.5 544.0,295.4 544.5,295.6 545.0,295.6 545.5,295.4 546.0,295.5 546.5,295.4 547.0,295.4 547.5,295.5 548.0,295.5 548.5,295.3 549.0,295.2 549.5,295.3 550.0,295.2 550.5,295.2 551.0,295.0 551.5,295.0 552.0,295.1 552.5,295.0 553.0,295.0 553.5,294.8 554.0,294.9 554.5,294.9 555.0,294.7 555.5,294.7 556.0,294.7 556.5,294.6 557.0,294.7 557.5,294.6 558.0,294.6 558.5,294.6 559.0,294.5 559.5,294.6 560.0,294.5 560.5,294.5 561.0,294.5 561.5,294.5 562.0,294.4 562.5,294.4 563.0,294.3 563.5,294.4 564.0,294.4 564.5,294.3 565.0,294.3 565.5,294.4 566.0,294.3 566.5,294.2 567.0,294.2 567.5,294.0 568.0,294.0 568.5,294.1 569.0,294.0 569.5,293.9 570.0,293.8 570.5,293.9 571.0,293.8 571.5,293.8 572.0,293.6 572.5,293.7 573.0,293.6 573.5,293.4 574.0,293.6 574.5,293.5 575.0,293.3 575.5,293.3 576.0,293.3 576.5,293.3 577.0,293.2 577.5,293.2 578.0,293.3 578.5,293.2 579.0,293.1 579.5,293.2 580.0,293.2 580.5,293.1 581.0,293.1 581.5,293.1 582.0,293.0 582.5,293.1 583.0,293.1 583.5,292.9 584.0,292.9 584.5,292.8 585.0,292.7 585.5,292.8 586.0,292.6 586.5,292.5 587.0,292.4 587.5,292.5 588.0,292.4 588.5,292.3 589.0,292.2 589.5,292.1 590.0,292.1 590.5,291.9 591.0,291.8 591.5,291.8 592.0,291.6 592.5,291.6 593.0,291.4 593.5,291.3 594.0,291.4 594.5,291.2 595.0,291.3 595.5,291.1 596.0,291.0 596.5,291.0 597.0,290.8 597.5,290.9 598.0,290.8 598.5,290.9 599.0,290.8 599.5,290.7 600.0,290.7 600.5,290.9 601.0,290.5 601.5,290.7 602.0,290.4 602.5,290.8 603.0,290.8 603.5,290.3 604.0,290.4 604.5,290.2 605.0,290.4 605.5,290.3 606.0,289.6 606.5,289.8 607.0,289.7 607.5,289.6 608.0,289.6 608.5,289.3 609.0,289.2 609.5,289.5 610.0,289.5 610.5,289.4 611.0,289.3 611.5,289.6 612.0,289.9 612.5,289.8 613.0,289.9 613.5,289.9 614.0,290.6 614.5,290.4 615.0,291.1 615.5,290.7 616.0,290.8 616.5,291.4 617.0,291.3 617.5,291.6 618.0,291.2 618.5,291.8 619.0,292.0 619.5,292.4 620.0,292.8 620.5,293.3 621.0,293.9 621.5,294.1 622.0,294.7 622.5,294.9 623.0,295.5 623.5,296.0 624.0,297.0 624.5,297.8 625.0,299.0 625.5,299.3 626.0,299.6 626.5,299.7 627.0,298.5 627.5,296.9 628.0,295.0 628.5,293.7 629.0,292.3 629.5,291.0 630.0,291.0 630.5,290.5 631.0,289.6 631.5,288.5 632.0,286.8 632.5,285.2 633.0,283.3 633.5,281.7 634.0,279.9 634.5,278.2 635.0,277.3 635.5,276.5 636.0,276.0 636.5,275.7 637.0,275.2 637.5,274.3 638.0,273.5 638.5,272.4 639.0,271.7 639.5,270.6 640.0,269.6 640.5,268.8 641.0,267.5 641.5,267.4 642.0,266.3 642.5,266.0 643.0,265.0 643.5,264.4 644.0,264.0 644.5,263.8 645.0,263.6 645.5,264.1 646.0,264.3 646.5,264.3 647.0,265.0 647.5,265.2 648.0,265.2 648.5,264.8 649.0,265.5 649.5,266.4 650.0,267.1 650.5,267.9 651.0,268.9 651.5,270.2 652.0,271.0 652.5,271.7 653.0,271.9 653.5,272.0 654.0,270.8 654.5,269.7 655.0,268.4 655.5,267.6 656.0,266.2 656.5,264.9 657.0,263.3 657.5,262.3 658.0,261.2 658.5,259.7 659.0,258.9 659.5,258.2 660.0,258.4 660.5,258.5 661.0,258.7 661.5,258.8 662.0,259.1 662.5,259.5 663.0,259.7 663.5,260.0 664.0,260.2 664.5,260.2 665.0,260.4 665.5,260.6 666.0,260.7 666.5,260.7 667.0,261.1 667.5,261.1 668.0,261.3 668.5,261.5 669.0,261.3 669.5,261.1 670.0,260.7 670.5,260.3 671.0,259.9 671.5,259.4 672.0,258.6 672.5,257.8 673.0,256.9 673.5,256.1 674.0,255.3 674.5,254.3 675.0,253.4 675.5,252.7 676.0,252.3 676.5,252.0 677.0,251.6 677.5,251.0 678.0,250.7 678.5,250.1 679.0,249.9 679.5,249.6 680.0,249.3 680.5,249.3 681.0,249.2 681.5,249.6 682.0,250.0 682.5,250.5 683.0,251.0 683.5,251.5 684.0,252.2 684.5,252.6 685.0,253.0 685.5,253.4 686.0,254.1 686.5,255.1 687.0,256.0 687.5,257.0 688.0,257.9 688.5,258.6 689.0,258.7 689.5,258.3 690.0,257.1 690.5,255.5 691.0,253.9 691.5,252.7 692.0,252.2 692.5,251.8 693.0,250.5 693.5,248.9 694.0,247.3 694.5,245.9 695.0,245.4 695.5,245.1 696.0,244.7 696.5,244.1 697.0,243.7 697.5,243.2 698.0,242.9 698.5,243.0 699.0,243.0 699.5,243.3 700.0,243.3 700.5,243.6 701.0,243.7 701.5,243.8 702.0,243.7 702.5,243.8 703.0,244.0 703.5,244.3 704.0,244.4 704.5,244.8 705.0,245.1 705.5,245.5 706.0,246.0 706.5,246.5 707.0,246.6 707.5,247.1 708.0,247.3 708.5,247.3 709.0,247.3 709.5,247.6 710.0,247.6 710.5,248.0 711.0,248.1 711.5,248.5 712.0,248.8 712.5,249.3 713.0,249.8 713.5,250.2 714.0,250.5 714.5,251.0 715.0,251.4 715.5,251.8 716.0,252.1 716.5,252.3 717.0,252.5 717.5,252.5" fill="none" stroke="#62ba3c" stroke-width="1.25" clip-path="url(#cf)"/>
<path d="M534.0,303.2 534.5,303.4 535.0,303.2 535.5,303.3 536.0,303.2 536.5,303.3 537.0,303.2 537.5,303.1 538.0,303.3 538.5,303.2 539.0,303.1 539.5,303.1 540.0,303.1 540.5,303.0 541.0,303.0 541.5,303.0 542.0,303.0 542.5,302.8 543.0,302.7 543.5,302.8 544.0,302.7 544.5,302.9 545.0,302.9 545.5,302.9 546.0,302.9 546.5,302.8 547.0,302.9 547.5,302.8 548.0,302.7 548.5,302.7 549.0,302.7 549.5,302.5 550.0,302.5 550.5,302.4 551.0,302.3 551.5,302.4 552.0,302.5 552.5,302.4 553.0,302.3 553.5,302.3 554.0,302.1 554.5,302.1 555.0,301.9 555.5,301.9 556.0,302.0 556.5,301.9 557.0,302.0 557.5,301.7 558.0,301.9 558.5,301.9 559.0,301.8 559.5,301.8 560.0,301.8 560.5,301.7 561.0,301.8 561.5,301.9 562.0,301.8 562.5,301.6 563.0,301.7 563.5,301.6 564.0,301.7 564.5,301.6 565.0,301.7 565.5,301.7 566.0,301.5 566.5,301.4 567.0,301.4 567.5,301.5 568.0,301.3 568.5,301.2 569.0,301.2 569.5,301.3 570.0,301.1 570.5,301.1 571.0,301.1 571.5,301.0 572.0,301.0 572.5,300.8 573.0,300.9 573.5,300.7 574.0,300.8 574.5,300.7 575.0,300.6 575.5,300.8 576.0,300.7 576.5,300.6 577.0,300.5 577.5,300.6 578.0,300.4 578.5,300.6 579.0,300.5 579.5,300.4 580.0,300.5 580.5,300.6 581.0,300.6 581.5,300.5 582.0,300.5 582.5,300.4 583.0,300.4 583.5,300.3 584.0,300.4 584.5,300.3 585.0,300.1 585.5,300.1 586.0,300.1 586.5,299.9 587.0,299.9 587.5,299.8 588.0,299.6 588.5,299.6 589.0,299.5 589.5,299.4 590.0,299.4 590.5,299.2 591.0,299.1 591.5,299.1 592.0,299.1 592.5,298.9 593.0,298.8 593.5,298.8 594.0,298.8 594.5,298.8 595.0,298.5 595.5,298.6 596.0,298.6 596.5,298.5 597.0,298.4 597.5,298.4 598.0,298.3 598.5,298.2 599.0,298.2 599.5,298.2 600.0,298.4 600.5,298.5 601.0,297.9 601.5,298.0 602.0,297.8 602.5,298.1 603.0,297.8 603.5,297.7 604.0,298.2 604.5,297.6 605.0,297.5 605.5,297.9 606.0,297.6 606.5,297.1 607.0,297.4 607.5,297.6 608.0,297.2 608.5,297.0 609.0,297.2 609.5,297.4 610.0,296.8 610.5,296.8 611.0,297.4 611.5,297.3 612.0,297.4 612.5,297.3 613.0,298.0 613.5,298.0 614.0,298.3 614.5,298.3 615.0,298.4 615.5,298.9 616.0,298.6 616.5,299.3 617.0,299.0 617.5,299.1 618.0,299.6 618.5,299.6 619.0,300.0 619.5,300.2 620.0,300.7 620.5,301.5 621.0,301.6 621.5,302.0 622.0,302.6 622.5,302.8 623.0,303.4 623.5,304.1 624.0,305.2 624.5,306.1 625.0,306.7 625.5,307.5 626.0,307.4 626.5,307.3 627.0,306.2 627.5,304.5 628.0,303.3 628.5,301.8 629.0,299.9 629.5,299.0 630.0,298.9 630.5,298.3 631.0,297.9 631.5,296.5 632.0,295.1 632.5,293.3 633.0,291.4 633.5,289.5 634.0,287.8 634.5,286.7 635.0,285.4 635.5,284.1 636.0,284.2 636.5,283.6 637.0,283.4 637.5,282.7 638.0,281.7 638.5,280.4 639.0,279.4 639.5,278.3 640.0,277.1 640.5,276.7 641.0,275.9 641.5,275.2 642.0,274.2 642.5,274.3 643.0,273.1 643.5,272.7 644.0,272.4 644.5,272.1 645.0,271.6 645.5,271.6 646.0,272.0 646.5,272.7 647.0,272.3 647.5,272.6 648.0,272.7 648.5,272.5 649.0,272.8 649.5,273.7 650.0,274.3 650.5,275.4 651.0,276.4 651.5,277.6 652.0,278.6 652.5,279.3 653.0,279.3 653.5,279.3 654.0,278.8 654.5,277.7 655.0,276.6 655.5,275.0 656.0,273.9 656.5,272.5 657.0,270.7 657.5,270.0 658.0,268.9 658.5,267.6 659.0,266.9 659.5,265.8 660.0,265.9 660.5,266.0 661.0,266.2 661.5,266.4 662.0,266.8 662.5,267.0 663.0,267.2 663.5,267.4 664.0,267.5 664.5,267.7 665.0,267.7 665.5,267.9 666.0,268.2 666.5,268.2 667.0,268.3 667.5,268.7 668.0,268.8 668.5,268.9 669.0,268.7 669.5,268.4 670.0,267.8 670.5,267.2 671.0,266.7 671.5,266.1 672.0,265.5 672.5,264.6 673.0,264.0 673.5,263.2 674.0,262.4 674.5,261.4 675.0,260.6 675.5,259.8 676.0,259.5 676.5,259.1 677.0,258.7 677.5,258.3 678.0,257.8 678.5,257.5 679.0,257.4 679.5,257.0 680.0,257.0 680.5,257.0 681.0,257.1 681.5,257.7 682.0,258.0 682.5,258.5 683.0,258.8 683.5,259.3 684.0,259.9 684.5,260.4 685.0,260.7 685.5,261.2 686.0,262.1 686.5,263.1 687.0,263.9 687.5,264.8 688.0,265.8 688.5,266.3 689.0,266.5 689.5,265.9 690.0,264.7 690.5,263.2 691.0,261.5 691.5,260.5 692.0,259.9 692.5,259.5 693.0,258.0 693.5,256.5 694.0,254.9 694.5,253.6 695.0,253.1 695.5,252.8 696.0,252.4 696.5,251.9 697.0,251.1 697.5,250.8 698.0,250.5 698.5,250.7 699.0,250.7 699.5,250.8 700.0,251.0 700.5,251.1 701.0,251.2 701.5,251.2 702.0,251.2 702.5,251.4 703.0,251.5 703.5,251.7 704.0,252.0 704.5,252.4 705.0,252.6 705.5,253.0 706.0,253.4 706.5,253.7 707.0,254.3 707.5,254.5 708.0,254.6 708.5,254.8 709.0,254.9 709.5,255.0 710.0,255.0 710.5,255.4 711.0,255.4 711.5,255.8 712.0,256.1 712.5,256.6 713.0,257.1 713.5,257.6 714.0,257.9 714.5,258.2 715.0,258.6 715.5,259.0 716.0,259.3 716.5,259.4 717.0,259.7 717.5,259.6" fill="none" stroke="#b4d636" stroke-width="1.25" clip-path="url(#cf)"/>
<path d="M534.0,312.2 534.5,312.1 535.0,312.1 535.5,312.1 536.0,312.0 536.5,312.0 537.0,312.0 537.5,312.0 538.0,312.0 538.5,311.9 539.0,312.0 539.5,311.8 540.0,311.9 540.5,311.9 541.0,311.8 541.5,311.6 542.0,311.7 542.5,311.7 543.0,311.7 543.5,311.7 544.0,311.5 544.5,311.6 545.0,311.5 545.5,311.7 546.0,311.7 546.5,311.6 547.0,311.6 547.5,311.4 548.0,311.5 548.5,311.4 549.0,311.5 549.5,311.5 550.0,311.3 550.5,311.3 551.0,311.1 551.5,311.1 552.0,311.0 552.5,311.1 553.0,311.1 553.5,311.1 554.0,310.9 554.5,310.9 555.0,310.9 555.5,310.7 556.0,310.8 556.5,310.7 557.0,310.7 557.5,310.7 558.0,310.6 558.5,310.6 559.0,310.6 559.5,310.7 560.0,310.6 560.5,310.6 561.0,310.6 561.5,310.6 562.0,310.6 562.5,310.4 563.0,310.4 563.5,310.4 564.0,310.5 564.5,310.4 565.0,310.3 565.5,310.5 566.0,310.2 566.5,310.3 567.0,310.3 567.5,310.2 568.0,310.2 568.5,310.0 569.0,310.1 569.5,310.0 570.0,310.0 570.5,309.9 571.0,309.8 571.5,309.9 572.0,309.8 572.5,309.8 573.0,309.8 573.5,309.7 574.0,309.6 574.5,309.6 575.0,309.6 575.5,309.4 576.0,309.6 576.5,309.5 577.0,309.4 577.5,309.5 578.0,309.4 578.5,309.3 579.0,309.5 579.5,309.4 580.0,309.3 580.5,309.5 581.0,309.3 581.5,309.3 582.0,309.3 582.5,309.2 583.0,309.4 583.5,309.3 584.0,309.1 584.5,309.1 585.0,309.1 585.5,308.9 586.0,309.0 586.5,308.8 587.0,308.7 587.5,308.8 588.0,308.6 588.5,308.5 589.0,308.4 589.5,308.4 590.0,308.3 590.5,308.1 591.0,308.3 591.5,308.1 592.0,307.9 592.5,307.9 593.0,308.0 593.5,307.7 594.0,307.8 594.5,307.7 595.0,307.6 595.5,307.5 596.0,307.6 596.5,307.4 597.0,307.4 597.5,307.4 598.0,307.4 598.5,307.3 599.0,307.3 599.5,307.4 600.0,307.3 600.5,307.0 601.0,307.0 601.5,307.1 602.0,307.3 602.5,306.9 603.0,306.9 603.5,307.0 604.0,306.8 604.5,306.7 605.0,307.0 605.5,306.7 606.0,306.6 606.5,306.8 607.0,306.3 607.5,306.6 608.0,306.3 608.5,306.7 609.0,306.7 609.5,306.4 610.0,306.1 610.5,306.2 611.0,306.5 611.5,306.6 612.0,306.5 612.5,307.1 613.0,307.3 613.5,307.5 614.0,307.3 614.5,307.6 615.0,307.8 615.5,308.0 616.0,308.4 616.5,308.3 617.0,308.7 617.5,308.7 618.0,308.9 618.5,308.5 619.0,309.2 619.5,309.6 620.0,310.4 620.5,310.8 621.0,311.3 621.5,311.9 622.0,311.8 622.5,311.8 623.0,312.5 623.5,313.6 624.0,314.3 624.5,314.9 625.0,316.3 625.5,316.4 626.0,317.0 626.5,316.6 627.0,315.7 627.5,314.3 628.0,312.3 628.5,311.0 629.0,309.4 629.5,308.8 630.0,308.5 630.5,307.8 631.0,307.0 631.5,306.4 632.0,304.3 632.5,302.7 633.0,301.4 633.5,299.1 634.0,297.7 634.5,295.8 635.0,295.1 635.5,294.1 636.0,293.9 636.5,293.7 637.0,292.9 637.5,292.4 638.0,291.6 638.5,290.4 639.0,288.6 639.5,287.7 640.0,286.6 640.5,285.9 641.0,285.7 641.5,284.7 642.0,284.4 642.5,284.0 643.0,282.9 643.5,282.3 644.0,282.1 644.5,281.5 645.0,281.6 645.5,281.5 646.0,281.4 646.5,282.2 647.0,281.6 647.5,282.0 648.0,281.5 648.5,282.0 649.0,281.7 649.5,282.2 650.0,282.8 650.5,283.7 651.0,284.9 651.5,286.4 652.0,287.4 652.5,287.6 653.0,288.7 653.5,288.6 654.0,288.0 654.5,287.2 655.0,285.8 655.5,284.2 656.0,282.5 656.5,281.4 657.0,280.0 657.5,279.7 658.0,278.4 658.5,277.3 659.0,275.9 659.5,275.3 660.0,275.0 660.5,275.1 661.0,275.4 661.5,275.7 662.0,275.9 662.5,276.1 663.0,276.4 663.5,276.5 664.0,276.7 664.5,276.8 665.0,276.9 665.5,277.0 666.0,277.3 666.5,277.5 667.0,277.5 667.5,277.8 668.0,277.8 668.5,277.8 669.0,277.5 669.5,277.2 670.0,276.7 670.5,276.0 671.0,275.3 671.5,274.5 672.0,273.8 672.5,273.1 673.0,272.5 673.5,271.9 674.0,271.1 674.5,270.2 675.0,269.5 675.5,268.8 676.0,268.3 676.5,267.9 677.0,267.5 677.5,267.1 678.0,266.7 678.5,266.5 679.0,266.6 679.5,266.5 680.0,266.3 680.5,266.5 681.0,266.8 681.5,267.1 682.0,267.8 682.5,268.1 683.0,268.4 683.5,268.7 684.0,269.2 684.5,269.9 685.0,270.4 685.5,271.0 686.0,271.7 686.5,272.6 687.0,273.5 687.5,274.4 688.0,275.2 688.5,275.6 689.0,275.7 689.5,275.4 690.0,274.2 690.5,272.6 691.0,270.9 691.5,269.8 692.0,269.3 692.5,268.8 693.0,267.4 693.5,265.8 694.0,264.1 694.5,262.9 695.0,262.5 695.5,262.3 696.0,261.7 696.5,261.3 697.0,260.5 697.5,260.1 698.0,260.0 698.5,259.9 699.0,260.1 699.5,260.2 700.0,260.2 700.5,260.4 701.0,260.6 701.5,260.7 702.0,260.6 702.5,260.7 703.0,260.9 703.5,261.0 704.0,261.3 704.5,261.7 705.0,261.9 705.5,262.3 706.0,262.6 706.5,263.0 707.0,263.4 707.5,263.7 708.0,263.9 708.5,264.0 709.0,264.1 709.5,264.0 710.0,264.3 710.5,264.3 711.0,264.7 711.5,265.0 712.0,265.2 712.5,265.7 713.0,266.0 713.5,266.6 714.0,266.9 714.5,267.3 715.0,267.6 715.5,267.9 716.0,268.1 716.5,268.4 717.0,268.4 717.5,268.5" fill="none" stroke="#eee23a" stroke-width="1.25" clip-path="url(#cf)"/>
<path d="M534.0,325.3 534.5,325.3 535.0,325.4 535.5,325.3 536.0,325.2 536.5,325.2 537.0,325.3 537.5,325.2 538.0,325.2 538.5,325.1 539.0,325.1 539.5,325.1 540.0,324.9 540.5,325.1 541.0,325.0 541.5,325.0 542.0,324.8 542.5,324.8 543.0,324.9 543.5,324.8 544.0,324.7 544.5,324.8 545.0,324.7 545.5,324.8 546.0,324.8 546.5,324.7 547.0,324.8 547.5,324.8 548.0,324.6 548.5,324.6 549.0,324.5 549.5,324.6 550.0,324.6 550.5,324.5 551.0,324.4 551.5,324.4 552.0,324.4 552.5,324.2 553.0,324.1 553.5,324.1 554.0,324.1 554.5,324.1 555.0,324.1 555.5,324.0 556.0,324.0 556.5,323.9 557.0,323.8 557.5,323.8 558.0,323.8 558.5,323.8 559.0,323.7 559.5,323.9 560.0,323.7 560.5,323.7 561.0,323.8 561.5,323.7 562.0,323.7 562.5,323.7 563.0,323.7 563.5,323.7 564.0,323.7 564.5,323.6 565.0,323.5 565.5,323.6 566.0,323.5 566.5,323.4 567.0,323.3 567.5,323.4 568.0,323.2 568.5,323.2 569.0,323.2 569.5,323.3 570.0,323.2 570.5,323.1 571.0,323.1 571.5,323.1 572.0,323.1 572.5,323.0 573.0,322.8 573.5,323.0 574.0,322.9 574.5,322.7 575.0,322.7 575.5,322.8 576.0,322.7 576.5,322.6 577.0,322.7 577.5,322.7 578.0,322.5 578.5,322.7 579.0,322.6 579.5,322.5 580.0,322.5 580.5,322.5 581.0,322.7 581.5,322.5 582.0,322.5 582.5,322.5 583.0,322.5 583.5,322.5 584.0,322.3 584.5,322.2 585.0,322.4 585.5,322.3 586.0,322.1 586.5,322.1 587.0,321.9 587.5,322.0 588.0,321.9 588.5,321.7 589.0,321.6 589.5,321.7 590.0,321.5 590.5,321.4 591.0,321.3 591.5,321.3 592.0,321.4 592.5,321.2 593.0,321.1 593.5,321.2 594.0,321.1 594.5,320.9 595.0,320.9 595.5,320.9 596.0,320.7 596.5,320.8 597.0,320.8 597.5,320.7 598.0,320.7 598.5,320.5 599.0,320.7 599.5,320.7 600.0,320.7 600.5,320.6 601.0,320.9 601.5,320.4 602.0,320.8 602.5,320.3 603.0,320.5 603.5,320.1 604.0,320.2 604.5,320.5 605.0,320.5 605.5,319.9 606.0,320.2 606.5,319.8 607.0,320.3 607.5,320.3 608.0,319.9 608.5,319.8 609.0,319.9 609.5,320.2 610.0,319.8 610.5,319.8 611.0,320.2 611.5,320.5 612.0,320.4 612.5,320.5 613.0,320.8 613.5,320.7 614.0,321.5 614.5,321.4 615.0,321.9 615.5,322.1 616.0,321.7 616.5,322.0 617.0,322.2 617.5,322.1 618.0,322.4 618.5,322.3 619.0,323.2 619.5,323.2 620.0,324.0 620.5,324.6 621.0,325.1 621.5,325.2 622.0,325.4 622.5,325.5 623.0,326.3 623.5,326.8 624.0,328.1 624.5,328.8 625.0,329.9 625.5,330.2 626.0,330.8 626.5,330.2 627.0,329.4 627.5,327.8 628.0,326.5 628.5,324.5 629.0,323.7 629.5,322.6 630.0,321.8 630.5,321.8 631.0,320.9 631.5,320.2 632.0,318.4 632.5,316.9 633.0,314.8 633.5,313.1 634.0,311.5 634.5,310.4 635.0,309.0 635.5,308.2 636.0,308.0 636.5,307.7 637.0,307.3 637.5,306.3 638.0,305.4 638.5,303.9 639.0,302.6 639.5,301.4 640.0,300.4 640.5,299.6 641.0,299.2 641.5,298.7 642.0,298.5 642.5,297.7 643.0,296.9 643.5,296.6 644.0,296.1 644.5,295.3 645.0,295.6 645.5,295.4 646.0,295.0 646.5,295.2 647.0,295.2 647.5,295.7 648.0,294.9 648.5,294.7 649.0,294.8 649.5,295.1 650.0,295.6 650.5,296.7 651.0,298.0 651.5,299.1 652.0,300.3 652.5,301.2 653.0,301.4 653.5,302.0 654.0,302.1 654.5,301.1 655.0,299.8 655.5,298.1 656.0,296.4 656.5,294.2 657.0,293.6 657.5,293.0 658.0,291.5 658.5,290.7 659.0,289.3 659.5,289.0 660.0,288.3 660.5,288.4 661.0,288.7 661.5,288.8 662.0,289.2 662.5,289.3 663.0,289.6 663.5,289.8 664.0,290.0 664.5,290.1 665.0,290.2 665.5,290.3 666.0,290.4 666.5,290.6 667.0,290.8 667.5,291.0 668.0,291.0 668.5,290.9 669.0,290.7 669.5,290.1 670.0,289.4 670.5,288.8 671.0,288.0 671.5,287.1 672.0,286.2 672.5,285.6 673.0,285.0 673.5,284.4 674.0,283.8 674.5,283.2 675.0,282.3 675.5,281.6 676.0,281.2 676.5,280.8 677.0,280.3 677.5,280.0 678.0,279.7 678.5,279.7 679.0,279.7 679.5,279.7 680.0,279.9 680.5,280.1 681.0,280.4 681.5,280.9 682.0,281.4 682.5,281.8 683.0,282.0 683.5,282.2 684.0,282.8 684.5,283.3 685.0,283.8 685.5,284.4 686.0,285.3 686.5,286.2 687.0,287.0 687.5,288.0 688.0,288.6 688.5,289.1 689.0,289.2 689.5,288.9 690.0,287.5 690.5,286.0 691.0,284.3 691.5,283.0 692.0,282.7 692.5,282.2 693.0,280.9 693.5,279.3 694.0,277.5 694.5,276.4 695.0,275.8 695.5,275.5 696.0,275.3 696.5,274.5 697.0,273.9 697.5,273.4 698.0,273.3 698.5,273.3 699.0,273.4 699.5,273.4 700.0,273.5 700.5,273.6 701.0,273.7 701.5,273.9 702.0,273.8 702.5,274.0 703.0,274.1 703.5,274.2 704.0,274.5 704.5,274.9 705.0,275.1 705.5,275.5 706.0,275.8 706.5,276.2 707.0,276.4 707.5,276.7 708.0,277.0 708.5,277.1 709.0,277.1 709.5,277.2 710.0,277.2 710.5,277.4 711.0,277.8 711.5,278.0 712.0,278.3 712.5,278.7 713.0,279.1 713.5,279.5 714.0,279.9 714.5,280.3 715.0,280.6 715.5,280.8 716.0,281.1 716.5,281.3 717.0,281.4 717.5,281.6" fill="none" stroke="#f0a23a" stroke-width="1.25" clip-path="url(#cf)"/>
<path d="M534.0,332.2 534.5,332.2 535.0,332.2 535.5,332.1 536.0,332.1 536.5,332.0 537.0,332.1 537.5,332.0 538.0,332.1 538.5,332.0 539.0,332.0 539.5,331.9 540.0,331.9 540.5,332.0 541.0,331.8 541.5,331.9 542.0,331.9 542.5,331.7 543.0,331.8 543.5,331.6 544.0,331.8 544.5,331.8 545.0,331.6 545.5,331.7 546.0,331.6 546.5,331.7 547.0,331.7 547.5,331.6 548.0,331.5 548.5,331.5 549.0,331.6 549.5,331.4 550.0,331.4 550.5,331.4 551.0,331.4 551.5,331.2 552.0,331.1 552.5,331.1 553.0,331.2 553.5,331.0 554.0,331.1 554.5,331.1 555.0,330.9 555.5,330.8 556.0,331.0 556.5,330.8 557.0,330.7 557.5,330.8 558.0,330.6 558.5,330.6 559.0,330.7 559.5,330.7 560.0,330.8 560.5,330.6 561.0,330.6 561.5,330.8 562.0,330.6 562.5,330.5 563.0,330.7 563.5,330.6 564.0,330.6 564.5,330.6 565.0,330.4 565.5,330.5 566.0,330.3 566.5,330.4 567.0,330.5 567.5,330.3 568.0,330.3 568.5,330.2 569.0,330.3 569.5,330.1 570.0,330.0 570.5,330.0 571.0,330.0 571.5,330.0 572.0,329.9 572.5,330.0 573.0,329.9 573.5,329.8 574.0,329.7 574.5,329.8 575.0,329.8 575.5,329.6 576.0,329.6 576.5,329.5 577.0,329.5 577.5,329.6 578.0,329.5 578.5,329.7 579.0,329.5 579.5,329.5 580.0,329.5 580.5,329.6 581.0,329.6 581.5,329.5 582.0,329.5 582.5,329.3 583.0,329.4 583.5,329.3 584.0,329.3 584.5,329.3 585.0,329.2 585.5,329.1 586.0,329.3 586.5,329.0 587.0,329.0 587.5,328.8 588.0,328.8 588.5,328.8 589.0,328.8 589.5,328.8 590.0,328.6 590.5,328.5 591.0,328.4 591.5,328.4 592.0,328.3 592.5,328.3 593.0,328.2 593.5,328.2 594.0,328.0 594.5,328.0 595.0,327.9 595.5,328.0 596.0,327.9 596.5,327.9 597.0,327.7 597.5,327.8 598.0,327.8 598.5,327.6 599.0,327.8 599.5,327.6 600.0,327.7 600.5,327.5 601.0,327.9 601.5,327.9 602.0,327.4 602.5,327.4 603.0,327.9 603.5,327.4 604.0,327.2 604.5,327.5 605.0,327.8 605.5,327.1 606.0,327.6 606.5,327.2 607.0,327.7 607.5,327.5 608.0,327.3 608.5,327.3 609.0,327.3 609.5,327.5 610.0,327.3 610.5,327.6 611.0,327.6 611.5,327.5 612.0,328.0 612.5,327.8 613.0,328.0 613.5,328.2 614.0,328.6 614.5,328.5 615.0,329.3 615.5,329.0 616.0,329.5 616.5,329.5 617.0,330.2 617.5,329.6 618.0,330.1 618.5,330.3 619.0,330.2 619.5,331.1 620.0,331.5 620.5,332.0 621.0,332.5 621.5,332.9 622.0,333.2 622.5,333.4 623.0,334.1 623.5,334.4 624.0,335.5 624.5,336.0 625.0,336.9 625.5,337.8 626.0,338.1 626.5,337.8 627.0,336.5 627.5,335.5 628.0,333.6 628.5,332.5 629.0,331.3 629.5,330.4 630.0,329.5 630.5,329.8 631.0,328.8 631.5,327.9 632.0,326.4 632.5,324.6 633.0,322.9 633.5,320.9 634.0,319.5 634.5,318.4 635.0,316.8 635.5,316.1 636.0,315.7 636.5,315.7 637.0,314.8 637.5,314.1 638.0,312.9 638.5,311.5 639.0,310.1 639.5,309.4 640.0,307.8 640.5,307.7 641.0,307.2 641.5,306.5 642.0,306.1 642.5,305.6 643.0,304.7 643.5,304.6 644.0,303.8 644.5,303.3 645.0,303.0 645.5,302.9 646.0,302.7 646.5,303.0 647.0,302.9 647.5,302.6 648.0,302.8 648.5,302.5 649.0,302.3 649.5,302.5 650.0,302.9 650.5,303.3 651.0,305.3 651.5,306.5 652.0,307.3 652.5,307.9 653.0,308.8 653.5,309.5 654.0,309.6 654.5,308.6 655.0,307.4 655.5,305.4 656.0,303.1 656.5,301.3 657.0,300.8 657.5,299.8 658.0,299.1 658.5,298.2 659.0,296.7 659.5,296.0 660.0,295.8 660.5,295.9 661.0,296.0 661.5,296.2 662.0,296.5 662.5,296.8 663.0,296.9 663.5,297.0 664.0,297.2 664.5,297.2 665.0,297.3 665.5,297.5 666.0,297.8 666.5,297.8 667.0,298.0 667.5,298.2 668.0,298.4 668.5,298.1 669.0,297.8 669.5,297.2 670.0,296.4 670.5,295.4 671.0,294.5 671.5,293.6 672.0,292.8 672.5,292.1 673.0,291.7 673.5,291.4 674.0,290.6 674.5,290.0 675.0,289.2 675.5,288.7 676.0,288.2 676.5,287.6 677.0,287.3 677.5,287.0 678.0,286.7 678.5,286.8 679.0,287.0 679.5,287.1 680.0,287.5 680.5,287.9 681.0,288.2 681.5,288.6 682.0,289.1 682.5,289.5 683.0,289.7 683.5,290.0 684.0,290.2 684.5,290.9 685.0,291.4 685.5,292.1 686.0,292.9 686.5,293.8 687.0,294.6 687.5,295.6 688.0,296.2 688.5,296.6 689.0,296.6 689.5,296.2 690.0,295.0 690.5,293.3 691.0,291.9 691.5,290.5 692.0,290.0 692.5,289.5 693.0,288.3 693.5,286.6 694.0,284.9 694.5,283.7 695.0,283.2 695.5,283.1 696.0,282.7 696.5,282.0 697.0,281.5 697.5,280.9 698.0,280.6 698.5,280.9 699.0,280.8 699.5,280.8 700.0,281.0 700.5,281.1 701.0,281.3 701.5,281.3 702.0,281.3 702.5,281.4 703.0,281.5 703.5,281.7 704.0,282.0 704.5,282.2 705.0,282.5 705.5,282.8 706.0,283.3 706.5,283.3 707.0,283.7 707.5,283.9 708.0,284.1 708.5,284.3 709.0,284.4 709.5,284.4 710.0,284.5 710.5,284.6 711.0,284.9 711.5,285.2 712.0,285.5 712.5,285.8 713.0,286.2 713.5,286.7 714.0,287.0 714.5,287.4 715.0,287.7 715.5,287.9 716.0,288.3 716.5,288.3 717.0,288.3 717.5,288.5" fill="none" stroke="#e85a48" stroke-width="1.25" clip-path="url(#cf)"/>
<path d="M534.0,340.8 534.5,340.9 535.0,340.7 535.5,340.7 536.0,340.7 536.5,340.8 537.0,340.7 537.5,340.7 538.0,340.7 538.5,340.6 539.0,340.5 539.5,340.6 540.0,340.5 540.5,340.4 541.0,340.4 541.5,340.4 542.0,340.4 542.5,340.3 543.0,340.2 543.5,340.2 544.0,340.3 544.5,340.3 545.0,340.3 545.5,340.3 546.0,340.3 546.5,340.3 547.0,340.4 547.5,340.2 548.0,340.2 548.5,340.1 549.0,340.0 549.5,340.0 550.0,340.0 550.5,340.0 551.0,340.0 551.5,339.9 552.0,339.9 552.5,339.8 553.0,339.7 553.5,339.6 554.0,339.7 554.5,339.5 555.0,339.6 555.5,339.6 556.0,339.4 556.5,339.5 557.0,339.5 557.5,339.3 558.0,339.3 558.5,339.4 559.0,339.3 559.5,339.3 560.0,339.4 560.5,339.3 561.0,339.4 561.5,339.3 562.0,339.4 562.5,339.2 563.0,339.2 563.5,339.1 564.0,339.1 564.5,339.1 565.0,339.2 565.5,339.1 566.0,339.1 566.5,339.0 567.0,339.1 567.5,339.0 568.0,338.9 568.5,338.8 569.0,338.8 569.5,338.9 570.0,338.7 570.5,338.8 571.0,338.8 571.5,338.7 572.0,338.5 572.5,338.5 573.0,338.5 573.5,338.4 574.0,338.4 574.5,338.5 575.0,338.5 575.5,338.3 576.0,338.4 576.5,338.3 577.0,338.3 577.5,338.3 578.0,338.2 578.5,338.3 579.0,338.3 579.5,338.2 580.0,338.2 580.5,338.2 581.0,338.3 581.5,338.3 582.0,338.2 582.5,338.2 583.0,338.1 583.5,338.0 584.0,338.0 584.5,338.1 585.0,338.1 585.5,338.0 586.0,337.9 586.5,337.9 587.0,337.7 587.5,337.7 588.0,337.6 588.5,337.7 589.0,337.5 589.5,337.4 590.0,337.5 590.5,337.3 591.0,337.3 591.5,337.1 592.0,337.2 592.5,337.0 593.0,337.0 593.5,336.9 594.0,336.8 594.5,337.0 595.0,336.8 595.5,336.7 596.0,336.6 596.5,336.6 597.0,336.6 597.5,336.6 598.0,336.6 598.5,336.6 599.0,336.7 599.5,336.5 600.0,336.5 600.5,336.6 601.0,336.5 601.5,336.5 602.0,336.6 602.5,336.6 603.0,336.8 603.5,336.4 604.0,336.2 604.5,336.5 605.0,336.5 605.5,336.3 606.0,336.4 606.5,336.3 607.0,336.7 607.5,336.4 608.0,336.3 608.5,336.6 609.0,336.2 609.5,336.2 610.0,336.3 610.5,336.7 611.0,336.6 611.5,336.8 612.0,336.5 612.5,337.0 613.0,336.9 613.5,337.7 614.0,338.0 614.5,337.8 615.0,338.2 615.5,338.5 616.0,338.5 616.5,338.9 617.0,338.8 617.5,338.9 618.0,338.9 618.5,339.4 619.0,339.7 619.5,340.3 620.0,340.4 620.5,341.2 621.0,341.9 621.5,342.0 622.0,342.0 622.5,342.2 623.0,343.2 623.5,343.9 624.0,344.4 624.5,345.4 625.0,345.8 625.5,346.7 626.0,347.2 626.5,346.3 627.0,345.7 627.5,344.7 628.0,343.1 628.5,341.5 629.0,340.4 629.5,339.6 630.0,339.1 630.5,338.7 631.0,338.4 631.5,337.4 632.0,335.8 632.5,334.3 633.0,332.5 633.5,330.9 634.0,329.4 634.5,328.1 635.0,327.1 635.5,325.9 636.0,325.7 636.5,325.8 637.0,324.8 637.5,324.2 638.0,322.9 638.5,321.3 639.0,319.8 639.5,318.9 640.0,317.9 640.5,317.0 641.0,317.2 641.5,316.6 642.0,315.9 642.5,316.1 643.0,315.5 643.5,314.5 644.0,314.3 644.5,313.5 645.0,313.4 645.5,313.0 646.0,313.2 646.5,313.0 647.0,312.5 647.5,312.8 648.0,312.5 648.5,311.7 649.0,311.4 649.5,311.7 650.0,311.6 650.5,312.9 651.0,313.9 651.5,315.5 652.0,316.8 652.5,317.0 653.0,318.2 653.5,319.3 654.0,319.7 654.5,318.7 655.0,317.2 655.5,314.9 656.0,313.0 656.5,311.2 657.0,310.5 657.5,309.6 658.0,309.1 658.5,307.5 659.0,306.5 659.5,305.6 660.0,305.6 660.5,305.6 661.0,305.7 661.5,305.9 662.0,306.1 662.5,306.3 663.0,306.7 663.5,306.6 664.0,306.8 664.5,306.8 665.0,306.9 665.5,307.1 666.0,307.3 666.5,307.5 667.0,307.8 667.5,308.0 668.0,307.9 668.5,307.8 669.0,307.1 669.5,306.6 670.0,305.6 670.5,304.7 671.0,303.7 671.5,302.6 672.0,301.9 672.5,301.1 673.0,300.9 673.5,300.7 674.0,300.2 674.5,299.7 675.0,298.8 675.5,298.3 676.0,297.7 676.5,297.3 677.0,296.8 677.5,296.6 678.0,296.5 678.5,296.7 679.0,296.8 679.5,297.2 680.0,297.5 680.5,298.0 681.0,298.5 681.5,299.0 682.0,299.4 682.5,299.7 683.0,299.9 683.5,300.2 684.0,300.4 684.5,301.0 685.0,301.6 685.5,302.2 686.0,303.0 686.5,303.9 687.0,304.7 687.5,305.4 688.0,306.1 688.5,306.3 689.0,306.6 689.5,306.0 690.0,304.9 690.5,303.2 691.0,301.6 691.5,300.6 692.0,300.0 692.5,299.7 693.0,298.3 693.5,296.8 694.0,295.1 694.5,294.0 695.0,293.4 695.5,293.4 696.0,292.8 696.5,292.3 697.0,291.8 697.5,291.1 698.0,291.0 698.5,291.1 699.0,291.0 699.5,291.2 700.0,291.3 700.5,291.4 701.0,291.5 701.5,291.6 702.0,291.6 702.5,291.5 703.0,291.6 703.5,292.0 704.0,292.1 704.5,292.2 705.0,292.7 705.5,292.8 706.0,293.2 706.5,293.5 707.0,293.8 707.5,293.9 708.0,294.1 708.5,294.2 709.0,294.3 709.5,294.3 710.0,294.4 710.5,294.5 711.0,294.9 711.5,295.0 712.0,295.4 712.5,295.6 713.0,295.9 713.5,296.3 714.0,296.7 714.5,297.0 715.0,297.3 715.5,297.5 716.0,297.8 716.5,298.1 717.0,298.0 717.5,298.2" fill="none" stroke="#e04444" stroke-width="1.25" clip-path="url(#cf)"/>
<path d="M534.0,349.4 534.5,349.4 535.0,349.5 535.5,349.4 536.0,349.4 536.5,349.3 537.0,349.4 537.5,349.4 538.0,349.3 538.5,349.2 539.0,349.1 539.5,349.2 540.0,349.2 540.5,349.2 541.0,349.0 541.5,349.0 542.0,349.1 542.5,349.0 543.0,348.9 543.5,348.9 544.0,348.8 544.5,349.0 545.0,349.0 545.5,348.9 546.0,348.9 546.5,348.9 547.0,348.9 547.5,348.9 548.0,348.8 548.5,348.8 549.0,348.7 549.5,348.7 550.0,348.6 550.5,348.6 551.0,348.5 551.5,348.4 552.0,348.4 552.5,348.3 553.0,348.3 553.5,348.2 554.0,348.2 554.5,348.1 555.0,348.2 555.5,348.1 556.0,348.0 556.5,348.0 557.0,348.0 557.5,347.9 558.0,348.1 558.5,348.0 559.0,347.8 559.5,347.8 560.0,348.0 560.5,348.0 561.0,347.8 561.5,347.9 562.0,347.9 562.5,347.8 563.0,347.8 563.5,347.8 564.0,347.8 564.5,347.9 565.0,347.8 565.5,347.8 566.0,347.7 566.5,347.6 567.0,347.7 567.5,347.7 568.0,347.6 568.5,347.6 569.0,347.5 569.5,347.3 570.0,347.3 570.5,347.3 571.0,347.3 571.5,347.2 572.0,347.3 572.5,347.3 573.0,347.2 573.5,347.1 574.0,347.0 574.5,347.2 575.0,347.0 575.5,347.0 576.0,347.1 576.5,347.0 577.0,347.1 577.5,346.8 578.0,347.0 578.5,346.9 579.0,346.9 579.5,346.8 580.0,346.9 580.5,347.0 581.0,346.8 581.5,346.9 582.0,346.8 582.5,346.7 583.0,346.9 583.5,346.9 584.0,346.8 584.5,346.8 585.0,346.8 585.5,346.7 586.0,346.5 586.5,346.6 587.0,346.5 587.5,346.5 588.0,346.5 588.5,346.2 589.0,346.2 589.5,346.1 590.0,346.1 590.5,346.1 591.0,346.1 591.5,346.0 592.0,346.0 592.5,345.9 593.0,345.8 593.5,345.7 594.0,345.8 594.5,345.6 595.0,345.6 595.5,345.5 596.0,345.5 596.5,345.5 597.0,345.4 597.5,345.6 598.0,345.3 598.5,345.5 599.0,345.3 599.5,345.5 600.0,345.5 600.5,345.5 601.0,345.1 601.5,345.4 602.0,345.1 602.5,345.3 603.0,345.5 603.5,345.2 604.0,345.1 604.5,345.1 605.0,345.5 605.5,345.2 606.0,345.3 606.5,345.4 607.0,345.5 607.5,345.6 608.0,345.5 608.5,345.1 609.0,345.4 609.5,345.5 610.0,345.4 610.5,345.8 611.0,345.8 611.5,345.4 612.0,345.5 612.5,345.9 613.0,346.3 613.5,346.9 614.0,347.0 614.5,347.4 615.0,347.3 615.5,347.8 616.0,347.7 616.5,348.3 617.0,348.4 617.5,348.6 618.0,348.3 618.5,348.7 619.0,348.8 619.5,349.2 620.0,349.8 620.5,350.6 621.0,351.1 621.5,351.3 622.0,351.5 622.5,351.7 623.0,351.8 623.5,352.6 624.0,353.7 624.5,354.2 625.0,355.0 625.5,355.4 626.0,355.9 626.5,355.9 627.0,354.6 627.5,353.3 628.0,352.0 628.5,351.0 629.0,349.9 629.5,349.0 630.0,348.1 630.5,348.2 631.0,347.3 631.5,346.1 632.0,345.1 632.5,343.9 633.0,342.1 633.5,340.5 634.0,338.5 634.5,337.5 635.0,336.6 635.5,335.7 636.0,335.1 636.5,334.9 637.0,334.2 637.5,333.2 638.0,332.2 638.5,331.1 639.0,329.9 639.5,328.6 640.0,327.3 640.5,326.6 641.0,326.1 641.5,326.3 642.0,326.3 642.5,325.4 643.0,324.8 643.5,324.3 644.0,323.6 644.5,323.7 645.0,323.2 645.5,322.5 646.0,322.4 646.5,322.2 647.0,322.0 647.5,321.7 648.0,321.4 648.5,320.9 649.0,320.9 649.5,320.2 650.0,320.5 650.5,321.1 651.0,323.1 651.5,324.8 652.0,325.7 652.5,325.9 653.0,327.2 653.5,328.1 654.0,328.7 654.5,328.2 655.0,326.1 655.5,323.8 656.0,322.0 656.5,320.4 657.0,319.2 657.5,319.0 658.0,318.1 658.5,317.3 659.0,315.8 659.5,315.3 660.0,314.9 660.5,314.7 661.0,315.0 661.5,315.3 662.0,315.3 662.5,315.7 663.0,315.8 663.5,316.0 664.0,315.9 664.5,316.1 665.0,316.2 665.5,316.4 666.0,316.5 666.5,316.7 667.0,317.0 667.5,317.1 668.0,317.0 668.5,316.9 669.0,316.4 669.5,315.3 670.0,314.3 670.5,313.3 671.0,312.2 671.5,311.2 672.0,310.3 672.5,309.7 673.0,309.5 673.5,309.3 674.0,309.1 674.5,308.6 675.0,307.9 675.5,307.2 676.0,306.7 676.5,306.2 677.0,305.8 677.5,305.5 678.0,305.6 678.5,305.9 679.0,306.1 679.5,306.7 680.0,307.3 680.5,307.7 681.0,308.3 681.5,308.8 682.0,309.2 682.5,309.4 683.0,309.5 683.5,309.7 684.0,309.9 684.5,310.6 685.0,311.3 685.5,312.0 686.0,312.8 686.5,313.6 687.0,314.4 687.5,314.9 688.0,315.4 688.5,315.9 689.0,316.0 689.5,315.6 690.0,314.3 690.5,312.8 691.0,311.1 691.5,309.9 692.0,309.5 692.5,309.1 693.0,307.8 693.5,306.2 694.0,304.6 694.5,303.5 695.0,303.1 695.5,302.7 696.0,302.4 696.5,301.7 697.0,301.1 697.5,300.7 698.0,300.6 698.5,300.5 699.0,300.6 699.5,300.7 700.0,300.7 700.5,300.8 701.0,300.9 701.5,300.9 702.0,301.0 702.5,301.1 703.0,301.2 703.5,301.3 704.0,301.6 704.5,301.6 705.0,302.0 705.5,302.2 706.0,302.5 706.5,302.8 707.0,302.9 707.5,303.2 708.0,303.4 708.5,303.4 709.0,303.4 709.5,303.6 710.0,303.6 710.5,303.8 711.0,303.9 711.5,304.2 712.0,304.5 712.5,304.7 713.0,305.1 713.5,305.3 714.0,305.8 714.5,306.0 715.0,306.4 715.5,306.6 716.0,306.8 716.5,306.9 717.0,307.2 717.5,307.0" fill="none" stroke="#e03434" stroke-width="1.25" clip-path="url(#cf)"/>
<text x="720.8" y="224.2" font-family="Liberation Sans" font-weight="bold" font-size="6.2" fill="#111">-0.6V</text>
<text x="720.8" y="232.79999999999998" font-family="Liberation Sans" font-weight="bold" font-size="6.2" fill="#111">-0.7V</text>
<text x="720.8" y="239.5" font-family="Liberation Sans" font-weight="bold" font-size="6.2" fill="#111">-0.8V</text>
<text x="720.8" y="245.7" font-family="Liberation Sans" font-weight="bold" font-size="6.2" fill="#111">-0.9V</text>
<text x="720.8" y="252.7" font-family="Liberation Sans" font-weight="bold" font-size="6.2" fill="#111">-1.0V</text>
<text x="720.8" y="260.59999999999997" font-family="Liberation Sans" font-weight="bold" font-size="6.2" fill="#111">-1.1V</text>
<text x="720.8" y="269.0" font-family="Liberation Sans" font-weight="bold" font-size="6.2" fill="#111">-1.2V</text>
<text x="720.8" y="280.5" font-family="Liberation Sans" font-weight="bold" font-size="6.2" fill="#111">-1.3V</text>
<text x="720.8" y="288.2" font-family="Liberation Sans" font-weight="bold" font-size="6.2" fill="#111">-1.4V</text>
<text x="720.8" y="296.5" font-family="Liberation Sans" font-weight="bold" font-size="6.2" fill="#111">-1.5V</text>
<text x="720.8" y="305.2" font-family="Liberation Sans" font-weight="bold" font-size="6.2" fill="#111">-1.6V</text>
</svg></body></html>
